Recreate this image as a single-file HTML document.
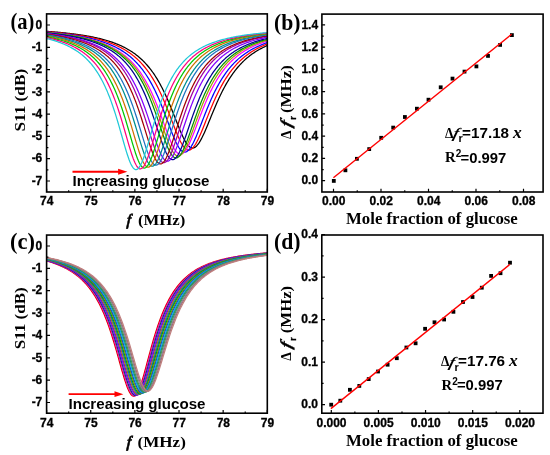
<!DOCTYPE html><html><head><meta charset="utf-8"><title>S11 glucose figure</title><style>html,body{margin:0;padding:0;background:#fff;overflow:hidden}svg{display:block}</style></head><body>
<svg width="550" height="455" viewBox="0 0 550 455">
<rect width="550" height="455" fill="#fff"/>
<clipPath id="clipa"><rect x="46.6" y="13.9" width="220.7" height="178.1"/></clipPath>
<g clip-path="url(#clipa)" fill="none" stroke-width="1.25" stroke-linejoin="round">
<path d="M46.60,31.34 L47.45,31.40 L48.30,31.46 L49.15,31.53 L50.00,31.59 L50.84,31.66 L51.69,31.72 L52.54,31.79 L53.39,31.86 L54.24,31.93 L55.09,32.00 L55.94,32.08 L56.79,32.15 L57.64,32.23 L58.48,32.30 L59.33,32.38 L60.18,32.46 L61.03,32.54 L61.88,32.63 L62.73,32.71 L63.58,32.80 L64.43,32.88 L65.27,32.97 L66.12,33.06 L66.97,33.16 L67.82,33.25 L68.67,33.35 L69.52,33.44 L70.37,33.54 L71.22,33.64 L72.07,33.75 L72.91,33.85 L73.76,33.96 L74.61,34.07 L75.46,34.18 L76.31,34.29 L77.16,34.41 L78.01,34.53 L78.86,34.65 L79.71,34.77 L80.55,34.90 L81.40,35.03 L82.25,35.16 L83.10,35.29 L83.95,35.43 L84.80,35.56 L85.65,35.71 L86.50,35.85 L87.34,36.00 L88.19,36.15 L89.04,36.31 L89.89,36.46 L90.74,36.63 L91.59,36.79 L92.44,36.96 L93.29,37.13 L94.14,37.31 L94.98,37.49 L95.83,37.67 L96.68,37.86 L97.53,38.05 L98.38,38.25 L99.23,38.45 L100.08,38.66 L100.93,38.87 L101.78,39.09 L102.62,39.31 L103.47,39.54 L104.32,39.77 L105.17,40.01 L106.02,40.25 L106.87,40.50 L107.72,40.76 L108.57,41.02 L109.41,41.29 L110.26,41.57 L111.11,41.85 L111.96,42.14 L112.81,42.44 L113.66,42.75 L114.51,43.06 L115.36,43.38 L116.21,43.71 L117.05,44.05 L117.90,44.40 L118.75,44.76 L119.60,45.13 L120.45,45.51 L121.30,45.89 L122.15,46.29 L123.00,46.70 L123.84,47.13 L124.69,47.56 L125.54,48.01 L126.39,48.46 L127.24,48.94 L128.09,49.42 L128.94,49.92 L129.79,50.44 L130.64,50.97 L131.48,51.51 L132.33,52.07 L133.18,52.65 L134.03,53.25 L134.88,53.86 L135.73,54.49 L136.58,55.15 L137.43,55.82 L138.28,56.51 L139.12,57.23 L139.97,57.96 L140.82,58.72 L141.67,59.50 L142.52,60.31 L143.37,61.15 L144.22,62.00 L145.07,62.89 L145.92,63.81 L146.76,64.75 L147.61,65.72 L148.46,66.73 L149.31,67.76 L150.16,68.83 L151.01,69.94 L151.86,71.08 L152.71,72.25 L153.55,73.46 L154.40,74.71 L155.25,76.00 L156.10,77.33 L156.95,78.70 L157.80,80.11 L158.65,81.56 L159.50,83.06 L160.35,84.59 L161.19,86.18 L162.04,87.81 L162.89,89.48 L163.74,91.20 L164.59,92.96 L165.44,94.77 L166.29,96.62 L167.14,98.51 L167.99,100.44 L168.83,102.42 L169.68,104.43 L170.53,106.47 L171.38,108.55 L172.23,110.65 L173.08,112.78 L173.93,114.93 L174.78,117.09 L175.62,119.25 L176.47,121.42 L177.32,123.57 L178.17,125.71 L179.02,127.82 L179.87,129.89 L180.72,131.91 L181.57,133.87 L182.42,135.76 L183.26,137.55 L184.11,139.25 L184.96,140.83 L185.81,142.29 L186.66,143.61 L187.51,144.77 L188.36,145.77 L189.21,146.60 L190.06,147.25 L190.90,147.71 L191.75,147.97 L192.60,148.04 L193.45,147.92 L194.30,147.62 L195.15,147.14 L196.00,146.49 L196.85,145.68 L197.69,144.70 L198.54,143.57 L199.39,142.30 L200.24,140.91 L201.09,139.39 L201.94,137.77 L202.79,136.06 L203.64,134.26 L204.49,132.39 L205.33,130.46 L206.18,128.48 L207.03,126.47 L207.88,124.42 L208.73,122.35 L209.58,120.27 L210.43,118.19 L211.28,116.11 L212.13,114.04 L212.97,111.98 L213.82,109.94 L214.67,107.93 L215.52,105.94 L216.37,103.98 L217.22,102.05 L218.07,100.16 L218.92,98.31 L219.76,96.49 L220.61,94.71 L221.46,92.98 L222.31,91.28 L223.16,89.63 L224.01,88.01 L224.86,86.44 L225.71,84.91 L226.56,83.42 L227.40,81.97 L228.25,80.56 L229.10,79.19 L229.95,77.86 L230.80,76.57 L231.65,75.31 L232.50,74.09 L233.35,72.91 L234.19,71.76 L235.04,70.65 L235.89,69.56 L236.74,68.51 L237.59,67.49 L238.44,66.50 L239.29,65.54 L240.14,64.61 L240.99,63.71 L241.83,62.83 L242.68,61.98 L243.53,61.15 L244.38,60.35 L245.23,59.57 L246.08,58.82 L246.93,58.08 L247.78,57.37 L248.63,56.68 L249.47,56.01 L250.32,55.36 L251.17,54.72 L252.02,54.11 L252.87,53.51 L253.72,52.93 L254.57,52.37 L255.42,51.82 L256.27,51.28 L257.11,50.77 L257.96,50.26 L258.81,49.77 L259.66,49.30 L260.51,48.83 L261.36,48.38 L262.21,47.94 L263.06,47.51 L263.90,47.10 L264.75,46.69 L265.60,46.30 L266.45,45.91 L267.30,45.54" stroke="#000000"/>
<path d="M46.60,31.67 L47.45,31.74 L48.30,31.80 L49.15,31.87 L50.00,31.94 L50.84,32.02 L51.69,32.09 L52.54,32.16 L53.39,32.24 L54.24,32.31 L55.09,32.39 L55.94,32.47 L56.79,32.55 L57.64,32.63 L58.48,32.72 L59.33,32.80 L60.18,32.89 L61.03,32.98 L61.88,33.07 L62.73,33.16 L63.58,33.25 L64.43,33.35 L65.27,33.44 L66.12,33.54 L66.97,33.64 L67.82,33.74 L68.67,33.85 L69.52,33.95 L70.37,34.06 L71.22,34.17 L72.07,34.29 L72.91,34.40 L73.76,34.52 L74.61,34.64 L75.46,34.76 L76.31,34.88 L77.16,35.01 L78.01,35.14 L78.86,35.27 L79.71,35.41 L80.55,35.55 L81.40,35.69 L82.25,35.83 L83.10,35.98 L83.95,36.13 L84.80,36.28 L85.65,36.44 L86.50,36.60 L87.34,36.76 L88.19,36.93 L89.04,37.10 L89.89,37.27 L90.74,37.45 L91.59,37.64 L92.44,37.82 L93.29,38.01 L94.14,38.21 L94.98,38.41 L95.83,38.61 L96.68,38.82 L97.53,39.04 L98.38,39.26 L99.23,39.48 L100.08,39.71 L100.93,39.95 L101.78,40.19 L102.62,40.44 L103.47,40.69 L104.32,40.96 L105.17,41.22 L106.02,41.50 L106.87,41.78 L107.72,42.07 L108.57,42.36 L109.41,42.66 L110.26,42.98 L111.11,43.29 L111.96,43.62 L112.81,43.96 L113.66,44.30 L114.51,44.66 L115.36,45.02 L116.21,45.40 L117.05,45.78 L117.90,46.18 L118.75,46.59 L119.60,47.01 L120.45,47.44 L121.30,47.88 L122.15,48.33 L123.00,48.80 L123.84,49.28 L124.69,49.78 L125.54,50.29 L126.39,50.81 L127.24,51.36 L128.09,51.91 L128.94,52.49 L129.79,53.08 L130.64,53.69 L131.48,54.32 L132.33,54.96 L133.18,55.63 L134.03,56.32 L134.88,57.03 L135.73,57.76 L136.58,58.51 L137.43,59.29 L138.28,60.09 L139.12,60.92 L139.97,61.78 L140.82,62.66 L141.67,63.57 L142.52,64.51 L143.37,65.48 L144.22,66.48 L145.07,67.51 L145.92,68.57 L146.76,69.67 L147.61,70.81 L148.46,71.98 L149.31,73.19 L150.16,74.43 L151.01,75.72 L151.86,77.05 L152.71,78.41 L153.55,79.82 L154.40,81.28 L155.25,82.78 L156.10,84.32 L156.95,85.91 L157.80,87.54 L158.65,89.22 L159.50,90.94 L160.35,92.72 L161.19,94.54 L162.04,96.40 L162.89,98.31 L163.74,100.26 L164.59,102.26 L165.44,104.30 L166.29,106.37 L167.14,108.48 L167.99,110.62 L168.83,112.79 L169.68,114.99 L170.53,117.20 L171.38,119.42 L172.23,121.64 L173.08,123.86 L173.93,126.07 L174.78,128.26 L175.62,130.41 L176.47,132.52 L177.32,134.57 L178.17,136.56 L179.02,138.46 L179.87,140.26 L180.72,141.95 L181.57,143.52 L182.42,144.95 L183.26,146.23 L184.11,147.34 L184.96,148.28 L185.81,149.04 L186.66,149.60 L187.51,149.96 L188.36,150.12 L189.21,150.08 L190.06,149.85 L190.90,149.43 L191.75,148.83 L192.60,148.05 L193.45,147.10 L194.30,145.99 L195.15,144.73 L196.00,143.34 L196.85,141.81 L197.69,140.18 L198.54,138.44 L199.39,136.61 L200.24,134.70 L201.09,132.73 L201.94,130.70 L202.79,128.64 L203.64,126.54 L204.49,124.41 L205.33,122.28 L206.18,120.13 L207.03,117.99 L207.88,115.86 L208.73,113.74 L209.58,111.64 L210.43,109.56 L211.28,107.52 L212.13,105.50 L212.97,103.51 L213.82,101.57 L214.67,99.66 L215.52,97.79 L216.37,95.96 L217.22,94.17 L218.07,92.43 L218.92,90.73 L219.76,89.07 L220.61,87.46 L221.46,85.89 L222.31,84.36 L223.16,82.87 L224.01,81.42 L224.86,80.02 L225.71,78.66 L226.56,77.33 L227.40,76.04 L228.25,74.80 L229.10,73.58 L229.95,72.41 L230.80,71.27 L231.65,70.16 L232.50,69.08 L233.35,68.04 L234.19,67.03 L235.04,66.05 L235.89,65.10 L236.74,64.18 L237.59,63.28 L238.44,62.42 L239.29,61.57 L240.14,60.76 L240.99,59.96 L241.83,59.19 L242.68,58.45 L243.53,57.72 L244.38,57.02 L245.23,56.33 L246.08,55.67 L246.93,55.03 L247.78,54.40 L248.63,53.79 L249.47,53.20 L250.32,52.63 L251.17,52.07 L252.02,51.53 L252.87,51.01 L253.72,50.49 L254.57,50.00 L255.42,49.51 L256.27,49.04 L257.11,48.59 L257.96,48.14 L258.81,47.71 L259.66,47.29 L260.51,46.87 L261.36,46.48 L262.21,46.09 L263.06,45.71 L263.90,45.34 L264.75,44.98 L265.60,44.63 L266.45,44.29 L267.30,43.95" stroke="#ff0000"/>
<path d="M46.60,32.08 L47.45,32.15 L48.30,32.22 L49.15,32.30 L50.00,32.37 L50.84,32.45 L51.69,32.53 L52.54,32.61 L53.39,32.69 L54.24,32.78 L55.09,32.86 L55.94,32.95 L56.79,33.04 L57.64,33.13 L58.48,33.22 L59.33,33.31 L60.18,33.41 L61.03,33.50 L61.88,33.60 L62.73,33.70 L63.58,33.80 L64.43,33.91 L65.27,34.01 L66.12,34.12 L66.97,34.23 L67.82,34.35 L68.67,34.46 L69.52,34.58 L70.37,34.70 L71.22,34.82 L72.07,34.94 L72.91,35.07 L73.76,35.20 L74.61,35.33 L75.46,35.47 L76.31,35.61 L77.16,35.75 L78.01,35.89 L78.86,36.04 L79.71,36.19 L80.55,36.34 L81.40,36.50 L82.25,36.66 L83.10,36.82 L83.95,36.99 L84.80,37.16 L85.65,37.33 L86.50,37.51 L87.34,37.69 L88.19,37.88 L89.04,38.07 L89.89,38.27 L90.74,38.47 L91.59,38.67 L92.44,38.88 L93.29,39.10 L94.14,39.32 L94.98,39.54 L95.83,39.77 L96.68,40.01 L97.53,40.25 L98.38,40.50 L99.23,40.75 L100.08,41.01 L100.93,41.28 L101.78,41.55 L102.62,41.83 L103.47,42.12 L104.32,42.42 L105.17,42.72 L106.02,43.03 L106.87,43.35 L107.72,43.68 L108.57,44.01 L109.41,44.36 L110.26,44.71 L111.11,45.08 L111.96,45.45 L112.81,45.84 L113.66,46.23 L114.51,46.64 L115.36,47.06 L116.21,47.49 L117.05,47.93 L117.90,48.38 L118.75,48.85 L119.60,49.33 L120.45,49.83 L121.30,50.34 L122.15,50.86 L123.00,51.40 L123.84,51.96 L124.69,52.53 L125.54,53.12 L126.39,53.73 L127.24,54.36 L128.09,55.01 L128.94,55.67 L129.79,56.36 L130.64,57.07 L131.48,57.80 L132.33,58.56 L133.18,59.33 L134.03,60.14 L134.88,60.96 L135.73,61.82 L136.58,62.70 L137.43,63.61 L138.28,64.55 L139.12,65.52 L139.97,66.52 L140.82,67.56 L141.67,68.62 L142.52,69.72 L143.37,70.86 L144.22,72.03 L145.07,73.24 L145.92,74.49 L146.76,75.78 L147.61,77.11 L148.46,78.49 L149.31,79.90 L150.16,81.36 L151.01,82.87 L151.86,84.42 L152.71,86.01 L153.55,87.65 L154.40,89.34 L155.25,91.08 L156.10,92.87 L156.95,94.70 L157.80,96.58 L158.65,98.51 L159.50,100.48 L160.35,102.50 L161.19,104.56 L162.04,106.67 L162.89,108.81 L163.74,110.98 L164.59,113.19 L165.44,115.42 L166.29,117.67 L167.14,119.94 L167.99,122.21 L168.83,124.49 L169.68,126.75 L170.53,129.00 L171.38,131.22 L172.23,133.40 L173.08,135.53 L173.93,137.59 L174.78,139.57 L175.62,141.46 L176.47,143.23 L177.32,144.89 L178.17,146.41 L179.02,147.78 L179.87,148.98 L180.72,150.00 L181.57,150.84 L182.42,151.48 L183.26,151.92 L184.11,152.15 L184.96,152.17 L185.81,151.99 L186.66,151.62 L187.51,151.05 L188.36,150.30 L189.21,149.38 L190.06,148.28 L190.90,147.03 L191.75,145.63 L192.60,144.10 L193.45,142.44 L194.30,140.68 L195.15,138.82 L196.00,136.88 L196.85,134.87 L197.69,132.80 L198.54,130.69 L199.39,128.54 L200.24,126.37 L201.09,124.18 L201.94,121.99 L202.79,119.79 L203.64,117.61 L204.49,115.43 L205.33,113.28 L206.18,111.15 L207.03,109.05 L207.88,106.98 L208.73,104.95 L209.58,102.95 L210.43,101.00 L211.28,99.08 L212.13,97.21 L212.97,95.38 L213.82,93.59 L214.67,91.85 L215.52,90.15 L216.37,88.50 L217.22,86.89 L218.07,85.33 L218.92,83.81 L219.76,82.33 L220.61,80.89 L221.46,79.50 L222.31,78.14 L223.16,76.83 L224.01,75.55 L224.86,74.32 L225.71,73.12 L226.56,71.95 L227.40,70.82 L228.25,69.73 L229.10,68.66 L229.95,67.63 L230.80,66.63 L231.65,65.66 L232.50,64.72 L233.35,63.81 L234.19,62.93 L235.04,62.07 L235.89,61.24 L236.74,60.43 L237.59,59.65 L238.44,58.89 L239.29,58.15 L240.14,57.43 L240.99,56.74 L241.83,56.06 L242.68,55.41 L243.53,54.77 L244.38,54.16 L245.23,53.56 L246.08,52.97 L246.93,52.41 L247.78,51.86 L248.63,51.32 L249.47,50.80 L250.32,50.30 L251.17,49.81 L252.02,49.33 L252.87,48.87 L253.72,48.41 L254.57,47.97 L255.42,47.55 L256.27,47.13 L257.11,46.72 L257.96,46.33 L258.81,45.95 L259.66,45.57 L260.51,45.21 L261.36,44.85 L262.21,44.51 L263.06,44.17 L263.90,43.84 L264.75,43.52 L265.60,43.21 L266.45,42.90 L267.30,42.61" stroke="#0000ff"/>
<path d="M46.60,32.43 L47.45,32.51 L48.30,32.59 L49.15,32.67 L50.00,32.75 L50.84,32.84 L51.69,32.92 L52.54,33.01 L53.39,33.10 L54.24,33.19 L55.09,33.28 L55.94,33.38 L56.79,33.47 L57.64,33.57 L58.48,33.67 L59.33,33.77 L60.18,33.88 L61.03,33.98 L61.88,34.09 L62.73,34.20 L63.58,34.31 L64.43,34.42 L65.27,34.54 L66.12,34.66 L66.97,34.78 L67.82,34.90 L68.67,35.03 L69.52,35.16 L70.37,35.29 L71.22,35.42 L72.07,35.56 L72.91,35.70 L73.76,35.84 L74.61,35.99 L75.46,36.14 L76.31,36.29 L77.16,36.44 L78.01,36.60 L78.86,36.76 L79.71,36.93 L80.55,37.10 L81.40,37.27 L82.25,37.45 L83.10,37.63 L83.95,37.82 L84.80,38.01 L85.65,38.20 L86.50,38.40 L87.34,38.60 L88.19,38.81 L89.04,39.02 L89.89,39.24 L90.74,39.47 L91.59,39.70 L92.44,39.93 L93.29,40.17 L94.14,40.42 L94.98,40.67 L95.83,40.93 L96.68,41.19 L97.53,41.47 L98.38,41.75 L99.23,42.03 L100.08,42.33 L100.93,42.63 L101.78,42.94 L102.62,43.25 L103.47,43.58 L104.32,43.92 L105.17,44.26 L106.02,44.61 L106.87,44.98 L107.72,45.35 L108.57,45.73 L109.41,46.13 L110.26,46.53 L111.11,46.95 L111.96,47.38 L112.81,47.82 L113.66,48.27 L114.51,48.74 L115.36,49.22 L116.21,49.71 L117.05,50.22 L117.90,50.75 L118.75,51.29 L119.60,51.84 L120.45,52.42 L121.30,53.01 L122.15,53.62 L123.00,54.24 L123.84,54.89 L124.69,55.56 L125.54,56.25 L126.39,56.96 L127.24,57.69 L128.09,58.44 L128.94,59.22 L129.79,60.03 L130.64,60.86 L131.48,61.72 L132.33,62.60 L133.18,63.52 L134.03,64.46 L134.88,65.43 L135.73,66.44 L136.58,67.48 L137.43,68.55 L138.28,69.66 L139.12,70.81 L139.97,71.99 L140.82,73.21 L141.67,74.47 L142.52,75.77 L143.37,77.12 L144.22,78.50 L145.07,79.93 L145.92,81.41 L146.76,82.93 L147.61,84.50 L148.46,86.12 L149.31,87.79 L150.16,89.50 L151.01,91.27 L151.86,93.08 L152.71,94.95 L153.55,96.86 L154.40,98.83 L155.25,100.84 L156.10,102.90 L156.95,105.01 L157.80,107.16 L158.65,109.35 L159.50,111.57 L160.35,113.84 L161.19,116.13 L162.04,118.44 L162.89,120.78 L163.74,123.12 L164.59,125.47 L165.44,127.81 L166.29,130.13 L167.14,132.43 L167.99,134.68 L168.83,136.89 L169.68,139.02 L170.53,141.08 L171.38,143.04 L172.23,144.89 L173.08,146.62 L173.93,148.20 L174.78,149.62 L175.62,150.87 L176.47,151.94 L177.32,152.81 L178.17,153.48 L179.02,153.93 L179.87,154.16 L180.72,154.17 L181.57,153.98 L182.42,153.58 L183.26,152.97 L184.11,152.18 L184.96,151.20 L185.81,150.04 L186.66,148.72 L187.51,147.25 L188.36,145.64 L189.21,143.91 L190.06,142.06 L190.90,140.12 L191.75,138.09 L192.60,136.00 L193.45,133.85 L194.30,131.66 L195.15,129.43 L196.00,127.18 L196.85,124.92 L197.69,122.65 L198.54,120.39 L199.39,118.14 L200.24,115.90 L201.09,113.69 L201.94,111.51 L202.79,109.36 L203.64,107.24 L204.49,105.16 L205.33,103.12 L206.18,101.13 L207.03,99.17 L207.88,97.27 L208.73,95.41 L209.58,93.59 L210.43,91.82 L211.28,90.10 L212.13,88.43 L212.97,86.80 L213.82,85.22 L214.67,83.68 L215.52,82.19 L216.37,80.74 L217.22,79.33 L218.07,77.97 L218.92,76.64 L219.76,75.36 L220.61,74.11 L221.46,72.90 L222.31,71.73 L223.16,70.60 L224.01,69.50 L224.86,68.43 L225.71,67.40 L226.56,66.40 L227.40,65.43 L228.25,64.48 L229.10,63.57 L229.95,62.69 L230.80,61.83 L231.65,61.00 L232.50,60.19 L233.35,59.41 L234.19,58.65 L235.04,57.91 L235.89,57.20 L236.74,56.50 L237.59,55.83 L238.44,55.18 L239.29,54.54 L240.14,53.93 L240.99,53.33 L241.83,52.75 L242.68,52.19 L243.53,51.64 L244.38,51.11 L245.23,50.59 L246.08,50.09 L246.93,49.60 L247.78,49.12 L248.63,48.66 L249.47,48.21 L250.32,47.78 L251.17,47.35 L252.02,46.94 L252.87,46.54 L253.72,46.14 L254.57,45.76 L255.42,45.39 L256.27,45.03 L257.11,44.68 L257.96,44.33 L258.81,44.00 L259.66,43.67 L260.51,43.36 L261.36,43.05 L262.21,42.75 L263.06,42.45 L263.90,42.16 L264.75,41.88 L265.60,41.61 L266.45,41.34 L267.30,41.08" stroke="#ff00ff"/>
<path d="M46.60,32.50 L47.45,32.58 L48.30,32.66 L49.15,32.75 L50.00,32.83 L50.84,32.92 L51.69,33.01 L52.54,33.10 L53.39,33.19 L54.24,33.28 L55.09,33.37 L55.94,33.47 L56.79,33.57 L57.64,33.67 L58.48,33.77 L59.33,33.87 L60.18,33.98 L61.03,34.09 L61.88,34.20 L62.73,34.31 L63.58,34.42 L64.43,34.54 L65.27,34.66 L66.12,34.78 L66.97,34.91 L67.82,35.03 L68.67,35.16 L69.52,35.30 L70.37,35.43 L71.22,35.57 L72.07,35.71 L72.91,35.85 L73.76,36.00 L74.61,36.15 L75.46,36.31 L76.31,36.46 L77.16,36.62 L78.01,36.79 L78.86,36.96 L79.71,37.13 L80.55,37.30 L81.40,37.48 L82.25,37.67 L83.10,37.85 L83.95,38.05 L84.80,38.24 L85.65,38.45 L86.50,38.65 L87.34,38.86 L88.19,39.08 L89.04,39.30 L89.89,39.53 L90.74,39.76 L91.59,40.00 L92.44,40.25 L93.29,40.50 L94.14,40.75 L94.98,41.02 L95.83,41.29 L96.68,41.57 L97.53,41.85 L98.38,42.14 L99.23,42.44 L100.08,42.75 L100.93,43.07 L101.78,43.39 L102.62,43.73 L103.47,44.07 L104.32,44.42 L105.17,44.79 L106.02,45.16 L106.87,45.54 L107.72,45.94 L108.57,46.34 L109.41,46.76 L110.26,47.19 L111.11,47.63 L111.96,48.08 L112.81,48.55 L113.66,49.03 L114.51,49.53 L115.36,50.04 L116.21,50.56 L117.05,51.10 L117.90,51.66 L118.75,52.24 L119.60,52.83 L120.45,53.45 L121.30,54.08 L122.15,54.73 L123.00,55.40 L123.84,56.09 L124.69,56.81 L125.54,57.55 L126.39,58.31 L127.24,59.10 L128.09,59.91 L128.94,60.75 L129.79,61.62 L130.64,62.52 L131.48,63.44 L132.33,64.40 L133.18,65.39 L134.03,66.41 L134.88,67.47 L135.73,68.56 L136.58,69.69 L137.43,70.85 L138.28,72.06 L139.12,73.30 L139.97,74.59 L140.82,75.92 L141.67,77.29 L142.52,78.71 L143.37,80.17 L144.22,81.69 L145.07,83.25 L145.92,84.86 L146.76,86.52 L147.61,88.24 L148.46,90.00 L149.31,91.82 L150.16,93.69 L151.01,95.61 L151.86,97.59 L152.71,99.62 L153.55,101.70 L154.40,103.84 L155.25,106.02 L156.10,108.24 L156.95,110.52 L157.80,112.83 L158.65,115.18 L159.50,117.56 L160.35,119.96 L161.19,122.38 L162.04,124.82 L162.89,127.25 L163.74,129.68 L164.59,132.09 L165.44,134.47 L166.29,136.80 L167.14,139.08 L167.99,141.28 L168.83,143.39 L169.68,145.40 L170.53,147.28 L171.38,149.02 L172.23,150.61 L173.08,152.02 L173.93,153.24 L174.78,154.26 L175.62,155.07 L176.47,155.65 L177.32,156.00 L178.17,156.12 L179.02,156.01 L179.87,155.68 L180.72,155.13 L181.57,154.37 L182.42,153.41 L183.26,152.26 L184.11,150.93 L184.96,149.44 L185.81,147.79 L186.66,146.01 L187.51,144.11 L188.36,142.10 L189.21,140.00 L190.06,137.83 L190.90,135.60 L191.75,133.31 L192.60,131.00 L193.45,128.66 L194.30,126.30 L195.15,123.95 L196.00,121.59 L196.85,119.25 L197.69,116.93 L198.54,114.64 L199.39,112.37 L200.24,110.14 L201.09,107.95 L201.94,105.80 L202.79,103.70 L203.64,101.64 L204.49,99.62 L205.33,97.66 L206.18,95.74 L207.03,93.88 L207.88,92.06 L208.73,90.29 L209.58,88.58 L210.43,86.91 L211.28,85.29 L212.13,83.72 L212.97,82.19 L213.82,80.71 L214.67,79.28 L215.52,77.89 L216.37,76.54 L217.22,75.23 L218.07,73.97 L218.92,72.74 L219.76,71.55 L220.61,70.40 L221.46,69.29 L222.31,68.21 L223.16,67.16 L224.01,66.15 L224.86,65.17 L225.71,64.22 L226.56,63.30 L227.40,62.41 L228.25,61.54 L229.10,60.71 L229.95,59.89 L230.80,59.11 L231.65,58.34 L232.50,57.61 L233.35,56.89 L234.19,56.19 L235.04,55.52 L235.89,54.86 L236.74,54.23 L237.59,53.61 L238.44,53.02 L239.29,52.44 L240.14,51.87 L240.99,51.33 L241.83,50.79 L242.68,50.28 L243.53,49.78 L244.38,49.29 L245.23,48.82 L246.08,48.36 L246.93,47.91 L247.78,47.48 L248.63,47.05 L249.47,46.64 L250.32,46.24 L251.17,45.85 L252.02,45.47 L252.87,45.10 L253.72,44.75 L254.57,44.40 L255.42,44.06 L256.27,43.72 L257.11,43.40 L257.96,43.09 L258.81,42.78 L259.66,42.48 L260.51,42.19 L261.36,41.90 L262.21,41.63 L263.06,41.36 L263.90,41.09 L264.75,40.84 L265.60,40.58 L266.45,40.34 L267.30,40.10" stroke="#a0a000"/>
<path d="M46.60,32.65 L47.45,32.73 L48.30,32.81 L49.15,32.90 L50.00,32.99 L50.84,33.07 L51.69,33.17 L52.54,33.26 L53.39,33.35 L54.24,33.45 L55.09,33.55 L55.94,33.64 L56.79,33.75 L57.64,33.85 L58.48,33.96 L59.33,34.06 L60.18,34.17 L61.03,34.29 L61.88,34.40 L62.73,34.52 L63.58,34.64 L64.43,34.76 L65.27,34.88 L66.12,35.01 L66.97,35.14 L67.82,35.27 L68.67,35.40 L69.52,35.54 L70.37,35.68 L71.22,35.83 L72.07,35.97 L72.91,36.12 L73.76,36.28 L74.61,36.43 L75.46,36.59 L76.31,36.76 L77.16,36.93 L78.01,37.10 L78.86,37.27 L79.71,37.45 L80.55,37.64 L81.40,37.82 L82.25,38.02 L83.10,38.21 L83.95,38.42 L84.80,38.62 L85.65,38.84 L86.50,39.05 L87.34,39.27 L88.19,39.50 L89.04,39.74 L89.89,39.98 L90.74,40.22 L91.59,40.47 L92.44,40.73 L93.29,41.00 L94.14,41.27 L94.98,41.55 L95.83,41.83 L96.68,42.13 L97.53,42.43 L98.38,42.74 L99.23,43.06 L100.08,43.38 L100.93,43.72 L101.78,44.06 L102.62,44.42 L103.47,44.78 L104.32,45.16 L105.17,45.54 L106.02,45.94 L106.87,46.35 L107.72,46.77 L108.57,47.20 L109.41,47.65 L110.26,48.10 L111.11,48.58 L111.96,49.06 L112.81,49.56 L113.66,50.08 L114.51,50.61 L115.36,51.16 L116.21,51.73 L117.05,52.31 L117.90,52.91 L118.75,53.53 L119.60,54.17 L120.45,54.83 L121.30,55.51 L122.15,56.22 L123.00,56.94 L123.84,57.69 L124.69,58.47 L125.54,59.27 L126.39,60.10 L127.24,60.95 L128.09,61.84 L128.94,62.75 L129.79,63.69 L130.64,64.67 L131.48,65.68 L132.33,66.72 L133.18,67.80 L134.03,68.91 L134.88,70.07 L135.73,71.26 L136.58,72.49 L137.43,73.77 L138.28,75.09 L139.12,76.45 L139.97,77.86 L140.82,79.31 L141.67,80.82 L142.52,82.37 L143.37,83.98 L144.22,85.64 L145.07,87.35 L145.92,89.11 L146.76,90.93 L147.61,92.81 L148.46,94.74 L149.31,96.72 L150.16,98.76 L151.01,100.86 L151.86,103.01 L152.71,105.22 L153.55,107.47 L154.40,109.78 L155.25,112.12 L156.10,114.52 L156.95,116.94 L157.80,119.40 L158.65,121.89 L159.50,124.39 L160.35,126.90 L161.19,129.42 L162.04,131.92 L162.89,134.39 L163.74,136.83 L164.59,139.22 L165.44,141.54 L166.29,143.78 L167.14,145.92 L167.99,147.94 L168.83,149.81 L169.68,151.54 L170.53,153.09 L171.38,154.45 L172.23,155.60 L173.08,156.54 L173.93,157.24 L174.78,157.71 L175.62,157.92 L176.47,157.90 L177.32,157.63 L178.17,157.14 L179.02,156.43 L179.87,155.50 L180.72,154.36 L181.57,153.03 L182.42,151.53 L183.26,149.86 L184.11,148.04 L184.96,146.09 L185.81,144.04 L186.66,141.88 L187.51,139.64 L188.36,137.34 L189.21,134.98 L190.06,132.59 L190.90,130.17 L191.75,127.74 L192.60,125.31 L193.45,122.88 L194.30,120.46 L195.15,118.06 L196.00,115.70 L196.85,113.36 L197.69,111.06 L198.54,108.80 L199.39,106.59 L200.24,104.42 L201.09,102.31 L201.94,100.24 L202.79,98.22 L203.64,96.25 L204.49,94.34 L205.33,92.48 L206.18,90.67 L207.03,88.92 L207.88,87.21 L208.73,85.56 L209.58,83.95 L210.43,82.40 L211.28,80.89 L212.13,79.43 L212.97,78.01 L213.82,76.64 L214.67,75.31 L215.52,74.03 L216.37,72.78 L217.22,71.58 L218.07,70.41 L218.92,69.28 L219.76,68.19 L220.61,67.13 L221.46,66.11 L222.31,65.12 L223.16,64.16 L224.01,63.23 L224.86,62.33 L225.71,61.45 L226.56,60.61 L227.40,59.79 L228.25,59.00 L229.10,58.23 L229.95,57.49 L230.80,56.77 L231.65,56.07 L232.50,55.39 L233.35,54.73 L234.19,54.09 L235.04,53.48 L235.89,52.88 L236.74,52.29 L237.59,51.73 L238.44,51.18 L239.29,50.65 L240.14,50.13 L240.99,49.63 L241.83,49.14 L242.68,48.67 L243.53,48.21 L244.38,47.76 L245.23,47.33 L246.08,46.90 L246.93,46.49 L247.78,46.09 L248.63,45.71 L249.47,45.33 L250.32,44.96 L251.17,44.60 L252.02,44.25 L252.87,43.91 L253.72,43.58 L254.57,43.26 L255.42,42.95 L256.27,42.64 L257.11,42.34 L257.96,42.05 L258.81,41.77 L259.66,41.49 L260.51,41.22 L261.36,40.96 L262.21,40.71 L263.06,40.46 L263.90,40.21 L264.75,39.98 L265.60,39.74 L266.45,39.52 L267.30,39.30" stroke="#009000"/>
<path d="M46.60,32.98 L47.45,33.07 L48.30,33.16 L49.15,33.25 L50.00,33.34 L50.84,33.44 L51.69,33.53 L52.54,33.63 L53.39,33.73 L54.24,33.84 L55.09,33.94 L55.94,34.05 L56.79,34.16 L57.64,34.27 L58.48,34.38 L59.33,34.50 L60.18,34.62 L61.03,34.74 L61.88,34.86 L62.73,34.98 L63.58,35.11 L64.43,35.24 L65.27,35.38 L66.12,35.52 L66.97,35.66 L67.82,35.80 L68.67,35.94 L69.52,36.09 L70.37,36.25 L71.22,36.40 L72.07,36.56 L72.91,36.72 L73.76,36.89 L74.61,37.06 L75.46,37.24 L76.31,37.41 L77.16,37.60 L78.01,37.78 L78.86,37.97 L79.71,38.17 L80.55,38.37 L81.40,38.58 L82.25,38.79 L83.10,39.00 L83.95,39.22 L84.80,39.45 L85.65,39.68 L86.50,39.92 L87.34,40.17 L88.19,40.42 L89.04,40.67 L89.89,40.94 L90.74,41.21 L91.59,41.48 L92.44,41.77 L93.29,42.06 L94.14,42.36 L94.98,42.67 L95.83,42.99 L96.68,43.31 L97.53,43.65 L98.38,43.99 L99.23,44.34 L100.08,44.71 L100.93,45.08 L101.78,45.46 L102.62,45.86 L103.47,46.26 L104.32,46.68 L105.17,47.11 L106.02,47.56 L106.87,48.01 L107.72,48.49 L108.57,48.97 L109.41,49.47 L110.26,49.98 L111.11,50.51 L111.96,51.06 L112.81,51.63 L113.66,52.21 L114.51,52.81 L115.36,53.43 L116.21,54.07 L117.05,54.73 L117.90,55.41 L118.75,56.11 L119.60,56.84 L120.45,57.59 L121.30,58.36 L122.15,59.16 L123.00,59.99 L123.84,60.85 L124.69,61.73 L125.54,62.64 L126.39,63.59 L127.24,64.57 L128.09,65.58 L128.94,66.62 L129.79,67.70 L130.64,68.82 L131.48,69.98 L132.33,71.18 L133.18,72.41 L134.03,73.70 L134.88,75.02 L135.73,76.39 L136.58,77.81 L137.43,79.27 L138.28,80.79 L139.12,82.35 L139.97,83.97 L140.82,85.64 L141.67,87.37 L142.52,89.15 L143.37,90.99 L144.22,92.88 L145.07,94.83 L145.92,96.84 L146.76,98.91 L147.61,101.04 L148.46,103.22 L149.31,105.46 L150.16,107.75 L151.01,110.09 L151.86,112.48 L152.71,114.92 L153.55,117.39 L154.40,119.90 L155.25,122.44 L156.10,125.00 L156.95,127.57 L157.80,130.15 L158.65,132.71 L159.50,135.26 L160.35,137.77 L161.19,140.23 L162.04,142.62 L162.89,144.93 L163.74,147.14 L164.59,149.23 L165.44,151.17 L166.29,152.96 L167.14,154.57 L167.99,155.99 L168.83,157.19 L169.68,158.17 L170.53,158.90 L171.38,159.39 L172.23,159.63 L173.08,159.60 L173.93,159.34 L174.78,158.83 L175.62,158.09 L176.47,157.13 L177.32,155.95 L178.17,154.57 L179.02,153.01 L179.87,151.28 L180.72,149.40 L181.57,147.39 L182.42,145.26 L183.26,143.04 L184.11,140.73 L184.96,138.35 L185.81,135.93 L186.66,133.46 L187.51,130.98 L188.36,128.48 L189.21,125.98 L190.06,123.49 L190.90,121.02 L191.75,118.57 L192.60,116.15 L193.45,113.77 L194.30,111.42 L195.15,109.12 L196.00,106.87 L196.85,104.66 L197.69,102.51 L198.54,100.41 L199.39,98.36 L200.24,96.37 L201.09,94.43 L201.94,92.54 L202.79,90.71 L203.64,88.94 L204.49,87.22 L205.33,85.54 L206.18,83.92 L207.03,82.35 L207.88,80.83 L208.73,79.36 L209.58,77.94 L210.43,76.56 L211.28,75.22 L212.13,73.93 L212.97,72.68 L213.82,71.47 L214.67,70.29 L215.52,69.16 L216.37,68.06 L217.22,67.00 L218.07,65.97 L218.92,64.98 L219.76,64.02 L220.61,63.09 L221.46,62.18 L222.31,61.31 L223.16,60.47 L224.01,59.65 L224.86,58.85 L225.71,58.09 L226.56,57.34 L227.40,56.62 L228.25,55.92 L229.10,55.25 L229.95,54.59 L230.80,53.95 L231.65,53.34 L232.50,52.74 L233.35,52.16 L234.19,51.59 L235.04,51.05 L235.89,50.52 L236.74,50.00 L237.59,49.50 L238.44,49.01 L239.29,48.54 L240.14,48.08 L240.99,47.64 L241.83,47.21 L242.68,46.78 L243.53,46.38 L244.38,45.98 L245.23,45.59 L246.08,45.21 L246.93,44.85 L247.78,44.49 L248.63,44.14 L249.47,43.81 L250.32,43.48 L251.17,43.16 L252.02,42.85 L252.87,42.54 L253.72,42.25 L254.57,41.96 L255.42,41.68 L256.27,41.40 L257.11,41.13 L257.96,40.87 L258.81,40.62 L259.66,40.37 L260.51,40.13 L261.36,39.89 L262.21,39.66 L263.06,39.44 L263.90,39.22 L264.75,39.00 L265.60,38.79 L266.45,38.59 L267.30,38.39" stroke="#000090"/>
<path d="M46.60,33.55 L47.45,33.65 L48.30,33.75 L49.15,33.85 L50.00,33.96 L50.84,34.07 L51.69,34.17 L52.54,34.29 L53.39,34.40 L54.24,34.51 L55.09,34.63 L55.94,34.75 L56.79,34.88 L57.64,35.00 L58.48,35.13 L59.33,35.26 L60.18,35.39 L61.03,35.53 L61.88,35.67 L62.73,35.81 L63.58,35.96 L64.43,36.11 L65.27,36.26 L66.12,36.42 L66.97,36.58 L67.82,36.74 L68.67,36.90 L69.52,37.08 L70.37,37.25 L71.22,37.43 L72.07,37.61 L72.91,37.80 L73.76,37.99 L74.61,38.19 L75.46,38.39 L76.31,38.59 L77.16,38.80 L78.01,39.02 L78.86,39.24 L79.71,39.47 L80.55,39.70 L81.40,39.94 L82.25,40.18 L83.10,40.43 L83.95,40.69 L84.80,40.95 L85.65,41.22 L86.50,41.50 L87.34,41.79 L88.19,42.08 L89.04,42.38 L89.89,42.69 L90.74,43.01 L91.59,43.33 L92.44,43.67 L93.29,44.01 L94.14,44.37 L94.98,44.73 L95.83,45.10 L96.68,45.49 L97.53,45.89 L98.38,46.29 L99.23,46.71 L100.08,47.15 L100.93,47.59 L101.78,48.05 L102.62,48.52 L103.47,49.01 L104.32,49.51 L105.17,50.03 L106.02,50.56 L106.87,51.11 L107.72,51.68 L108.57,52.26 L109.41,52.87 L110.26,53.49 L111.11,54.13 L111.96,54.80 L112.81,55.48 L113.66,56.19 L114.51,56.92 L115.36,57.68 L116.21,58.46 L117.05,59.27 L117.90,60.10 L118.75,60.96 L119.60,61.85 L120.45,62.78 L121.30,63.73 L122.15,64.72 L123.00,65.74 L123.84,66.79 L124.69,67.89 L125.54,69.02 L126.39,70.19 L127.24,71.40 L128.09,72.65 L128.94,73.95 L129.79,75.29 L130.64,76.68 L131.48,78.11 L132.33,79.60 L133.18,81.13 L134.03,82.72 L134.88,84.36 L135.73,86.06 L136.58,87.81 L137.43,89.62 L138.28,91.49 L139.12,93.42 L139.97,95.40 L140.82,97.45 L141.67,99.55 L142.52,101.72 L143.37,103.94 L144.22,106.22 L145.07,108.56 L145.92,110.95 L146.76,113.39 L147.61,115.87 L148.46,118.40 L149.31,120.97 L150.16,123.56 L151.01,126.18 L151.86,128.80 L152.71,131.44 L153.55,134.06 L154.40,136.66 L155.25,139.22 L156.10,141.73 L156.95,144.18 L157.80,146.53 L158.65,148.78 L159.50,150.90 L160.35,152.88 L161.19,154.68 L162.04,156.31 L162.89,157.72 L163.74,158.92 L164.59,159.87 L165.44,160.58 L166.29,161.03 L167.14,161.22 L167.99,161.14 L168.83,160.81 L169.68,160.23 L170.53,159.41 L171.38,158.36 L172.23,157.10 L173.08,155.63 L173.93,153.98 L174.78,152.15 L175.62,150.18 L176.47,148.07 L177.32,145.86 L178.17,143.54 L179.02,141.15 L179.87,138.69 L180.72,136.19 L181.57,133.66 L182.42,131.11 L183.26,128.55 L184.11,126.00 L184.96,123.45 L185.81,120.93 L186.66,118.44 L187.51,115.98 L188.36,113.56 L189.21,111.18 L190.06,108.86 L190.90,106.58 L191.75,104.35 L192.60,102.18 L193.45,100.06 L194.30,98.00 L195.15,96.00 L196.00,94.05 L196.85,92.15 L197.69,90.32 L198.54,88.54 L199.39,86.81 L200.24,85.14 L201.09,83.52 L201.94,81.95 L202.79,80.43 L203.64,78.95 L204.49,77.53 L205.33,76.15 L206.18,74.82 L207.03,73.53 L207.88,72.28 L208.73,71.08 L209.58,69.91 L210.43,68.78 L211.28,67.69 L212.13,66.63 L212.97,65.61 L213.82,64.62 L214.67,63.67 L215.52,62.74 L216.37,61.85 L217.22,60.98 L218.07,60.14 L218.92,59.33 L219.76,58.54 L220.61,57.78 L221.46,57.04 L222.31,56.33 L223.16,55.63 L224.01,54.96 L224.86,54.31 L225.71,53.68 L226.56,53.07 L227.40,52.47 L228.25,51.90 L229.10,51.34 L229.95,50.80 L230.80,50.27 L231.65,49.76 L232.50,49.27 L233.35,48.79 L234.19,48.32 L235.04,47.87 L235.89,47.43 L236.74,47.00 L237.59,46.58 L238.44,46.18 L239.29,45.78 L240.14,45.40 L240.99,45.03 L241.83,44.67 L242.68,44.31 L243.53,43.97 L244.38,43.64 L245.23,43.31 L246.08,42.99 L246.93,42.69 L247.78,42.39 L248.63,42.09 L249.47,41.81 L250.32,41.53 L251.17,41.26 L252.02,41.00 L252.87,40.74 L253.72,40.49 L254.57,40.24 L255.42,40.00 L256.27,39.77 L257.11,39.54 L257.96,39.32 L258.81,39.10 L259.66,38.89 L260.51,38.68 L261.36,38.48 L262.21,38.28 L263.06,38.09 L263.90,37.90 L264.75,37.72 L265.60,37.54 L266.45,37.36 L267.30,37.19" stroke="#8000ff"/>
<path d="M46.60,33.77 L47.45,33.88 L48.30,33.98 L49.15,34.09 L50.00,34.20 L50.84,34.31 L51.69,34.43 L52.54,34.55 L53.39,34.67 L54.24,34.79 L55.09,34.91 L55.94,35.04 L56.79,35.17 L57.64,35.30 L58.48,35.44 L59.33,35.58 L60.18,35.72 L61.03,35.87 L61.88,36.02 L62.73,36.17 L63.58,36.32 L64.43,36.48 L65.27,36.64 L66.12,36.81 L66.97,36.98 L67.82,37.15 L68.67,37.33 L69.52,37.52 L70.37,37.70 L71.22,37.89 L72.07,38.09 L72.91,38.29 L73.76,38.50 L74.61,38.71 L75.46,38.92 L76.31,39.15 L77.16,39.37 L78.01,39.61 L78.86,39.84 L79.71,40.09 L80.55,40.34 L81.40,40.60 L82.25,40.86 L83.10,41.14 L83.95,41.42 L84.80,41.70 L85.65,42.00 L86.50,42.30 L87.34,42.61 L88.19,42.93 L89.04,43.26 L89.89,43.60 L90.74,43.94 L91.59,44.30 L92.44,44.67 L93.29,45.05 L94.14,45.44 L94.98,45.84 L95.83,46.25 L96.68,46.68 L97.53,47.11 L98.38,47.57 L99.23,48.03 L100.08,48.51 L100.93,49.00 L101.78,49.51 L102.62,50.04 L103.47,50.58 L104.32,51.14 L105.17,51.72 L106.02,52.31 L106.87,52.93 L107.72,53.56 L108.57,54.22 L109.41,54.90 L110.26,55.60 L111.11,56.32 L111.96,57.07 L112.81,57.85 L113.66,58.65 L114.51,59.47 L115.36,60.33 L116.21,61.22 L117.05,62.13 L117.90,63.08 L118.75,64.06 L119.60,65.08 L120.45,66.13 L121.30,67.22 L122.15,68.35 L123.00,69.52 L123.84,70.73 L124.69,71.98 L125.54,73.28 L126.39,74.62 L127.24,76.01 L128.09,77.45 L128.94,78.94 L129.79,80.49 L130.64,82.09 L131.48,83.74 L132.33,85.45 L133.18,87.22 L134.03,89.05 L134.88,90.94 L135.73,92.89 L136.58,94.90 L137.43,96.98 L138.28,99.12 L139.12,101.32 L139.97,103.59 L140.82,105.92 L141.67,108.30 L142.52,110.75 L143.37,113.25 L144.22,115.80 L145.07,118.40 L145.92,121.03 L146.76,123.71 L147.61,126.41 L148.46,129.12 L149.31,131.84 L150.16,134.56 L151.01,137.26 L151.86,139.92 L152.71,142.53 L153.55,145.07 L154.40,147.52 L155.25,149.86 L156.10,152.07 L156.95,154.12 L157.80,156.00 L158.65,157.69 L159.50,159.15 L160.35,160.38 L161.19,161.36 L162.04,162.07 L162.89,162.51 L163.74,162.66 L164.59,162.54 L165.44,162.15 L166.29,161.50 L167.14,160.59 L167.99,159.44 L168.83,158.07 L169.68,156.49 L170.53,154.71 L171.38,152.76 L172.23,150.66 L173.08,148.42 L173.93,146.08 L174.78,143.64 L175.62,141.12 L176.47,138.55 L177.32,135.94 L178.17,133.30 L179.02,130.65 L179.87,128.00 L180.72,125.37 L181.57,122.75 L182.42,120.15 L183.26,117.60 L184.11,115.08 L184.96,112.61 L185.81,110.19 L186.66,107.82 L187.51,105.50 L188.36,103.25 L189.21,101.05 L190.06,98.91 L190.90,96.83 L191.75,94.81 L192.60,92.86 L193.45,90.96 L194.30,89.11 L195.15,87.33 L196.00,85.60 L196.85,83.93 L197.69,82.32 L198.54,80.75 L199.39,79.24 L200.24,77.77 L201.09,76.36 L201.94,74.99 L202.79,73.67 L203.64,72.39 L204.49,71.16 L205.33,69.97 L206.18,68.81 L207.03,67.70 L207.88,66.62 L208.73,65.58 L209.58,64.57 L210.43,63.60 L211.28,62.66 L212.13,61.75 L212.97,60.87 L213.82,60.02 L214.67,59.19 L215.52,58.40 L216.37,57.63 L217.22,56.88 L218.07,56.16 L218.92,55.46 L219.76,54.78 L220.61,54.12 L221.46,53.48 L222.31,52.87 L223.16,52.27 L224.01,51.69 L224.86,51.13 L225.71,50.59 L226.56,50.06 L227.40,49.54 L228.25,49.05 L229.10,48.56 L229.95,48.10 L230.80,47.64 L231.65,47.20 L232.50,46.77 L233.35,46.35 L234.19,45.95 L235.04,45.56 L235.89,45.17 L236.74,44.80 L237.59,44.44 L238.44,44.09 L239.29,43.74 L240.14,43.41 L240.99,43.09 L241.83,42.77 L242.68,42.46 L243.53,42.17 L244.38,41.87 L245.23,41.59 L246.08,41.31 L246.93,41.04 L247.78,40.78 L248.63,40.53 L249.47,40.28 L250.32,40.03 L251.17,39.80 L252.02,39.56 L252.87,39.34 L253.72,39.12 L254.57,38.90 L255.42,38.69 L256.27,38.49 L257.11,38.29 L257.96,38.09 L258.81,37.90 L259.66,37.71 L260.51,37.53 L261.36,37.35 L262.21,37.18 L263.06,37.01 L263.90,36.84 L264.75,36.68 L265.60,36.52 L266.45,36.37 L267.30,36.21" stroke="#a000a0"/>
<path d="M46.60,34.32 L47.45,34.43 L48.30,34.55 L49.15,34.67 L50.00,34.79 L50.84,34.91 L51.69,35.04 L52.54,35.16 L53.39,35.30 L54.24,35.43 L55.09,35.57 L55.94,35.71 L56.79,35.85 L57.64,36.00 L58.48,36.15 L59.33,36.30 L60.18,36.46 L61.03,36.62 L61.88,36.78 L62.73,36.95 L63.58,37.12 L64.43,37.29 L65.27,37.47 L66.12,37.66 L66.97,37.85 L67.82,38.04 L68.67,38.24 L69.52,38.44 L70.37,38.64 L71.22,38.86 L72.07,39.07 L72.91,39.30 L73.76,39.53 L74.61,39.76 L75.46,40.00 L76.31,40.25 L77.16,40.50 L78.01,40.76 L78.86,41.03 L79.71,41.30 L80.55,41.58 L81.40,41.87 L82.25,42.17 L83.10,42.47 L83.95,42.79 L84.80,43.11 L85.65,43.44 L86.50,43.78 L87.34,44.13 L88.19,44.49 L89.04,44.86 L89.89,45.24 L90.74,45.63 L91.59,46.04 L92.44,46.45 L93.29,46.88 L94.14,47.32 L94.98,47.77 L95.83,48.24 L96.68,48.72 L97.53,49.22 L98.38,49.73 L99.23,50.26 L100.08,50.81 L100.93,51.37 L101.78,51.95 L102.62,52.55 L103.47,53.17 L104.32,53.81 L105.17,54.47 L106.02,55.15 L106.87,55.86 L107.72,56.58 L108.57,57.34 L109.41,58.11 L110.26,58.92 L111.11,59.75 L111.96,60.61 L112.81,61.50 L113.66,62.43 L114.51,63.38 L115.36,64.37 L116.21,65.39 L117.05,66.45 L117.90,67.54 L118.75,68.68 L119.60,69.85 L120.45,71.07 L121.30,72.33 L122.15,73.63 L123.00,74.98 L123.84,76.38 L124.69,77.83 L125.54,79.33 L126.39,80.88 L127.24,82.49 L128.09,84.15 L128.94,85.87 L129.79,87.65 L130.64,89.49 L131.48,91.39 L132.33,93.35 L133.18,95.38 L134.03,97.47 L134.88,99.62 L135.73,101.84 L136.58,104.12 L137.43,106.46 L138.28,108.86 L139.12,111.32 L139.97,113.84 L140.82,116.41 L141.67,119.03 L142.52,121.69 L143.37,124.38 L144.22,127.11 L145.07,129.85 L145.92,132.60 L146.76,135.34 L147.61,138.07 L148.46,140.76 L149.31,143.40 L150.16,145.97 L151.01,148.46 L151.86,150.83 L152.71,153.08 L153.55,155.17 L154.40,157.08 L155.25,158.80 L156.10,160.30 L156.95,161.57 L157.80,162.58 L158.65,163.32 L159.50,163.78 L160.35,163.96 L161.19,163.86 L162.04,163.49 L162.89,162.85 L163.74,161.95 L164.59,160.80 L165.44,159.43 L166.29,157.84 L167.14,156.05 L167.99,154.08 L168.83,151.96 L169.68,149.71 L170.53,147.34 L171.38,144.88 L172.23,142.34 L173.08,139.74 L173.93,137.10 L174.78,134.43 L175.62,131.75 L176.47,129.07 L177.32,126.40 L178.17,123.75 L179.02,121.13 L179.87,118.55 L180.72,116.00 L181.57,113.50 L182.42,111.05 L183.26,108.66 L184.11,106.32 L184.96,104.04 L185.81,101.81 L186.66,99.65 L187.51,97.55 L188.36,95.51 L189.21,93.53 L190.06,91.61 L190.90,89.75 L191.75,87.94 L192.60,86.20 L193.45,84.51 L194.30,82.88 L195.15,81.29 L196.00,79.77 L196.85,78.29 L197.69,76.86 L198.54,75.48 L199.39,74.14 L200.24,72.85 L201.09,71.61 L201.94,70.40 L202.79,69.24 L203.64,68.11 L204.49,67.02 L205.33,65.97 L206.18,64.95 L207.03,63.97 L207.88,63.02 L208.73,62.10 L209.58,61.21 L210.43,60.35 L211.28,59.52 L212.13,58.72 L212.97,57.94 L213.82,57.19 L214.67,56.46 L215.52,55.75 L216.37,55.07 L217.22,54.40 L218.07,53.76 L218.92,53.14 L219.76,52.54 L220.61,51.95 L221.46,51.38 L222.31,50.83 L223.16,50.30 L224.01,49.78 L224.86,49.28 L225.71,48.80 L226.56,48.32 L227.40,47.86 L228.25,47.42 L229.10,46.99 L229.95,46.57 L230.80,46.16 L231.65,45.76 L232.50,45.37 L233.35,45.00 L234.19,44.63 L235.04,44.28 L235.89,43.93 L236.74,43.60 L237.59,43.27 L238.44,42.95 L239.29,42.64 L240.14,42.34 L240.99,42.05 L241.83,41.76 L242.68,41.48 L243.53,41.21 L244.38,40.94 L245.23,40.69 L246.08,40.44 L246.93,40.19 L247.78,39.95 L248.63,39.72 L249.47,39.49 L250.32,39.27 L251.17,39.05 L252.02,38.84 L252.87,38.63 L253.72,38.43 L254.57,38.23 L255.42,38.04 L256.27,37.85 L257.11,37.67 L257.96,37.49 L258.81,37.31 L259.66,37.14 L260.51,36.97 L261.36,36.81 L262.21,36.65 L263.06,36.49 L263.90,36.34 L264.75,36.19 L265.60,36.04 L266.45,35.90 L267.30,35.76" stroke="#a00000"/>
<path d="M46.60,34.89 L47.45,35.01 L48.30,35.14 L49.15,35.27 L50.00,35.40 L50.84,35.54 L51.69,35.68 L52.54,35.82 L53.39,35.97 L54.24,36.12 L55.09,36.27 L55.94,36.43 L56.79,36.58 L57.64,36.75 L58.48,36.91 L59.33,37.09 L60.18,37.26 L61.03,37.44 L61.88,37.62 L62.73,37.81 L63.58,38.00 L64.43,38.20 L65.27,38.40 L66.12,38.61 L66.97,38.82 L67.82,39.04 L68.67,39.26 L69.52,39.49 L70.37,39.72 L71.22,39.96 L72.07,40.21 L72.91,40.46 L73.76,40.72 L74.61,40.99 L75.46,41.26 L76.31,41.54 L77.16,41.83 L78.01,42.13 L78.86,42.43 L79.71,42.74 L80.55,43.06 L81.40,43.40 L82.25,43.74 L83.10,44.09 L83.95,44.45 L84.80,44.82 L85.65,45.20 L86.50,45.59 L87.34,45.99 L88.19,46.41 L89.04,46.84 L89.89,47.28 L90.74,47.73 L91.59,48.20 L92.44,48.69 L93.29,49.18 L94.14,49.70 L94.98,50.23 L95.83,50.78 L96.68,51.34 L97.53,51.92 L98.38,52.53 L99.23,53.15 L100.08,53.79 L100.93,54.45 L101.78,55.14 L102.62,55.85 L103.47,56.58 L104.32,57.34 L105.17,58.12 L106.02,58.93 L106.87,59.77 L107.72,60.64 L108.57,61.53 L109.41,62.46 L110.26,63.43 L111.11,64.42 L111.96,65.45 L112.81,66.52 L113.66,67.63 L114.51,68.77 L115.36,69.96 L116.21,71.19 L117.05,72.46 L117.90,73.78 L118.75,75.15 L119.60,76.57 L120.45,78.04 L121.30,79.56 L122.15,81.13 L123.00,82.76 L123.84,84.45 L124.69,86.20 L125.54,88.00 L126.39,89.87 L127.24,91.80 L128.09,93.80 L128.94,95.86 L129.79,97.99 L130.64,100.18 L131.48,102.44 L132.33,104.76 L133.18,107.15 L134.03,109.60 L134.88,112.12 L135.73,114.69 L136.58,117.31 L137.43,119.98 L138.28,122.70 L139.12,125.45 L139.97,128.23 L140.82,131.03 L141.67,133.83 L142.52,136.63 L143.37,139.41 L144.22,142.15 L145.07,144.84 L145.92,147.45 L146.76,149.97 L147.61,152.37 L148.46,154.63 L149.31,156.72 L150.16,158.64 L151.01,160.34 L151.86,161.81 L152.71,163.03 L153.55,163.98 L154.40,164.66 L155.25,165.04 L156.10,165.13 L156.95,164.94 L157.80,164.46 L158.65,163.70 L159.50,162.69 L160.35,161.42 L161.19,159.92 L162.04,158.21 L162.89,156.30 L163.74,154.21 L164.59,151.98 L165.44,149.61 L166.29,147.14 L167.14,144.58 L167.99,141.95 L168.83,139.27 L169.68,136.55 L170.53,133.82 L171.38,131.08 L172.23,128.34 L173.08,125.63 L173.93,122.94 L174.78,120.28 L175.62,117.66 L176.47,115.09 L177.32,112.57 L178.17,110.11 L179.02,107.70 L179.87,105.35 L180.72,103.06 L181.57,100.84 L182.42,98.68 L183.26,96.58 L184.11,94.54 L184.96,92.57 L185.81,90.66 L186.66,88.80 L187.51,87.01 L188.36,85.28 L189.21,83.60 L190.06,81.98 L190.90,80.41 L191.75,78.90 L192.60,77.43 L193.45,76.02 L194.30,74.65 L195.15,73.33 L196.00,72.06 L196.85,70.83 L197.69,69.64 L198.54,68.49 L199.39,67.38 L200.24,66.30 L201.09,65.27 L201.94,64.27 L202.79,63.30 L203.64,62.36 L204.49,61.46 L205.33,60.58 L206.18,59.74 L207.03,58.92 L207.88,58.13 L208.73,57.36 L209.58,56.62 L210.43,55.90 L211.28,55.21 L212.13,54.54 L212.97,53.89 L213.82,53.25 L214.67,52.64 L215.52,52.05 L216.37,51.48 L217.22,50.92 L218.07,50.38 L218.92,49.86 L219.76,49.35 L220.61,48.86 L221.46,48.38 L222.31,47.92 L223.16,47.47 L224.01,47.03 L224.86,46.61 L225.71,46.19 L226.56,45.79 L227.40,45.41 L228.25,45.03 L229.10,44.66 L229.95,44.30 L230.80,43.95 L231.65,43.62 L232.50,43.29 L233.35,42.97 L234.19,42.65 L235.04,42.35 L235.89,42.05 L236.74,41.77 L237.59,41.49 L238.44,41.21 L239.29,40.95 L240.14,40.69 L240.99,40.44 L241.83,40.19 L242.68,39.95 L243.53,39.71 L244.38,39.49 L245.23,39.26 L246.08,39.04 L246.93,38.83 L247.78,38.63 L248.63,38.42 L249.47,38.23 L250.32,38.03 L251.17,37.84 L252.02,37.66 L252.87,37.48 L253.72,37.30 L254.57,37.13 L255.42,36.96 L256.27,36.80 L257.11,36.64 L257.96,36.48 L258.81,36.33 L259.66,36.18 L260.51,36.03 L261.36,35.89 L262.21,35.75 L263.06,35.61 L263.90,35.47 L264.75,35.34 L265.60,35.21 L266.45,35.09 L267.30,34.96" stroke="#2070c0"/>
<path d="M46.60,35.46 L47.45,35.60 L48.30,35.74 L49.15,35.88 L50.00,36.03 L50.84,36.18 L51.69,36.33 L52.54,36.49 L53.39,36.65 L54.24,36.81 L55.09,36.98 L55.94,37.15 L56.79,37.33 L57.64,37.51 L58.48,37.69 L59.33,37.88 L60.18,38.07 L61.03,38.27 L61.88,38.47 L62.73,38.68 L63.58,38.89 L64.43,39.11 L65.27,39.34 L66.12,39.57 L66.97,39.80 L67.82,40.04 L68.67,40.29 L69.52,40.55 L70.37,40.81 L71.22,41.07 L72.07,41.35 L72.91,41.63 L73.76,41.92 L74.61,42.22 L75.46,42.53 L76.31,42.84 L77.16,43.17 L78.01,43.50 L78.86,43.84 L79.71,44.19 L80.55,44.56 L81.40,44.93 L82.25,45.31 L83.10,45.71 L83.95,46.12 L84.80,46.54 L85.65,46.97 L86.50,47.41 L87.34,47.87 L88.19,48.35 L89.04,48.83 L89.89,49.34 L90.74,49.86 L91.59,50.39 L92.44,50.94 L93.29,51.51 L94.14,52.10 L94.98,52.71 L95.83,53.34 L96.68,53.99 L97.53,54.66 L98.38,55.35 L99.23,56.07 L100.08,56.81 L100.93,57.57 L101.78,58.37 L102.62,59.19 L103.47,60.03 L104.32,60.91 L105.17,61.82 L106.02,62.76 L106.87,63.74 L107.72,64.74 L108.57,65.79 L109.41,66.87 L110.26,67.99 L111.11,69.15 L111.96,70.36 L112.81,71.60 L113.66,72.90 L114.51,74.24 L115.36,75.62 L116.21,77.06 L117.05,78.55 L117.90,80.10 L118.75,81.69 L119.60,83.35 L120.45,85.07 L121.30,86.84 L122.15,88.68 L123.00,90.58 L123.84,92.54 L124.69,94.57 L125.54,96.67 L126.39,98.83 L127.24,101.06 L128.09,103.36 L128.94,105.72 L129.79,108.15 L130.64,110.65 L131.48,113.20 L132.33,115.82 L133.18,118.48 L134.03,121.20 L134.88,123.96 L135.73,126.76 L136.58,129.58 L137.43,132.42 L138.28,135.26 L139.12,138.10 L139.97,140.91 L140.82,143.67 L141.67,146.38 L142.52,149.01 L143.37,151.54 L144.22,153.94 L145.07,156.19 L145.92,158.27 L146.76,160.15 L147.61,161.81 L148.46,163.23 L149.31,164.39 L150.16,165.27 L151.01,165.87 L151.86,166.16 L152.71,166.16 L153.55,165.86 L154.40,165.27 L155.25,164.41 L156.10,163.29 L156.95,161.91 L157.80,160.30 L158.65,158.48 L159.50,156.46 L160.35,154.28 L161.19,151.95 L162.04,149.50 L162.89,146.95 L163.74,144.32 L164.59,141.62 L165.44,138.88 L166.29,136.11 L167.14,133.33 L167.99,130.55 L168.83,127.78 L169.68,125.03 L170.53,122.31 L171.38,119.64 L172.23,117.00 L173.08,114.42 L173.93,111.89 L174.78,109.42 L175.62,107.01 L176.47,104.66 L177.32,102.38 L178.17,100.16 L179.02,98.00 L179.87,95.91 L180.72,93.88 L181.57,91.91 L182.42,90.01 L183.26,88.17 L184.11,86.38 L184.96,84.66 L185.81,83.00 L186.66,81.39 L187.51,79.83 L188.36,78.33 L189.21,76.88 L190.06,75.48 L190.90,74.12 L191.75,72.82 L192.60,71.55 L193.45,70.33 L194.30,69.16 L195.15,68.02 L196.00,66.92 L196.85,65.86 L197.69,64.83 L198.54,63.84 L199.39,62.89 L200.24,61.96 L201.09,61.07 L201.94,60.20 L202.79,59.37 L203.64,58.56 L204.49,57.78 L205.33,57.02 L206.18,56.29 L207.03,55.58 L207.88,54.89 L208.73,54.23 L209.58,53.59 L210.43,52.96 L211.28,52.36 L212.13,51.78 L212.97,51.21 L213.82,50.66 L214.67,50.13 L215.52,49.61 L216.37,49.11 L217.22,48.63 L218.07,48.15 L218.92,47.70 L219.76,47.25 L220.61,46.82 L221.46,46.40 L222.31,46.00 L223.16,45.60 L224.01,45.22 L224.86,44.84 L225.71,44.48 L226.56,44.13 L227.40,43.78 L228.25,43.45 L229.10,43.13 L229.95,42.81 L230.80,42.50 L231.65,42.20 L232.50,41.91 L233.35,41.63 L234.19,41.35 L235.04,41.08 L235.89,40.82 L236.74,40.56 L237.59,40.31 L238.44,40.07 L239.29,39.83 L240.14,39.60 L240.99,39.38 L241.83,39.16 L242.68,38.94 L243.53,38.73 L244.38,38.53 L245.23,38.33 L246.08,38.13 L246.93,37.94 L247.78,37.76 L248.63,37.57 L249.47,37.40 L250.32,37.22 L251.17,37.05 L252.02,36.89 L252.87,36.73 L253.72,36.57 L254.57,36.41 L255.42,36.26 L256.27,36.11 L257.11,35.97 L257.96,35.83 L258.81,35.69 L259.66,35.55 L260.51,35.42 L261.36,35.29 L262.21,35.16 L263.06,35.04 L263.90,34.91 L264.75,34.79 L265.60,34.68 L266.45,34.56 L267.30,34.45" stroke="#009090"/>
<path d="M46.60,36.09 L47.45,36.24 L48.30,36.40 L49.15,36.55 L50.00,36.72 L50.84,36.88 L51.69,37.05 L52.54,37.22 L53.39,37.40 L54.24,37.58 L55.09,37.77 L55.94,37.96 L56.79,38.15 L57.64,38.35 L58.48,38.56 L59.33,38.77 L60.18,38.98 L61.03,39.21 L61.88,39.43 L62.73,39.66 L63.58,39.90 L64.43,40.15 L65.27,40.40 L66.12,40.66 L66.97,40.92 L67.82,41.19 L68.67,41.47 L69.52,41.76 L70.37,42.05 L71.22,42.35 L72.07,42.67 L72.91,42.99 L73.76,43.31 L74.61,43.65 L75.46,44.00 L76.31,44.36 L77.16,44.73 L78.01,45.11 L78.86,45.50 L79.71,45.90 L80.55,46.31 L81.40,46.74 L82.25,47.18 L83.10,47.63 L83.95,48.10 L84.80,48.58 L85.65,49.08 L86.50,49.59 L87.34,50.12 L88.19,50.67 L89.04,51.23 L89.89,51.82 L90.74,52.42 L91.59,53.04 L92.44,53.68 L93.29,54.34 L94.14,55.03 L94.98,55.74 L95.83,56.47 L96.68,57.23 L97.53,58.02 L98.38,58.83 L99.23,59.67 L100.08,60.54 L100.93,61.44 L101.78,62.37 L102.62,63.34 L103.47,64.34 L104.32,65.38 L105.17,66.45 L106.02,67.56 L106.87,68.72 L107.72,69.91 L108.57,71.15 L109.41,72.44 L110.26,73.77 L111.11,75.15 L111.96,76.58 L112.81,78.06 L113.66,79.60 L114.51,81.19 L115.36,82.84 L116.21,84.56 L117.05,86.33 L117.90,88.16 L118.75,90.06 L119.60,92.02 L120.45,94.05 L121.30,96.15 L122.15,98.32 L123.00,100.55 L123.84,102.86 L124.69,105.23 L125.54,107.67 L126.39,110.18 L127.24,112.75 L128.09,115.39 L128.94,118.08 L129.79,120.82 L130.64,123.61 L131.48,126.44 L132.33,129.31 L133.18,132.19 L134.03,135.08 L134.88,137.97 L135.73,140.84 L136.58,143.67 L137.43,146.44 L138.28,149.14 L139.12,151.74 L139.97,154.22 L140.82,156.55 L141.67,158.71 L142.52,160.67 L143.37,162.41 L144.22,163.90 L145.07,165.14 L145.92,166.09 L146.76,166.74 L147.61,167.09 L148.46,167.13 L149.31,166.86 L150.16,166.30 L151.01,165.46 L151.86,164.33 L152.71,162.95 L153.55,161.32 L154.40,159.48 L155.25,157.43 L156.10,155.22 L156.95,152.85 L157.80,150.35 L158.65,147.75 L159.50,145.06 L160.35,142.31 L161.19,139.52 L162.04,136.69 L162.89,133.86 L163.74,131.03 L164.59,128.21 L165.44,125.41 L166.29,122.65 L167.14,119.93 L167.99,117.25 L168.83,114.63 L169.68,112.06 L170.53,109.56 L171.38,107.12 L172.23,104.74 L173.08,102.42 L173.93,100.17 L174.78,97.99 L175.62,95.88 L176.47,93.83 L177.32,91.84 L178.17,89.92 L179.02,88.07 L179.87,86.27 L180.72,84.54 L181.57,82.86 L182.42,81.24 L183.26,79.68 L184.11,78.17 L184.96,76.71 L185.81,75.30 L186.66,73.94 L187.51,72.63 L188.36,71.36 L189.21,70.14 L190.06,68.96 L190.90,67.82 L191.75,66.72 L192.60,65.66 L193.45,64.63 L194.30,63.64 L195.15,62.68 L196.00,61.75 L196.85,60.86 L197.69,60.00 L198.54,59.16 L199.39,58.35 L200.24,57.57 L201.09,56.82 L201.94,56.09 L202.79,55.38 L203.64,54.70 L204.49,54.04 L205.33,53.39 L206.18,52.77 L207.03,52.17 L207.88,51.59 L208.73,51.03 L209.58,50.48 L210.43,49.95 L211.28,49.44 L212.13,48.94 L212.97,48.45 L213.82,47.99 L214.67,47.53 L215.52,47.09 L216.37,46.66 L217.22,46.24 L218.07,45.84 L218.92,45.45 L219.76,45.06 L220.61,44.69 L221.46,44.33 L222.31,43.98 L223.16,43.64 L224.01,43.31 L224.86,42.99 L225.71,42.67 L226.56,42.37 L227.40,42.07 L228.25,41.78 L229.10,41.50 L229.95,41.23 L230.80,40.96 L231.65,40.70 L232.50,40.45 L233.35,40.20 L234.19,39.96 L235.04,39.72 L235.89,39.49 L236.74,39.27 L237.59,39.05 L238.44,38.84 L239.29,38.63 L240.14,38.43 L240.99,38.23 L241.83,38.04 L242.68,37.85 L243.53,37.66 L244.38,37.48 L245.23,37.31 L246.08,37.14 L246.93,36.97 L247.78,36.80 L248.63,36.64 L249.47,36.49 L250.32,36.33 L251.17,36.18 L252.02,36.04 L252.87,35.89 L253.72,35.75 L254.57,35.62 L255.42,35.48 L256.27,35.35 L257.11,35.22 L257.96,35.09 L258.81,34.97 L259.66,34.85 L260.51,34.73 L261.36,34.62 L262.21,34.50 L263.06,34.39 L263.90,34.28 L264.75,34.17 L265.60,34.07 L266.45,33.97 L267.30,33.87" stroke="#d07000"/>
<path d="M46.60,36.77 L47.45,36.94 L48.30,37.11 L49.15,37.28 L50.00,37.46 L50.84,37.64 L51.69,37.83 L52.54,38.02 L53.39,38.22 L54.24,38.42 L55.09,38.62 L55.94,38.83 L56.79,39.05 L57.64,39.27 L58.48,39.50 L59.33,39.74 L60.18,39.98 L61.03,40.22 L61.88,40.48 L62.73,40.74 L63.58,41.00 L64.43,41.28 L65.27,41.56 L66.12,41.85 L66.97,42.14 L67.82,42.45 L68.67,42.76 L69.52,43.09 L70.37,43.42 L71.22,43.76 L72.07,44.11 L72.91,44.47 L73.76,44.85 L74.61,45.23 L75.46,45.62 L76.31,46.03 L77.16,46.45 L78.01,46.88 L78.86,47.33 L79.71,47.79 L80.55,48.26 L81.40,48.75 L82.25,49.25 L83.10,49.77 L83.95,50.31 L84.80,50.86 L85.65,51.43 L86.50,52.02 L87.34,52.63 L88.19,53.26 L89.04,53.91 L89.89,54.59 L90.74,55.28 L91.59,56.00 L92.44,56.75 L93.29,57.52 L94.14,58.32 L94.98,59.14 L95.83,60.00 L96.68,60.88 L97.53,61.80 L98.38,62.75 L99.23,63.73 L100.08,64.75 L100.93,65.81 L101.78,66.90 L102.62,68.03 L103.47,69.21 L104.32,70.43 L105.17,71.69 L106.02,73.01 L106.87,74.36 L107.72,75.77 L108.57,77.24 L109.41,78.75 L110.26,80.32 L111.11,81.95 L111.96,83.64 L112.81,85.39 L113.66,87.20 L114.51,89.08 L115.36,91.02 L116.21,93.03 L117.05,95.11 L117.90,97.25 L118.75,99.47 L119.60,101.76 L120.45,104.12 L121.30,106.55 L122.15,109.05 L123.00,111.61 L123.84,114.24 L124.69,116.93 L125.54,119.68 L126.39,122.49 L127.24,125.33 L128.09,128.22 L128.94,131.13 L129.79,134.06 L130.64,136.99 L131.48,139.91 L132.33,142.81 L133.18,145.66 L134.03,148.44 L134.88,151.13 L135.73,153.72 L136.58,156.16 L137.43,158.44 L138.28,160.54 L139.12,162.42 L139.97,164.06 L140.82,165.45 L141.67,166.55 L142.52,167.35 L143.37,167.85 L144.22,168.03 L145.07,167.89 L145.92,167.45 L146.76,166.70 L147.61,165.67 L148.46,164.37 L149.31,162.81 L150.16,161.01 L151.01,159.00 L151.86,156.81 L152.71,154.45 L153.55,151.95 L154.40,149.34 L155.25,146.63 L156.10,143.85 L156.95,141.02 L157.80,138.16 L158.65,135.29 L159.50,132.41 L160.35,129.54 L161.19,126.69 L162.04,123.88 L162.89,121.10 L163.74,118.37 L164.59,115.70 L165.44,113.08 L166.29,110.53 L167.14,108.03 L167.99,105.61 L168.83,103.25 L169.68,100.95 L170.53,98.73 L171.38,96.57 L172.23,94.48 L173.08,92.46 L173.93,90.51 L174.78,88.62 L175.62,86.79 L176.47,85.02 L177.32,83.32 L178.17,81.67 L179.02,80.08 L179.87,78.54 L180.72,77.06 L181.57,75.63 L182.42,74.25 L183.26,72.92 L184.11,71.64 L184.96,70.40 L185.81,69.20 L186.66,68.04 L187.51,66.93 L188.36,65.85 L189.21,64.81 L190.06,63.81 L190.90,62.84 L191.75,61.91 L192.60,61.00 L193.45,60.13 L194.30,59.28 L195.15,58.47 L196.00,57.68 L196.85,56.92 L197.69,56.18 L198.54,55.47 L199.39,54.78 L200.24,54.11 L201.09,53.46 L201.94,52.84 L202.79,52.23 L203.64,51.64 L204.49,51.08 L205.33,50.53 L206.18,49.99 L207.03,49.48 L207.88,48.97 L208.73,48.49 L209.58,48.02 L210.43,47.56 L211.28,47.11 L212.13,46.68 L212.97,46.26 L213.82,45.86 L214.67,45.46 L215.52,45.08 L216.37,44.71 L217.22,44.35 L218.07,43.99 L218.92,43.65 L219.76,43.32 L220.61,43.00 L221.46,42.68 L222.31,42.37 L223.16,42.08 L224.01,41.79 L224.86,41.50 L225.71,41.23 L226.56,40.96 L227.40,40.70 L228.25,40.45 L229.10,40.20 L229.95,39.96 L230.80,39.72 L231.65,39.49 L232.50,39.27 L233.35,39.05 L234.19,38.84 L235.04,38.63 L235.89,38.43 L236.74,38.23 L237.59,38.03 L238.44,37.85 L239.29,37.66 L240.14,37.48 L240.99,37.31 L241.83,37.13 L242.68,36.97 L243.53,36.80 L244.38,36.64 L245.23,36.49 L246.08,36.33 L246.93,36.18 L247.78,36.04 L248.63,35.89 L249.47,35.75 L250.32,35.62 L251.17,35.48 L252.02,35.35 L252.87,35.22 L253.72,35.10 L254.57,34.97 L255.42,34.85 L256.27,34.73 L257.11,34.62 L257.96,34.50 L258.81,34.39 L259.66,34.28 L260.51,34.18 L261.36,34.07 L262.21,33.97 L263.06,33.87 L263.90,33.77 L264.75,33.67 L265.60,33.58 L266.45,33.49 L267.30,33.40" stroke="#00c800"/>
<path d="M46.60,37.60 L47.45,37.79 L48.30,37.98 L49.15,38.17 L50.00,38.37 L50.84,38.58 L51.69,38.79 L52.54,39.00 L53.39,39.22 L54.24,39.45 L55.09,39.68 L55.94,39.92 L56.79,40.16 L57.64,40.41 L58.48,40.67 L59.33,40.93 L60.18,41.20 L61.03,41.48 L61.88,41.77 L62.73,42.06 L63.58,42.36 L64.43,42.68 L65.27,42.99 L66.12,43.32 L66.97,43.66 L67.82,44.01 L68.67,44.37 L69.52,44.74 L70.37,45.12 L71.22,45.51 L72.07,45.91 L72.91,46.32 L73.76,46.75 L74.61,47.19 L75.46,47.64 L76.31,48.11 L77.16,48.60 L78.01,49.09 L78.86,49.61 L79.71,50.14 L80.55,50.69 L81.40,51.25 L82.25,51.84 L83.10,52.44 L83.95,53.06 L84.80,53.71 L85.65,54.37 L86.50,55.06 L87.34,55.77 L88.19,56.51 L89.04,57.27 L89.89,58.06 L90.74,58.88 L91.59,59.73 L92.44,60.60 L93.29,61.51 L94.14,62.45 L94.98,63.42 L95.83,64.43 L96.68,65.47 L97.53,66.56 L98.38,67.68 L99.23,68.84 L100.08,70.05 L100.93,71.30 L101.78,72.60 L102.62,73.95 L103.47,75.34 L104.32,76.79 L105.17,78.29 L106.02,79.85 L106.87,81.47 L107.72,83.14 L108.57,84.88 L109.41,86.67 L110.26,88.54 L111.11,90.46 L111.96,92.46 L112.81,94.53 L113.66,96.66 L114.51,98.87 L115.36,101.15 L116.21,103.50 L117.05,105.92 L117.90,108.41 L118.75,110.97 L119.60,113.60 L120.45,116.29 L121.30,119.04 L122.15,121.85 L123.00,124.70 L123.84,127.60 L124.69,130.53 L125.54,133.49 L126.39,136.45 L127.24,139.41 L128.09,142.35 L128.94,145.25 L129.79,148.09 L130.64,150.84 L131.48,153.50 L132.33,156.02 L133.18,158.40 L134.03,160.58 L134.88,162.57 L135.73,164.31 L136.58,165.80 L137.43,167.02 L138.28,167.93 L139.12,168.54 L139.97,168.82 L140.82,168.78 L141.67,168.43 L142.52,167.77 L143.37,166.81 L144.22,165.57 L145.07,164.06 L145.92,162.31 L146.76,160.33 L147.61,158.16 L148.46,155.81 L149.31,153.31 L150.16,150.69 L151.01,147.98 L151.86,145.18 L152.71,142.33 L153.55,139.44 L154.40,136.53 L155.25,133.61 L156.10,130.70 L156.95,127.82 L157.80,124.96 L158.65,122.15 L159.50,119.38 L160.35,116.66 L161.19,114.01 L162.04,111.41 L162.89,108.88 L163.74,106.41 L164.59,104.02 L165.44,101.69 L166.29,99.43 L167.14,97.24 L167.99,95.12 L168.83,93.07 L169.68,91.09 L170.53,89.17 L171.38,87.31 L172.23,85.52 L173.08,83.79 L173.93,82.12 L174.78,80.51 L175.62,78.95 L176.47,77.45 L177.32,76.01 L178.17,74.61 L179.02,73.26 L179.87,71.96 L180.72,70.70 L181.57,69.49 L182.42,68.32 L183.26,67.20 L184.11,66.11 L184.96,65.06 L185.81,64.04 L186.66,63.06 L187.51,62.12 L188.36,61.20 L189.21,60.32 L190.06,59.47 L190.90,58.65 L191.75,57.85 L192.60,57.08 L193.45,56.34 L194.30,55.62 L195.15,54.92 L196.00,54.25 L196.85,53.60 L197.69,52.97 L198.54,52.36 L199.39,51.76 L200.24,51.19 L201.09,50.64 L201.94,50.10 L202.79,49.58 L203.64,49.07 L204.49,48.58 L205.33,48.11 L206.18,47.65 L207.03,47.20 L207.88,46.77 L208.73,46.35 L209.58,45.94 L210.43,45.54 L211.28,45.16 L212.13,44.78 L212.97,44.42 L213.82,44.06 L214.67,43.72 L215.52,43.39 L216.37,43.06 L217.22,42.74 L218.07,42.44 L218.92,42.14 L219.76,41.85 L220.61,41.56 L221.46,41.29 L222.31,41.02 L223.16,40.75 L224.01,40.50 L224.86,40.25 L225.71,40.01 L226.56,39.77 L227.40,39.54 L228.25,39.32 L229.10,39.10 L229.95,38.88 L230.80,38.68 L231.65,38.47 L232.50,38.27 L233.35,38.08 L234.19,37.89 L235.04,37.71 L235.89,37.53 L236.74,37.35 L237.59,37.18 L238.44,37.01 L239.29,36.85 L240.14,36.68 L240.99,36.53 L241.83,36.37 L242.68,36.22 L243.53,36.08 L244.38,35.93 L245.23,35.79 L246.08,35.66 L246.93,35.52 L247.78,35.39 L248.63,35.26 L249.47,35.13 L250.32,35.01 L251.17,34.89 L252.02,34.77 L252.87,34.66 L253.72,34.54 L254.57,34.43 L255.42,34.32 L256.27,34.22 L257.11,34.11 L257.96,34.01 L258.81,33.91 L259.66,33.81 L260.51,33.71 L261.36,33.62 L262.21,33.52 L263.06,33.43 L263.90,33.34 L264.75,33.26 L265.60,33.17 L266.45,33.08 L267.30,33.00" stroke="#ff0080"/>
<path d="M46.60,38.58 L47.45,38.79 L48.30,39.01 L49.15,39.23 L50.00,39.45 L50.84,39.68 L51.69,39.92 L52.54,40.16 L53.39,40.41 L54.24,40.67 L55.09,40.94 L55.94,41.21 L56.79,41.48 L57.64,41.77 L58.48,42.06 L59.33,42.37 L60.18,42.68 L61.03,42.99 L61.88,43.32 L62.73,43.66 L63.58,44.01 L64.43,44.37 L65.27,44.73 L66.12,45.11 L66.97,45.50 L67.82,45.91 L68.67,46.32 L69.52,46.75 L70.37,47.19 L71.22,47.64 L72.07,48.11 L72.91,48.59 L73.76,49.09 L74.61,49.61 L75.46,50.14 L76.31,50.68 L77.16,51.25 L78.01,51.83 L78.86,52.44 L79.71,53.06 L80.55,53.71 L81.40,54.37 L82.25,55.06 L83.10,55.78 L83.95,56.52 L84.80,57.28 L85.65,58.07 L86.50,58.89 L87.34,59.73 L88.19,60.61 L89.04,61.52 L89.89,62.46 L90.74,63.44 L91.59,64.45 L92.44,65.50 L93.29,66.58 L94.14,67.71 L94.98,68.88 L95.83,70.09 L96.68,71.35 L97.53,72.65 L98.38,74.00 L99.23,75.41 L100.08,76.86 L100.93,78.37 L101.78,79.94 L102.62,81.56 L103.47,83.24 L104.32,84.99 L105.17,86.80 L106.02,88.67 L106.87,90.61 L107.72,92.62 L108.57,94.70 L109.41,96.85 L110.26,99.08 L111.11,101.37 L111.96,103.74 L112.81,106.18 L113.66,108.70 L114.51,111.28 L115.36,113.93 L116.21,116.65 L117.05,119.43 L117.90,122.27 L118.75,125.16 L119.60,128.09 L120.45,131.05 L121.30,134.03 L122.15,137.03 L123.00,140.02 L123.84,142.99 L124.69,145.93 L125.54,148.80 L126.39,151.59 L127.24,154.27 L128.09,156.82 L128.94,159.21 L129.79,161.42 L130.64,163.42 L131.48,165.17 L132.33,166.66 L133.18,167.87 L134.03,168.77 L134.88,169.36 L135.73,169.62 L136.58,169.55 L137.43,169.17 L138.28,168.46 L139.12,167.46 L139.97,166.16 L140.82,164.60 L141.67,162.79 L142.52,160.75 L143.37,158.52 L144.22,156.11 L145.07,153.56 L145.92,150.88 L146.76,148.11 L147.61,145.26 L148.46,142.36 L149.31,139.43 L150.16,136.48 L151.01,133.53 L151.86,130.59 L152.71,127.67 L153.55,124.79 L154.40,121.95 L155.25,119.16 L156.10,116.42 L156.95,113.75 L157.80,111.14 L158.65,108.59 L159.50,106.12 L160.35,103.71 L161.19,101.38 L162.04,99.11 L162.89,96.92 L163.74,94.80 L164.59,92.74 L165.44,90.76 L166.29,88.84 L167.14,86.99 L167.99,85.20 L168.83,83.47 L169.68,81.80 L170.53,80.19 L171.38,78.64 L172.23,77.14 L173.08,75.70 L173.93,74.30 L174.78,72.96 L175.62,71.66 L176.47,70.41 L177.32,69.21 L178.17,68.04 L179.02,66.92 L179.87,65.84 L180.72,64.79 L181.57,63.78 L182.42,62.81 L183.26,61.87 L184.11,60.96 L184.96,60.08 L185.81,59.24 L186.66,58.42 L187.51,57.63 L188.36,56.86 L189.21,56.12 L190.06,55.41 L190.90,54.72 L191.75,54.05 L192.60,53.40 L193.45,52.78 L194.30,52.17 L195.15,51.58 L196.00,51.02 L196.85,50.46 L197.69,49.93 L198.54,49.41 L199.39,48.91 L200.24,48.43 L201.09,47.96 L201.94,47.50 L202.79,47.06 L203.64,46.63 L204.49,46.21 L205.33,45.80 L206.18,45.41 L207.03,45.03 L207.88,44.66 L208.73,44.30 L209.58,43.94 L210.43,43.60 L211.28,43.27 L212.13,42.95 L212.97,42.64 L213.82,42.33 L214.67,42.04 L215.52,41.75 L216.37,41.47 L217.22,41.19 L218.07,40.93 L218.92,40.67 L219.76,40.41 L220.61,40.17 L221.46,39.93 L222.31,39.69 L223.16,39.46 L224.01,39.24 L224.86,39.02 L225.71,38.81 L226.56,38.61 L227.40,38.40 L228.25,38.21 L229.10,38.02 L229.95,37.83 L230.80,37.65 L231.65,37.47 L232.50,37.29 L233.35,37.12 L234.19,36.96 L235.04,36.79 L235.89,36.63 L236.74,36.48 L237.59,36.33 L238.44,36.18 L239.29,36.03 L240.14,35.89 L240.99,35.75 L241.83,35.61 L242.68,35.48 L243.53,35.35 L244.38,35.22 L245.23,35.10 L246.08,34.98 L246.93,34.86 L247.78,34.74 L248.63,34.62 L249.47,34.51 L250.32,34.40 L251.17,34.29 L252.02,34.19 L252.87,34.08 L253.72,33.98 L254.57,33.88 L255.42,33.79 L256.27,33.69 L257.11,33.60 L257.96,33.50 L258.81,33.41 L259.66,33.33 L260.51,33.24 L261.36,33.15 L262.21,33.07 L263.06,32.99 L263.90,32.91 L264.75,32.83 L265.60,32.75 L266.45,32.67 L267.30,32.60" stroke="#20c8d8"/>
</g>
<rect x="46.6" y="13.9" width="220.7" height="178.1" fill="none" stroke="#000" stroke-width="1.6"/>
<text x="42.3" y="28.7" font-family="'Liberation Sans', Arial, sans-serif" font-size="12.0" font-weight="bold" text-anchor="end" stroke="#000" stroke-width="0.3">0</text>
<text x="42.3" y="50.99" font-family="'Liberation Sans', Arial, sans-serif" font-size="12.0" font-weight="bold" text-anchor="end" stroke="#000" stroke-width="0.3">-1</text>
<text x="42.3" y="73.27" font-family="'Liberation Sans', Arial, sans-serif" font-size="12.0" font-weight="bold" text-anchor="end" stroke="#000" stroke-width="0.3">-2</text>
<text x="42.3" y="95.56" font-family="'Liberation Sans', Arial, sans-serif" font-size="12.0" font-weight="bold" text-anchor="end" stroke="#000" stroke-width="0.3">-3</text>
<text x="42.3" y="117.84" font-family="'Liberation Sans', Arial, sans-serif" font-size="12.0" font-weight="bold" text-anchor="end" stroke="#000" stroke-width="0.3">-4</text>
<text x="42.3" y="140.13" font-family="'Liberation Sans', Arial, sans-serif" font-size="12.0" font-weight="bold" text-anchor="end" stroke="#000" stroke-width="0.3">-5</text>
<text x="42.3" y="162.42" font-family="'Liberation Sans', Arial, sans-serif" font-size="12.0" font-weight="bold" text-anchor="end" stroke="#000" stroke-width="0.3">-6</text>
<text x="42.3" y="184.7" font-family="'Liberation Sans', Arial, sans-serif" font-size="12.0" font-weight="bold" text-anchor="end" stroke="#000" stroke-width="0.3">-7</text>
<text x="46.8" y="205.4" font-family="'Liberation Sans', Arial, sans-serif" font-size="12.0" font-weight="bold" text-anchor="middle" stroke="#000" stroke-width="0.3">74</text>
<text x="90.94" y="205.4" font-family="'Liberation Sans', Arial, sans-serif" font-size="12.0" font-weight="bold" text-anchor="middle" stroke="#000" stroke-width="0.3">75</text>
<text x="135.08" y="205.4" font-family="'Liberation Sans', Arial, sans-serif" font-size="12.0" font-weight="bold" text-anchor="middle" stroke="#000" stroke-width="0.3">76</text>
<text x="179.22" y="205.4" font-family="'Liberation Sans', Arial, sans-serif" font-size="12.0" font-weight="bold" text-anchor="middle" stroke="#000" stroke-width="0.3">77</text>
<text x="223.36" y="205.4" font-family="'Liberation Sans', Arial, sans-serif" font-size="12.0" font-weight="bold" text-anchor="middle" stroke="#000" stroke-width="0.3">78</text>
<text x="267.5" y="205.4" font-family="'Liberation Sans', Arial, sans-serif" font-size="12.0" font-weight="bold" text-anchor="middle" stroke="#000" stroke-width="0.3">79</text>
<path d="M46.6,25h3.4 M46.6,47.29h3.4 M46.6,69.57h3.4 M46.6,91.86h3.4 M46.6,114.14h3.4 M46.6,136.43h3.4 M46.6,158.72h3.4 M46.6,181h3.4 M46.6,36.14h1.8 M46.6,58.43h1.8 M46.6,80.72h1.8 M46.6,103h1.8 M46.6,125.29h1.8 M46.6,147.57h1.8 M46.6,169.86h1.8 M46.6,192v-3.2 M90.74,192v-3.2 M134.88,192v-3.2 M179.02,192v-3.2 M223.16,192v-3.2 M267.3,192v-3.2 M68.67,192v-1.8 M112.81,192v-1.8 M156.95,192v-1.8 M201.09,192v-1.8 M245.23,192v-1.8" stroke="#000" stroke-width="1.2" fill="none"/>
<path d="M72.5,171.75H119.1" stroke="#f00" stroke-width="1.9"/>
<path d="M118.1,168.85L127.4,171.75L118.1,174.65Z" fill="#f00"/>
<g transform="translate(72.50,186.40) scale(1.0022,1)"><text font-family="'Liberation Sans', Arial, sans-serif" font-size="15.1" font-weight="bold">Increasing glucose</text></g>
<g transform="translate(126.51,224.60) scale(0.8111,1)"><g transform="skewX(-6)"><text font-family="'Liberation Serif', 'Times New Roman', serif" font-size="16" font-weight="bold" font-style="italic" stroke="#000" stroke-width="0.6">f</text></g></g>
<g transform="translate(137.92,224.60) scale(1.0786,1)"><text font-family="'Liberation Serif', 'Times New Roman', serif" font-size="15.5" font-weight="bold">(MHz)</text></g>
<g transform="translate(24.50,131.53) rotate(-90) scale(1.1333,1)"><text font-family="'Liberation Serif', 'Times New Roman', serif" font-size="15.2" font-weight="bold">S11 (dB)</text></g>
<g transform="translate(10.49,29.30) scale(0.9125,1)"><text font-family="'Liberation Serif', 'Times New Roman', serif" font-size="22.5" font-weight="bold">(a)</text></g>
<g fill="#000">
<rect x="331.9" y="179" width="3.8" height="3.8"/>
<rect x="343.5" y="168.4" width="3.8" height="3.8"/>
<rect x="355" y="156.9" width="3.8" height="3.8"/>
<rect x="367.3" y="147.2" width="3.8" height="3.8"/>
<rect x="379.3" y="135.9" width="3.8" height="3.8"/>
<rect x="391.3" y="125.7" width="3.8" height="3.8"/>
<rect x="403" y="115.1" width="3.8" height="3.8"/>
<rect x="415" y="106.8" width="3.8" height="3.8"/>
<rect x="426.6" y="97.8" width="3.8" height="3.8"/>
<rect x="438.8" y="85.4" width="3.8" height="3.8"/>
<rect x="450.6" y="76.7" width="3.8" height="3.8"/>
<rect x="462.6" y="69.7" width="3.8" height="3.8"/>
<rect x="474.5" y="64.5" width="3.8" height="3.8"/>
<rect x="486.1" y="54" width="3.8" height="3.8"/>
<rect x="498.2" y="43" width="3.8" height="3.8"/>
<rect x="510" y="33.2" width="3.8" height="3.8"/>
</g>
<path d="M333.4,177.7L511.6,34.3" stroke="#f00" stroke-width="1.4"/>
<rect x="321.9" y="14.1" width="221.2" height="177.9" fill="none" stroke="#000" stroke-width="1.6"/>
<text x="318.1" y="184.4" font-family="'Liberation Sans', Arial, sans-serif" font-size="12.0" font-weight="bold" text-anchor="end" stroke="#000" stroke-width="0.3">0.0</text>
<text x="318.1" y="162.14" font-family="'Liberation Sans', Arial, sans-serif" font-size="12.0" font-weight="bold" text-anchor="end" stroke="#000" stroke-width="0.3">0.2</text>
<text x="318.1" y="139.89" font-family="'Liberation Sans', Arial, sans-serif" font-size="12.0" font-weight="bold" text-anchor="end" stroke="#000" stroke-width="0.3">0.4</text>
<text x="318.1" y="117.63" font-family="'Liberation Sans', Arial, sans-serif" font-size="12.0" font-weight="bold" text-anchor="end" stroke="#000" stroke-width="0.3">0.6</text>
<text x="318.1" y="95.37" font-family="'Liberation Sans', Arial, sans-serif" font-size="12.0" font-weight="bold" text-anchor="end" stroke="#000" stroke-width="0.3">0.8</text>
<text x="318.1" y="73.11" font-family="'Liberation Sans', Arial, sans-serif" font-size="12.0" font-weight="bold" text-anchor="end" stroke="#000" stroke-width="0.3">1.0</text>
<text x="318.1" y="50.86" font-family="'Liberation Sans', Arial, sans-serif" font-size="12.0" font-weight="bold" text-anchor="end" stroke="#000" stroke-width="0.3">1.2</text>
<text x="318.1" y="28.6" font-family="'Liberation Sans', Arial, sans-serif" font-size="12.0" font-weight="bold" text-anchor="end" stroke="#000" stroke-width="0.3">1.4</text>
<text x="333.7" y="205.4" font-family="'Liberation Sans', Arial, sans-serif" font-size="12.0" font-weight="bold" text-anchor="middle" stroke="#000" stroke-width="0.3">0.00</text>
<text x="381.2" y="205.4" font-family="'Liberation Sans', Arial, sans-serif" font-size="12.0" font-weight="bold" text-anchor="middle" stroke="#000" stroke-width="0.3">0.02</text>
<text x="428.7" y="205.4" font-family="'Liberation Sans', Arial, sans-serif" font-size="12.0" font-weight="bold" text-anchor="middle" stroke="#000" stroke-width="0.3">0.04</text>
<text x="476.2" y="205.4" font-family="'Liberation Sans', Arial, sans-serif" font-size="12.0" font-weight="bold" text-anchor="middle" stroke="#000" stroke-width="0.3">0.06</text>
<text x="523.7" y="205.4" font-family="'Liberation Sans', Arial, sans-serif" font-size="12.0" font-weight="bold" text-anchor="middle" stroke="#000" stroke-width="0.3">0.08</text>
<path d="M321.9,180.7h3.2 M321.9,158.44h3.2 M321.9,136.19h3.2 M321.9,113.93h3.2 M321.9,91.67h3.2 M321.9,69.41h3.2 M321.9,47.16h3.2 M321.9,24.9h3.2 M321.9,169.57h1.8 M321.9,147.31h1.8 M321.9,125.06h1.8 M321.9,102.8h1.8 M321.9,80.54h1.8 M321.9,58.29h1.8 M321.9,36.03h1.8 M333.5,192v-3.2 M381,192v-3.2 M428.5,192v-3.2 M476,192v-3.2 M523.5,192v-3.2 M357.25,192v-1.8 M404.75,192v-1.8 M452.25,192v-1.8 M499.75,192v-1.8" stroke="#000" stroke-width="1.2" fill="none"/>
<g transform="translate(444.90,137.70) scale(0.9222,1)"><text font-family="'Liberation Serif', 'Times New Roman', serif" font-size="14.5" font-weight="bold">Δ</text></g>
<g transform="translate(452.32,137.90) scale(1.1222,1)"><g transform="skewX(-14)"><text font-family="'Liberation Serif', 'Times New Roman', serif" font-size="14.6" font-weight="bold" font-style="italic">f</text></g></g>
<g transform="translate(458.57,142.20) scale(1.0333,1)"><text font-family="'Liberation Sans', Arial, sans-serif" font-size="10.6" font-weight="bold">r</text></g>
<g transform="translate(462.08,137.70) scale(1.0156,1)"><text font-family="'Liberation Sans', Arial, sans-serif" font-size="15" font-weight="bold">=17.18</text></g>
<g transform="translate(512.90,137.70) scale(1.0750,1)"><text font-family="'Liberation Serif', 'Times New Roman', serif" font-size="16.3" font-weight="bold" font-style="italic">x</text></g>
<g transform="translate(445.10,162.20) scale(1.0100,1)"><text font-family="'Liberation Serif', 'Times New Roman', serif" font-size="14.6" font-weight="bold">R</text></g>
<g transform="translate(455.80,157.20) scale(0.9800,1)"><text font-family="'Liberation Sans', Arial, sans-serif" font-size="10.2" font-weight="bold">2</text></g>
<g transform="translate(460.51,162.50) scale(0.9911,1)"><text font-family="'Liberation Sans', Arial, sans-serif" font-size="15" font-weight="bold">=0.997</text></g>
<g transform="translate(346.05,224.40) scale(1.0485,1)"><text font-family="'Liberation Serif', 'Times New Roman', serif" font-size="16" font-weight="bold">Mole fraction of glucose</text></g>
<g transform="translate(291.20,139.10) rotate(-90) scale(0.8800,1)"><text font-family="'Liberation Serif', 'Times New Roman', serif" font-size="15.4" font-weight="bold">Δ</text></g>
<g transform="translate(291.20,127.86) rotate(-90) scale(1.1400,1)"><g transform="skewX(-14)"><text font-family="'Liberation Serif', 'Times New Roman', serif" font-size="15.4" font-weight="bold" font-style="italic" stroke="#000" stroke-width="0.4">f</text></g></g>
<g transform="translate(295.90,119.80) rotate(-90) scale(0.9750,1)"><text font-family="'Liberation Sans', Arial, sans-serif" font-size="9.3" font-weight="bold" stroke="#000" stroke-width="0.3">r</text></g>
<g transform="translate(291.20,113.00) rotate(-90) scale(1.0976,1)"><text font-family="'Liberation Serif', 'Times New Roman', serif" font-size="15.4" font-weight="bold">(MHz)</text></g>
<g transform="translate(273.93,29.60) scale(0.9654,1)"><text font-family="'Liberation Serif', 'Times New Roman', serif" font-size="22.5" font-weight="bold">(b)</text></g>
<clipPath id="clipc"><rect x="46.6" y="235.05" width="220.7" height="178.15"/></clipPath>
<g clip-path="url(#clipc)" fill="none" stroke-width="1.25" stroke-linejoin="round">
<path d="M46.60,260.93 L47.45,261.18 L48.30,261.42 L49.15,261.68 L50.00,261.94 L50.84,262.21 L51.69,262.49 L52.54,262.77 L53.39,263.06 L54.24,263.36 L55.09,263.66 L55.94,263.98 L56.79,264.30 L57.64,264.63 L58.48,264.98 L59.33,265.33 L60.18,265.69 L61.03,266.06 L61.88,266.44 L62.73,266.84 L63.58,267.24 L64.43,267.66 L65.27,268.09 L66.12,268.53 L66.97,268.98 L67.82,269.45 L68.67,269.94 L69.52,270.44 L70.37,270.95 L71.22,271.48 L72.07,272.03 L72.91,272.59 L73.76,273.17 L74.61,273.77 L75.46,274.39 L76.31,275.03 L77.16,275.69 L78.01,276.38 L78.86,277.08 L79.71,277.81 L80.55,278.56 L81.40,279.34 L82.25,280.15 L83.10,280.98 L83.95,281.84 L84.80,282.74 L85.65,283.66 L86.50,284.61 L87.34,285.60 L88.19,286.63 L89.04,287.69 L89.89,288.79 L90.74,289.92 L91.59,291.10 L92.44,292.32 L93.29,293.59 L94.14,294.90 L94.98,296.26 L95.83,297.67 L96.68,299.12 L97.53,300.64 L98.38,302.20 L99.23,303.82 L100.08,305.51 L100.93,307.25 L101.78,309.05 L102.62,310.92 L103.47,312.85 L104.32,314.85 L105.17,316.92 L106.02,319.06 L106.87,321.27 L107.72,323.55 L108.57,325.90 L109.41,328.33 L110.26,330.82 L111.11,333.39 L111.96,336.03 L112.81,338.73 L113.66,341.50 L114.51,344.33 L115.36,347.22 L116.21,350.16 L117.05,353.13 L117.90,356.15 L118.75,359.18 L119.60,362.22 L120.45,365.27 L121.30,368.29 L122.15,371.27 L123.00,374.20 L123.84,377.05 L124.69,379.80 L125.54,382.42 L126.39,384.88 L127.24,387.17 L128.09,389.25 L128.94,391.10 L129.79,392.69 L130.64,394.00 L131.48,395.02 L132.33,395.72 L133.18,396.10 L134.03,396.15 L134.88,395.84 L135.73,395.17 L136.58,394.16 L137.43,392.82 L138.28,391.17 L139.12,389.24 L139.97,387.06 L140.82,384.65 L141.67,382.04 L142.52,379.28 L143.37,376.38 L144.22,373.37 L145.07,370.28 L145.92,367.14 L146.76,363.96 L147.61,360.78 L148.46,357.59 L149.31,354.43 L150.16,351.29 L151.01,348.20 L151.86,345.16 L152.71,342.18 L153.55,339.27 L154.40,336.42 L155.25,333.65 L156.10,330.96 L156.95,328.34 L157.80,325.80 L158.65,323.34 L159.50,320.96 L160.35,318.66 L161.19,316.44 L162.04,314.29 L162.89,312.22 L163.74,310.22 L164.59,308.29 L165.44,306.43 L166.29,304.64 L167.14,302.91 L167.99,301.24 L168.83,299.64 L169.68,298.09 L170.53,296.61 L171.38,295.17 L172.23,293.79 L173.08,292.46 L173.93,291.18 L174.78,289.94 L175.62,288.75 L176.47,287.60 L177.32,286.50 L178.17,285.43 L179.02,284.40 L179.87,283.41 L180.72,282.45 L181.57,281.53 L182.42,280.64 L183.26,279.78 L184.11,278.95 L184.96,278.15 L185.81,277.37 L186.66,276.62 L187.51,275.90 L188.36,275.20 L189.21,274.53 L190.06,273.87 L190.90,273.24 L191.75,272.63 L192.60,272.04 L193.45,271.47 L194.30,270.91 L195.15,270.38 L196.00,269.86 L196.85,269.35 L197.69,268.87 L198.54,268.39 L199.39,267.93 L200.24,267.49 L201.09,267.06 L201.94,266.64 L202.79,266.23 L203.64,265.84 L204.49,265.46 L205.33,265.09 L206.18,264.73 L207.03,264.37 L207.88,264.03 L208.73,263.70 L209.58,263.38 L210.43,263.07 L211.28,262.76 L212.13,262.47 L212.97,262.18 L213.82,261.90 L214.67,261.63 L215.52,261.36 L216.37,261.10 L217.22,260.85 L218.07,260.61 L218.92,260.37 L219.76,260.13 L220.61,259.91 L221.46,259.69 L222.31,259.47 L223.16,259.26 L224.01,259.06 L224.86,258.86 L225.71,258.66 L226.56,258.47 L227.40,258.28 L228.25,258.10 L229.10,257.92 L229.95,257.75 L230.80,257.58 L231.65,257.42 L232.50,257.26 L233.35,257.10 L234.19,256.94 L235.04,256.79 L235.89,256.65 L236.74,256.50 L237.59,256.36 L238.44,256.22 L239.29,256.09 L240.14,255.96 L240.99,255.83 L241.83,255.70 L242.68,255.58 L243.53,255.46 L244.38,255.34 L245.23,255.22 L246.08,255.11 L246.93,255.00 L247.78,254.89 L248.63,254.78 L249.47,254.68 L250.32,254.58 L251.17,254.48 L252.02,254.38 L252.87,254.28 L253.72,254.19 L254.57,254.09 L255.42,254.00 L256.27,253.91 L257.11,253.83 L257.96,253.74 L258.81,253.66 L259.66,253.57 L260.51,253.49 L261.36,253.41 L262.21,253.34 L263.06,253.26 L263.90,253.18 L264.75,253.11 L265.60,253.04 L266.45,252.97 L267.30,252.90" stroke="#e00000"/>
<path d="M46.60,260.66 L47.45,260.89 L48.30,261.13 L49.15,261.38 L50.00,261.63 L50.84,261.89 L51.69,262.16 L52.54,262.44 L53.39,262.72 L54.24,263.01 L55.09,263.30 L55.94,263.61 L56.79,263.92 L57.64,264.24 L58.48,264.57 L59.33,264.91 L60.18,265.26 L61.03,265.62 L61.88,265.99 L62.73,266.37 L63.58,266.76 L64.43,267.17 L65.27,267.58 L66.12,268.01 L66.97,268.45 L67.82,268.90 L68.67,269.37 L69.52,269.85 L70.37,270.34 L71.22,270.85 L72.07,271.38 L72.91,271.92 L73.76,272.48 L74.61,273.06 L75.46,273.66 L76.31,274.28 L77.16,274.91 L78.01,275.57 L78.86,276.25 L79.71,276.95 L80.55,277.68 L81.40,278.42 L82.25,279.20 L83.10,280.00 L83.95,280.83 L84.80,281.69 L85.65,282.57 L86.50,283.49 L87.34,284.44 L88.19,285.42 L89.04,286.44 L89.89,287.49 L90.74,288.59 L91.59,289.72 L92.44,290.89 L93.29,292.10 L94.14,293.36 L94.98,294.66 L95.83,296.01 L96.68,297.41 L97.53,298.86 L98.38,300.36 L99.23,301.92 L100.08,303.53 L100.93,305.20 L101.78,306.94 L102.62,308.73 L103.47,310.58 L104.32,312.51 L105.17,314.49 L106.02,316.55 L106.87,318.68 L107.72,320.87 L108.57,323.14 L109.41,325.48 L110.26,327.89 L111.11,330.37 L111.96,332.93 L112.81,335.55 L113.66,338.24 L114.51,341.00 L115.36,343.82 L116.21,346.69 L117.05,349.61 L117.90,352.58 L118.75,355.58 L119.60,358.61 L120.45,361.64 L121.30,364.68 L122.15,367.69 L123.00,370.68 L123.84,373.60 L124.69,376.45 L125.54,379.21 L126.39,381.83 L127.24,384.31 L128.09,386.61 L128.94,388.71 L129.79,390.58 L130.64,392.20 L131.48,393.54 L132.33,394.59 L133.18,395.32 L134.03,395.74 L134.88,395.82 L135.73,395.56 L136.58,394.94 L137.43,393.98 L138.28,392.69 L139.12,391.10 L139.97,389.23 L140.82,387.10 L141.67,384.74 L142.52,382.19 L143.37,379.47 L144.22,376.61 L145.07,373.65 L145.92,370.60 L146.76,367.49 L147.61,364.35 L148.46,361.19 L149.31,358.02 L150.16,354.88 L151.01,351.76 L151.86,348.69 L152.71,345.66 L153.55,342.69 L154.40,339.78 L155.25,336.94 L156.10,334.17 L156.95,331.48 L157.80,328.86 L158.65,326.32 L159.50,323.86 L160.35,321.48 L161.19,319.17 L162.04,316.94 L162.89,314.79 L163.74,312.71 L164.59,310.70 L165.44,308.77 L166.29,306.90 L167.14,305.10 L167.99,303.37 L168.83,301.69 L169.68,300.08 L170.53,298.53 L171.38,297.03 L172.23,295.59 L173.08,294.20 L173.93,292.86 L174.78,291.57 L175.62,290.33 L176.47,289.13 L177.32,287.97 L178.17,286.86 L179.02,285.78 L179.87,284.75 L180.72,283.75 L181.57,282.79 L182.42,281.86 L183.26,280.96 L184.11,280.09 L184.96,279.25 L185.81,278.45 L186.66,277.67 L187.51,276.91 L188.36,276.18 L189.21,275.48 L190.06,274.80 L190.90,274.14 L191.75,273.50 L192.60,272.89 L193.45,272.29 L194.30,271.71 L195.15,271.15 L196.00,270.61 L196.85,270.09 L197.69,269.58 L198.54,269.09 L199.39,268.61 L200.24,268.15 L201.09,267.70 L201.94,267.27 L202.79,266.84 L203.64,266.43 L204.49,266.04 L205.33,265.65 L206.18,265.27 L207.03,264.91 L207.88,264.56 L208.73,264.21 L209.58,263.88 L210.43,263.55 L211.28,263.24 L212.13,262.93 L212.97,262.63 L213.82,262.34 L214.67,262.06 L215.52,261.78 L216.37,261.52 L217.22,261.26 L218.07,261.00 L218.92,260.75 L219.76,260.51 L220.61,260.28 L221.46,260.05 L222.31,259.82 L223.16,259.61 L224.01,259.39 L224.86,259.19 L225.71,258.99 L226.56,258.79 L227.40,258.60 L228.25,258.41 L229.10,258.22 L229.95,258.05 L230.80,257.87 L231.65,257.70 L232.50,257.53 L233.35,257.37 L234.19,257.21 L235.04,257.06 L235.89,256.90 L236.74,256.75 L237.59,256.61 L238.44,256.47 L239.29,256.33 L240.14,256.19 L240.99,256.06 L241.83,255.93 L242.68,255.80 L243.53,255.68 L244.38,255.55 L245.23,255.44 L246.08,255.32 L246.93,255.20 L247.78,255.09 L248.63,254.98 L249.47,254.87 L250.32,254.77 L251.17,254.66 L252.02,254.56 L252.87,254.46 L253.72,254.37 L254.57,254.27 L255.42,254.18 L256.27,254.09 L257.11,254.00 L257.96,253.91 L258.81,253.82 L259.66,253.74 L260.51,253.65 L261.36,253.57 L262.21,253.49 L263.06,253.41 L263.90,253.33 L264.75,253.26 L265.60,253.18 L266.45,253.11 L267.30,253.04" stroke="#f000c0"/>
<path d="M46.60,260.39 L47.45,260.62 L48.30,260.85 L49.15,261.09 L50.00,261.34 L50.84,261.59 L51.69,261.85 L52.54,262.11 L53.39,262.39 L54.24,262.67 L55.09,262.95 L55.94,263.25 L56.79,263.55 L57.64,263.86 L58.48,264.18 L59.33,264.51 L60.18,264.85 L61.03,265.20 L61.88,265.56 L62.73,265.92 L63.58,266.30 L64.43,266.69 L65.27,267.09 L66.12,267.50 L66.97,267.93 L67.82,268.37 L68.67,268.82 L69.52,269.28 L70.37,269.76 L71.22,270.25 L72.07,270.76 L72.91,271.28 L73.76,271.82 L74.61,272.38 L75.46,272.96 L76.31,273.55 L77.16,274.16 L78.01,274.79 L78.86,275.45 L79.71,276.12 L80.55,276.82 L81.40,277.54 L82.25,278.29 L83.10,279.06 L83.95,279.85 L84.80,280.68 L85.65,281.53 L86.50,282.41 L87.34,283.32 L88.19,284.26 L89.04,285.24 L89.89,286.25 L90.74,287.30 L91.59,288.39 L92.44,289.51 L93.29,290.67 L94.14,291.88 L94.98,293.13 L95.83,294.43 L96.68,295.77 L97.53,297.16 L98.38,298.60 L99.23,300.09 L100.08,301.64 L100.93,303.24 L101.78,304.90 L102.62,306.62 L103.47,308.41 L104.32,310.25 L105.17,312.16 L106.02,314.14 L106.87,316.18 L107.72,318.30 L108.57,320.48 L109.41,322.73 L110.26,325.06 L111.11,327.46 L111.96,329.93 L112.81,332.47 L113.66,335.08 L114.51,337.76 L115.36,340.50 L116.21,343.30 L117.05,346.16 L117.90,349.07 L118.75,352.03 L119.60,355.02 L120.45,358.03 L121.30,361.06 L122.15,364.09 L123.00,367.10 L123.84,370.08 L124.69,373.01 L125.54,375.86 L126.39,378.61 L127.24,381.25 L128.09,383.74 L128.94,386.05 L129.79,388.17 L130.64,390.06 L131.48,391.70 L132.33,393.07 L133.18,394.15 L134.03,394.92 L134.88,395.37 L135.73,395.49 L136.58,395.27 L137.43,394.70 L138.28,393.79 L139.12,392.56 L139.97,391.02 L140.82,389.20 L141.67,387.12 L142.52,384.82 L143.37,382.32 L144.22,379.65 L145.07,376.84 L145.92,373.91 L146.76,370.90 L147.61,367.83 L148.46,364.72 L149.31,361.58 L150.16,358.45 L151.01,355.32 L151.86,352.22 L152.71,349.16 L153.55,346.15 L154.40,343.18 L155.25,340.28 L156.10,337.45 L156.95,334.69 L157.80,331.99 L158.65,329.38 L159.50,326.84 L160.35,324.37 L161.19,321.99 L162.04,319.68 L162.89,317.44 L163.74,315.29 L164.59,313.20 L165.44,311.19 L166.29,309.25 L167.14,307.37 L167.99,305.56 L168.83,303.82 L169.68,302.14 L170.53,300.52 L171.38,298.96 L172.23,297.46 L173.08,296.01 L173.93,294.61 L174.78,293.26 L175.62,291.96 L176.47,290.71 L177.32,289.51 L178.17,288.34 L179.02,287.22 L179.87,286.14 L180.72,285.10 L181.57,284.09 L182.42,283.12 L183.26,282.18 L184.11,281.28 L184.96,280.40 L185.81,279.56 L186.66,278.75 L187.51,277.96 L188.36,277.20 L189.21,276.47 L190.06,275.76 L190.90,275.07 L191.75,274.41 L192.60,273.76 L193.45,273.14 L194.30,272.54 L195.15,271.96 L196.00,271.39 L196.85,270.85 L197.69,270.32 L198.54,269.81 L199.39,269.31 L200.24,268.83 L201.09,268.36 L201.94,267.91 L202.79,267.47 L203.64,267.05 L204.49,266.63 L205.33,266.23 L206.18,265.84 L207.03,265.46 L207.88,265.10 L208.73,264.74 L209.58,264.39 L210.43,264.06 L211.28,263.73 L212.13,263.41 L212.97,263.10 L213.82,262.80 L214.67,262.50 L215.52,262.22 L216.37,261.94 L217.22,261.67 L218.07,261.41 L218.92,261.15 L219.76,260.90 L220.61,260.66 L221.46,260.42 L222.31,260.19 L223.16,259.96 L224.01,259.74 L224.86,259.53 L225.71,259.32 L226.56,259.12 L227.40,258.92 L228.25,258.72 L229.10,258.53 L229.95,258.35 L230.80,258.17 L231.65,257.99 L232.50,257.82 L233.35,257.65 L234.19,257.49 L235.04,257.32 L235.89,257.17 L236.74,257.01 L237.59,256.86 L238.44,256.72 L239.29,256.57 L240.14,256.43 L240.99,256.30 L241.83,256.16 L242.68,256.03 L243.53,255.90 L244.38,255.78 L245.23,255.65 L246.08,255.53 L246.93,255.41 L247.78,255.30 L248.63,255.18 L249.47,255.07 L250.32,254.96 L251.17,254.86 L252.02,254.75 L252.87,254.65 L253.72,254.55 L254.57,254.45 L255.42,254.36 L256.27,254.26 L257.11,254.17 L257.96,254.08 L258.81,253.99 L259.66,253.90 L260.51,253.82 L261.36,253.73 L262.21,253.65 L263.06,253.57 L263.90,253.49 L264.75,253.41 L265.60,253.33 L266.45,253.26 L267.30,253.18" stroke="#005060"/>
<path d="M46.60,260.13 L47.45,260.35 L48.30,260.58 L49.15,260.81 L50.00,261.05 L50.84,261.29 L51.69,261.54 L52.54,261.80 L53.39,262.07 L54.24,262.34 L55.09,262.61 L55.94,262.90 L56.79,263.19 L57.64,263.50 L58.48,263.81 L59.33,264.12 L60.18,264.45 L61.03,264.79 L61.88,265.13 L62.73,265.49 L63.58,265.85 L64.43,266.23 L65.27,266.62 L66.12,267.02 L66.97,267.43 L67.82,267.85 L68.67,268.28 L69.52,268.73 L70.37,269.19 L71.22,269.67 L72.07,270.16 L72.91,270.66 L73.76,271.18 L74.61,271.72 L75.46,272.28 L76.31,272.85 L77.16,273.44 L78.01,274.05 L78.86,274.68 L79.71,275.33 L80.55,276.00 L81.40,276.69 L82.25,277.41 L83.10,278.15 L83.95,278.91 L84.80,279.70 L85.65,280.52 L86.50,281.37 L87.34,282.25 L88.19,283.15 L89.04,284.09 L89.89,285.06 L90.74,286.07 L91.59,287.11 L92.44,288.19 L93.29,289.31 L94.14,290.46 L94.98,291.66 L95.83,292.90 L96.68,294.19 L97.53,295.52 L98.38,296.91 L99.23,298.34 L100.08,299.82 L100.93,301.36 L101.78,302.95 L102.62,304.60 L103.47,306.31 L104.32,308.09 L105.17,309.92 L106.02,311.82 L106.87,313.78 L107.72,315.82 L108.57,317.92 L109.41,320.09 L110.26,322.33 L111.11,324.64 L111.96,327.03 L112.81,329.48 L113.66,332.01 L114.51,334.61 L115.36,337.27 L116.21,340.00 L117.05,342.79 L117.90,345.64 L118.75,348.54 L119.60,351.48 L120.45,354.46 L121.30,357.46 L122.15,360.48 L123.00,363.50 L123.84,366.51 L124.69,369.49 L125.54,372.41 L126.39,375.26 L127.24,378.02 L128.09,380.67 L128.94,383.16 L129.79,385.49 L130.64,387.63 L131.48,389.54 L132.33,391.20 L133.18,392.60 L134.03,393.71 L134.88,394.51 L135.73,395.00 L136.58,395.15 L137.43,394.98 L138.28,394.45 L139.12,393.59 L139.97,392.41 L140.82,390.93 L141.67,389.16 L142.52,387.14 L143.37,384.89 L144.22,382.44 L145.07,379.82 L145.92,377.05 L146.76,374.17 L147.61,371.20 L148.46,368.16 L149.31,365.08 L150.16,361.97 L151.01,358.86 L151.86,355.76 L152.71,352.68 L153.55,349.63 L154.40,346.63 L155.25,343.68 L156.10,340.78 L156.95,337.95 L157.80,335.19 L158.65,332.50 L159.50,329.89 L160.35,327.35 L161.19,324.88 L162.04,322.49 L162.89,320.18 L163.74,317.94 L164.59,315.78 L165.44,313.69 L166.29,311.67 L167.14,309.72 L167.99,307.84 L168.83,306.02 L169.68,304.27 L170.53,302.59 L171.38,300.96 L172.23,299.39 L173.08,297.88 L173.93,296.42 L174.78,295.02 L175.62,293.66 L176.47,292.35 L177.32,291.10 L178.17,289.88 L179.02,288.71 L179.87,287.58 L180.72,286.49 L181.57,285.44 L182.42,284.43 L183.26,283.45 L184.11,282.51 L184.96,281.60 L185.81,280.72 L186.66,279.87 L187.51,279.05 L188.36,278.26 L189.21,277.49 L190.06,276.75 L190.90,276.03 L191.75,275.34 L192.60,274.67 L193.45,274.03 L194.30,273.40 L195.15,272.79 L196.00,272.21 L196.85,271.64 L197.69,271.09 L198.54,270.55 L199.39,270.04 L200.24,269.54 L201.09,269.05 L201.94,268.58 L202.79,268.12 L203.64,267.68 L204.49,267.25 L205.33,266.83 L206.18,266.43 L207.03,266.04 L207.88,265.65 L208.73,265.28 L209.58,264.92 L210.43,264.57 L211.28,264.23 L212.13,263.90 L212.97,263.58 L213.82,263.27 L214.67,262.96 L215.52,262.67 L216.37,262.38 L217.22,262.10 L218.07,261.83 L218.92,261.56 L219.76,261.30 L220.61,261.05 L221.46,260.80 L222.31,260.56 L223.16,260.33 L224.01,260.10 L224.86,259.88 L225.71,259.66 L226.56,259.45 L227.40,259.25 L228.25,259.05 L229.10,258.85 L229.95,258.66 L230.80,258.47 L231.65,258.29 L232.50,258.11 L233.35,257.94 L234.19,257.77 L235.04,257.60 L235.89,257.44 L236.74,257.28 L237.59,257.12 L238.44,256.97 L239.29,256.82 L240.14,256.68 L240.99,256.54 L241.83,256.40 L242.68,256.26 L243.53,256.13 L244.38,256.00 L245.23,255.87 L246.08,255.75 L246.93,255.63 L247.78,255.51 L248.63,255.39 L249.47,255.28 L250.32,255.16 L251.17,255.05 L252.02,254.95 L252.87,254.84 L253.72,254.74 L254.57,254.64 L255.42,254.54 L256.27,254.44 L257.11,254.35 L257.96,254.25 L258.81,254.16 L259.66,254.07 L260.51,253.98 L261.36,253.89 L262.21,253.81 L263.06,253.73 L263.90,253.64 L264.75,253.56 L265.60,253.48 L266.45,253.41 L267.30,253.33" stroke="#8000ff"/>
<path d="M46.60,259.87 L47.45,260.09 L48.30,260.31 L49.15,260.54 L50.00,260.77 L50.84,261.00 L51.69,261.25 L52.54,261.50 L53.39,261.75 L54.24,262.02 L55.09,262.29 L55.94,262.56 L56.79,262.85 L57.64,263.14 L58.48,263.44 L59.33,263.75 L60.18,264.07 L61.03,264.39 L61.88,264.73 L62.73,265.07 L63.58,265.42 L64.43,265.79 L65.27,266.16 L66.12,266.55 L66.97,266.94 L67.82,267.35 L68.67,267.77 L69.52,268.20 L70.37,268.65 L71.22,269.11 L72.07,269.58 L72.91,270.07 L73.76,270.57 L74.61,271.09 L75.46,271.62 L76.31,272.17 L77.16,272.74 L78.01,273.33 L78.86,273.93 L79.71,274.56 L80.55,275.21 L81.40,275.87 L82.25,276.56 L83.10,277.27 L83.95,278.01 L84.80,278.77 L85.65,279.56 L86.50,280.37 L87.34,281.21 L88.19,282.08 L89.04,282.99 L89.89,283.92 L90.74,284.88 L91.59,285.88 L92.44,286.92 L93.29,287.99 L94.14,289.10 L94.98,290.25 L95.83,291.44 L96.68,292.68 L97.53,293.96 L98.38,295.28 L99.23,296.66 L100.08,298.08 L100.93,299.55 L101.78,301.08 L102.62,302.67 L103.47,304.31 L104.32,306.01 L105.17,307.77 L106.02,309.59 L106.87,311.48 L107.72,313.43 L108.57,315.45 L109.41,317.54 L110.26,319.70 L111.11,321.93 L111.96,324.23 L112.81,326.60 L113.66,329.04 L114.51,331.55 L115.36,334.14 L116.21,336.79 L117.05,339.50 L117.90,342.28 L118.75,345.11 L119.60,348.00 L120.45,350.93 L121.30,353.90 L122.15,356.90 L123.00,359.91 L123.84,362.92 L124.69,365.92 L125.54,368.89 L126.39,371.82 L127.24,374.67 L128.09,377.43 L128.94,380.08 L129.79,382.59 L130.64,384.93 L131.48,387.08 L132.33,389.02 L133.18,390.70 L134.03,392.13 L134.88,393.27 L135.73,394.10 L136.58,394.62 L137.43,394.81 L138.28,394.68 L139.12,394.20 L139.97,393.39 L140.82,392.26 L141.67,390.83 L142.52,389.11 L143.37,387.15 L144.22,384.95 L145.07,382.55 L145.92,379.97 L146.76,377.25 L147.61,374.41 L148.46,371.48 L149.31,368.48 L150.16,365.43 L151.01,362.35 L151.86,359.26 L152.71,356.18 L153.55,353.12 L154.40,350.09 L155.25,347.10 L156.10,344.16 L156.95,341.27 L157.80,338.45 L158.65,335.70 L159.50,333.01 L160.35,330.40 L161.19,327.85 L162.04,325.39 L162.89,323.00 L163.74,320.68 L164.59,318.44 L165.44,316.27 L166.29,314.17 L167.14,312.15 L167.99,310.19 L168.83,308.31 L169.68,306.48 L170.53,304.73 L171.38,303.03 L172.23,301.40 L173.08,299.82 L173.93,298.30 L174.78,296.84 L175.62,295.42 L176.47,294.06 L177.32,292.75 L178.17,291.48 L179.02,290.26 L179.87,289.08 L180.72,287.94 L181.57,286.85 L182.42,285.79 L183.26,284.77 L184.11,283.79 L184.96,282.84 L185.81,281.92 L186.66,281.03 L187.51,280.18 L188.36,279.35 L189.21,278.55 L190.06,277.78 L190.90,277.03 L191.75,276.31 L192.60,275.61 L193.45,274.94 L194.30,274.29 L195.15,273.66 L196.00,273.04 L196.85,272.45 L197.69,271.88 L198.54,271.32 L199.39,270.79 L200.24,270.26 L201.09,269.76 L201.94,269.27 L202.79,268.80 L203.64,268.33 L204.49,267.89 L205.33,267.45 L206.18,267.03 L207.03,266.63 L207.88,266.23 L208.73,265.84 L209.58,265.47 L210.43,265.11 L211.28,264.75 L212.13,264.41 L212.97,264.08 L213.82,263.75 L214.67,263.44 L215.52,263.13 L216.37,262.83 L217.22,262.54 L218.07,262.26 L218.92,261.98 L219.76,261.71 L220.61,261.45 L221.46,261.20 L222.31,260.95 L223.16,260.71 L224.01,260.47 L224.86,260.24 L225.71,260.02 L226.56,259.80 L227.40,259.59 L228.25,259.38 L229.10,259.17 L229.95,258.98 L230.80,258.78 L231.65,258.59 L232.50,258.41 L233.35,258.23 L234.19,258.05 L235.04,257.88 L235.89,257.72 L236.74,257.55 L237.59,257.39 L238.44,257.24 L239.29,257.08 L240.14,256.93 L240.99,256.79 L241.83,256.64 L242.68,256.50 L243.53,256.37 L244.38,256.23 L245.23,256.10 L246.08,255.97 L246.93,255.85 L247.78,255.72 L248.63,255.60 L249.47,255.49 L250.32,255.37 L251.17,255.26 L252.02,255.15 L252.87,255.04 L253.72,254.93 L254.57,254.83 L255.42,254.72 L256.27,254.62 L257.11,254.53 L257.96,254.43 L258.81,254.33 L259.66,254.24 L260.51,254.15 L261.36,254.06 L262.21,253.97 L263.06,253.89 L263.90,253.80 L264.75,253.72 L265.60,253.64 L266.45,253.56 L267.30,253.48" stroke="#6020c0"/>
<path d="M46.60,259.63 L47.45,259.84 L48.30,260.05 L49.15,260.27 L50.00,260.50 L50.84,260.73 L51.69,260.96 L52.54,261.20 L53.39,261.45 L54.24,261.71 L55.09,261.97 L55.94,262.24 L56.79,262.51 L57.64,262.80 L58.48,263.09 L59.33,263.39 L60.18,263.69 L61.03,264.01 L61.88,264.33 L62.73,264.66 L63.58,265.01 L64.43,265.36 L65.27,265.72 L66.12,266.09 L66.97,266.47 L67.82,266.87 L68.67,267.27 L69.52,267.69 L70.37,268.12 L71.22,268.56 L72.07,269.02 L72.91,269.49 L73.76,269.98 L74.61,270.48 L75.46,270.99 L76.31,271.52 L77.16,272.07 L78.01,272.64 L78.86,273.22 L79.71,273.82 L80.55,274.44 L81.40,275.09 L82.25,275.75 L83.10,276.43 L83.95,277.14 L84.80,277.87 L85.65,278.63 L86.50,279.41 L87.34,280.22 L88.19,281.06 L89.04,281.92 L89.89,282.82 L90.74,283.75 L91.59,284.71 L92.44,285.70 L93.29,286.73 L94.14,287.79 L94.98,288.90 L95.83,290.04 L96.68,291.22 L97.53,292.45 L98.38,293.72 L99.23,295.04 L100.08,296.41 L100.93,297.82 L101.78,299.29 L102.62,300.81 L103.47,302.38 L104.32,304.01 L105.17,305.70 L106.02,307.45 L106.87,309.26 L107.72,311.14 L108.57,313.08 L109.41,315.09 L110.26,317.16 L111.11,319.31 L111.96,321.53 L112.81,323.81 L113.66,326.17 L114.51,328.60 L115.36,331.10 L116.21,333.67 L117.05,336.31 L117.90,339.01 L118.75,341.77 L119.60,344.59 L120.45,347.47 L121.30,350.39 L122.15,353.34 L123.00,356.33 L123.84,359.33 L124.69,362.34 L125.54,365.33 L126.39,368.30 L127.24,371.22 L128.09,374.08 L128.94,376.84 L129.79,379.50 L130.64,382.02 L131.48,384.37 L132.33,386.54 L133.18,388.49 L134.03,390.20 L134.88,391.65 L135.73,392.82 L136.58,393.69 L137.43,394.24 L138.28,394.47 L139.12,394.37 L139.97,393.94 L140.82,393.18 L141.67,392.10 L142.52,390.72 L143.37,389.06 L144.22,387.14 L145.07,384.99 L145.92,382.64 L146.76,380.12 L147.61,377.44 L148.46,374.64 L149.31,371.75 L150.16,368.78 L151.01,365.77 L151.86,362.72 L152.71,359.66 L153.55,356.60 L154.40,353.55 L155.25,350.54 L156.10,347.56 L156.95,344.63 L157.80,341.76 L158.65,338.94 L159.50,336.19 L160.35,333.51 L161.19,330.90 L162.04,328.36 L162.89,325.89 L163.74,323.50 L164.59,321.18 L165.44,318.93 L166.29,316.76 L167.14,314.66 L167.99,312.63 L168.83,310.67 L169.68,308.77 L170.53,306.94 L171.38,305.18 L172.23,303.48 L173.08,301.83 L173.93,300.25 L174.78,298.72 L175.62,297.25 L176.47,295.83 L177.32,294.46 L178.17,293.14 L179.02,291.86 L179.87,290.64 L180.72,289.45 L181.57,288.31 L182.42,287.20 L183.26,286.14 L184.11,285.11 L184.96,284.12 L185.81,283.16 L186.66,282.24 L187.51,281.35 L188.36,280.48 L189.21,279.65 L190.06,278.85 L190.90,278.07 L191.75,277.32 L192.60,276.59 L193.45,275.89 L194.30,275.21 L195.15,274.55 L196.00,273.91 L196.85,273.30 L197.69,272.70 L198.54,272.12 L199.39,271.56 L200.24,271.02 L201.09,270.49 L201.94,269.98 L202.79,269.49 L203.64,269.01 L204.49,268.55 L205.33,268.10 L206.18,267.66 L207.03,267.24 L207.88,266.82 L208.73,266.42 L209.58,266.03 L210.43,265.66 L211.28,265.29 L212.13,264.93 L212.97,264.59 L213.82,264.25 L214.67,263.92 L215.52,263.60 L216.37,263.29 L217.22,262.99 L218.07,262.70 L218.92,262.41 L219.76,262.14 L220.61,261.87 L221.46,261.60 L222.31,261.34 L223.16,261.09 L224.01,260.85 L224.86,260.61 L225.71,260.38 L226.56,260.15 L227.40,259.93 L228.25,259.72 L229.10,259.51 L229.95,259.30 L230.80,259.10 L231.65,258.91 L232.50,258.72 L233.35,258.53 L234.19,258.35 L235.04,258.17 L235.89,258.00 L236.74,257.83 L237.59,257.67 L238.44,257.50 L239.29,257.35 L240.14,257.19 L240.99,257.04 L241.83,256.89 L242.68,256.75 L243.53,256.61 L244.38,256.47 L245.23,256.33 L246.08,256.20 L246.93,256.07 L247.78,255.94 L248.63,255.82 L249.47,255.70 L250.32,255.58 L251.17,255.46 L252.02,255.35 L252.87,255.24 L253.72,255.13 L254.57,255.02 L255.42,254.91 L256.27,254.81 L257.11,254.71 L257.96,254.61 L258.81,254.51 L259.66,254.42 L260.51,254.32 L261.36,254.23 L262.21,254.14 L263.06,254.05 L263.90,253.97 L264.75,253.88 L265.60,253.80 L266.45,253.72 L267.30,253.64" stroke="#b08000"/>
<path d="M46.60,259.39 L47.45,259.59 L48.30,259.80 L49.15,260.01 L50.00,260.23 L50.84,260.46 L51.69,260.68 L52.54,260.92 L53.39,261.16 L54.24,261.41 L55.09,261.66 L55.94,261.92 L56.79,262.19 L57.64,262.46 L58.48,262.75 L59.33,263.03 L60.18,263.33 L61.03,263.64 L61.88,263.95 L62.73,264.27 L63.58,264.60 L64.43,264.94 L65.27,265.29 L66.12,265.65 L66.97,266.02 L67.82,266.40 L68.67,266.80 L69.52,267.20 L70.37,267.61 L71.22,268.04 L72.07,268.48 L72.91,268.94 L73.76,269.40 L74.61,269.89 L75.46,270.38 L76.31,270.89 L77.16,271.42 L78.01,271.97 L78.86,272.53 L79.71,273.11 L80.55,273.71 L81.40,274.33 L82.25,274.97 L83.10,275.62 L83.95,276.31 L84.80,277.01 L85.65,277.74 L86.50,278.49 L87.34,279.27 L88.19,280.07 L89.04,280.90 L89.89,281.76 L90.74,282.65 L91.59,283.58 L92.44,284.53 L93.29,285.52 L94.14,286.54 L94.98,287.60 L95.83,288.70 L96.68,289.83 L97.53,291.01 L98.38,292.23 L99.23,293.49 L100.08,294.80 L100.93,296.16 L101.78,297.56 L102.62,299.02 L103.47,300.53 L104.32,302.10 L105.17,303.72 L106.02,305.40 L106.87,307.13 L107.72,308.94 L108.57,310.80 L109.41,312.73 L110.26,314.73 L111.11,316.79 L111.96,318.92 L112.81,321.13 L113.66,323.40 L114.51,325.74 L115.36,328.16 L116.21,330.65 L117.05,333.20 L117.90,335.83 L118.75,338.52 L119.60,341.27 L120.45,344.07 L121.30,346.94 L122.15,349.84 L123.00,352.79 L123.84,355.76 L124.69,358.76 L125.54,361.76 L126.39,364.74 L127.24,367.71 L128.09,370.63 L128.94,373.48 L129.79,376.25 L130.64,378.92 L131.48,381.44 L132.33,383.81 L133.18,385.99 L134.03,387.96 L134.88,389.70 L135.73,391.17 L136.58,392.37 L137.43,393.27 L138.28,393.86 L139.12,394.12 L139.97,394.06 L140.82,393.67 L141.67,392.96 L142.52,391.93 L143.37,390.60 L144.22,388.99 L145.07,387.13 L145.92,385.03 L146.76,382.73 L147.61,380.25 L148.46,377.62 L149.31,374.87 L150.16,372.01 L151.01,369.08 L151.86,366.10 L152.71,363.08 L153.55,360.04 L154.40,357.00 L155.25,353.98 L156.10,350.98 L156.95,348.02 L157.80,345.10 L158.65,342.24 L159.50,339.43 L160.35,336.68 L161.19,334.00 L162.04,331.39 L162.89,328.85 L163.74,326.39 L164.59,323.99 L165.44,321.67 L166.29,319.42 L167.14,317.24 L167.99,315.14 L168.83,313.10 L169.68,311.13 L170.53,309.23 L171.38,307.40 L172.23,305.63 L173.08,303.92 L173.93,302.27 L174.78,300.68 L175.62,299.14 L176.47,297.66 L177.32,296.24 L178.17,294.86 L179.02,293.53 L179.87,292.25 L180.72,291.01 L181.57,289.82 L182.42,288.67 L183.26,287.56 L184.11,286.49 L184.96,285.45 L185.81,284.45 L186.66,283.49 L187.51,282.56 L188.36,281.66 L189.21,280.79 L190.06,279.95 L190.90,279.14 L191.75,278.36 L192.60,277.60 L193.45,276.87 L194.30,276.16 L195.15,275.48 L196.00,274.81 L196.85,274.17 L197.69,273.55 L198.54,272.95 L199.39,272.36 L200.24,271.80 L201.09,271.25 L201.94,270.72 L202.79,270.21 L203.64,269.71 L204.49,269.23 L205.33,268.76 L206.18,268.31 L207.03,267.87 L207.88,267.44 L208.73,267.02 L209.58,266.62 L210.43,266.23 L211.28,265.85 L212.13,265.48 L212.97,265.12 L213.82,264.77 L214.67,264.43 L215.52,264.10 L216.37,263.77 L217.22,263.46 L218.07,263.16 L218.92,262.86 L219.76,262.57 L220.61,262.29 L221.46,262.02 L222.31,261.75 L223.16,261.49 L224.01,261.24 L224.86,260.99 L225.71,260.75 L226.56,260.52 L227.40,260.29 L228.25,260.07 L229.10,259.85 L229.95,259.64 L230.80,259.43 L231.65,259.23 L232.50,259.04 L233.35,258.84 L234.19,258.66 L235.04,258.47 L235.89,258.29 L236.74,258.12 L237.59,257.95 L238.44,257.78 L239.29,257.62 L240.14,257.46 L240.99,257.30 L241.83,257.15 L242.68,257.00 L243.53,256.85 L244.38,256.71 L245.23,256.57 L246.08,256.44 L246.93,256.30 L247.78,256.17 L248.63,256.04 L249.47,255.92 L250.32,255.79 L251.17,255.67 L252.02,255.56 L252.87,255.44 L253.72,255.33 L254.57,255.22 L255.42,255.11 L256.27,255.00 L257.11,254.90 L257.96,254.80 L258.81,254.70 L259.66,254.60 L260.51,254.50 L261.36,254.41 L262.21,254.31 L263.06,254.22 L263.90,254.13 L264.75,254.05 L265.60,253.96 L266.45,253.88 L267.30,253.79" stroke="#1060c0"/>
<path d="M46.60,259.16 L47.45,259.36 L48.30,259.56 L49.15,259.76 L50.00,259.98 L50.84,260.19 L51.69,260.42 L52.54,260.64 L53.39,260.88 L54.24,261.12 L55.09,261.36 L55.94,261.62 L56.79,261.88 L57.64,262.14 L58.48,262.41 L59.33,262.69 L60.18,262.98 L61.03,263.28 L61.88,263.58 L62.73,263.89 L63.58,264.21 L64.43,264.54 L65.27,264.88 L66.12,265.23 L66.97,265.59 L67.82,265.95 L68.67,266.33 L69.52,266.72 L70.37,267.12 L71.22,267.54 L72.07,267.96 L72.91,268.40 L73.76,268.85 L74.61,269.32 L75.46,269.80 L76.31,270.29 L77.16,270.80 L78.01,271.32 L78.86,271.87 L79.71,272.42 L80.55,273.00 L81.40,273.60 L82.25,274.21 L83.10,274.85 L83.95,275.50 L84.80,276.18 L85.65,276.88 L86.50,277.60 L87.34,278.35 L88.19,279.12 L89.04,279.92 L89.89,280.75 L90.74,281.60 L91.59,282.49 L92.44,283.41 L93.29,284.35 L94.14,285.34 L94.98,286.35 L95.83,287.40 L96.68,288.49 L97.53,289.62 L98.38,290.79 L99.23,292.01 L100.08,293.26 L100.93,294.56 L101.78,295.91 L102.62,297.31 L103.47,298.76 L104.32,300.26 L105.17,301.81 L106.02,303.42 L106.87,305.09 L107.72,306.82 L108.57,308.61 L109.41,310.46 L110.26,312.38 L111.11,314.37 L111.96,316.42 L112.81,318.54 L113.66,320.73 L114.51,322.99 L115.36,325.32 L116.21,327.72 L117.05,330.20 L117.90,332.74 L118.75,335.35 L119.60,338.02 L120.45,340.76 L121.30,343.56 L122.15,346.41 L123.00,349.30 L123.84,352.24 L124.69,355.20 L125.54,358.19 L126.39,361.18 L127.24,364.16 L128.09,367.12 L128.94,370.04 L129.79,372.89 L130.64,375.67 L131.48,378.33 L132.33,380.87 L133.18,383.25 L134.03,385.45 L134.88,387.44 L135.73,389.19 L136.58,390.69 L137.43,391.92 L138.28,392.85 L139.12,393.47 L139.97,393.77 L140.82,393.75 L141.67,393.40 L142.52,392.73 L143.37,391.75 L144.22,390.47 L145.07,388.91 L145.92,387.10 L146.76,385.06 L147.61,382.80 L148.46,380.37 L149.31,377.79 L150.16,375.08 L151.01,372.26 L151.86,369.37 L152.71,366.41 L153.55,363.42 L154.40,360.41 L155.25,357.40 L156.10,354.40 L156.95,351.42 L157.80,348.47 L158.65,345.57 L159.50,342.71 L160.35,339.91 L161.19,337.17 L162.04,334.49 L162.89,331.89 L163.74,329.35 L164.59,326.88 L165.44,324.48 L166.29,322.16 L167.14,319.91 L167.99,317.73 L168.83,315.61 L169.68,313.57 L170.53,311.60 L171.38,309.69 L172.23,307.85 L173.08,306.08 L173.93,304.36 L174.78,302.70 L175.62,301.11 L176.47,299.56 L177.32,298.08 L178.17,296.64 L179.02,295.26 L179.87,293.92 L180.72,292.63 L181.57,291.39 L182.42,290.19 L183.26,289.03 L184.11,287.91 L184.96,286.83 L185.81,285.79 L186.66,284.79 L187.51,283.82 L188.36,282.88 L189.21,281.98 L190.06,281.10 L190.90,280.26 L191.75,279.44 L192.60,278.65 L193.45,277.89 L194.30,277.15 L195.15,276.44 L196.00,275.74 L196.85,275.08 L197.69,274.43 L198.54,273.80 L199.39,273.20 L200.24,272.61 L201.09,272.04 L201.94,271.49 L202.79,270.95 L203.64,270.44 L204.49,269.93 L205.33,269.45 L206.18,268.97 L207.03,268.52 L207.88,268.07 L208.73,267.64 L209.58,267.22 L210.43,266.81 L211.28,266.42 L212.13,266.03 L212.97,265.66 L213.82,265.30 L214.67,264.94 L215.52,264.60 L216.37,264.27 L217.22,263.94 L218.07,263.63 L218.92,263.32 L219.76,263.02 L220.61,262.73 L221.46,262.45 L222.31,262.17 L223.16,261.90 L224.01,261.64 L224.86,261.39 L225.71,261.14 L226.56,260.90 L227.40,260.66 L228.25,260.43 L229.10,260.21 L229.95,259.99 L230.80,259.77 L231.65,259.56 L232.50,259.36 L233.35,259.16 L234.19,258.97 L235.04,258.78 L235.89,258.59 L236.74,258.41 L237.59,258.24 L238.44,258.06 L239.29,257.90 L240.14,257.73 L240.99,257.57 L241.83,257.41 L242.68,257.26 L243.53,257.11 L244.38,256.96 L245.23,256.82 L246.08,256.68 L246.93,256.54 L247.78,256.40 L248.63,256.27 L249.47,256.14 L250.32,256.02 L251.17,255.89 L252.02,255.77 L252.87,255.65 L253.72,255.53 L254.57,255.42 L255.42,255.31 L256.27,255.20 L257.11,255.09 L257.96,254.99 L258.81,254.88 L259.66,254.78 L260.51,254.68 L261.36,254.59 L262.21,254.49 L263.06,254.40 L263.90,254.31 L264.75,254.22 L265.60,254.13 L266.45,254.04 L267.30,253.96" stroke="#00a000"/>
<path d="M46.60,258.93 L47.45,259.13 L48.30,259.32 L49.15,259.52 L50.00,259.73 L50.84,259.94 L51.69,260.15 L52.54,260.38 L53.39,260.60 L54.24,260.84 L55.09,261.07 L55.94,261.32 L56.79,261.57 L57.64,261.83 L58.48,262.09 L59.33,262.36 L60.18,262.64 L61.03,262.93 L61.88,263.22 L62.73,263.52 L63.58,263.83 L64.43,264.15 L65.27,264.48 L66.12,264.82 L66.97,265.16 L67.82,265.52 L68.67,265.89 L69.52,266.26 L70.37,266.65 L71.22,267.05 L72.07,267.46 L72.91,267.88 L73.76,268.32 L74.61,268.77 L75.46,269.23 L76.31,269.71 L77.16,270.20 L78.01,270.70 L78.86,271.23 L79.71,271.76 L80.55,272.32 L81.40,272.89 L82.25,273.49 L83.10,274.10 L83.95,274.73 L84.80,275.38 L85.65,276.05 L86.50,276.75 L87.34,277.47 L88.19,278.21 L89.04,278.98 L89.89,279.77 L90.74,280.60 L91.59,281.45 L92.44,282.33 L93.29,283.24 L94.14,284.18 L94.98,285.15 L95.83,286.16 L96.68,287.21 L97.53,288.29 L98.38,289.42 L99.23,290.58 L100.08,291.78 L100.93,293.03 L101.78,294.33 L102.62,295.67 L103.47,297.05 L104.32,298.49 L105.17,299.98 L106.02,301.53 L106.87,303.13 L107.72,304.79 L108.57,306.51 L109.41,308.29 L110.26,310.13 L111.11,312.04 L111.96,314.01 L112.81,316.05 L113.66,318.16 L114.51,320.33 L115.36,322.58 L116.21,324.90 L117.05,327.29 L117.90,329.75 L118.75,332.28 L119.60,334.87 L120.45,337.54 L121.30,340.26 L122.15,343.04 L123.00,345.88 L123.84,348.76 L124.69,351.69 L125.54,354.64 L126.39,357.62 L127.24,360.60 L128.09,363.57 L128.94,366.53 L129.79,369.44 L130.64,372.30 L131.48,375.08 L132.33,377.75 L133.18,380.29 L134.03,382.68 L134.88,384.90 L135.73,386.91 L136.58,388.68 L137.43,390.21 L138.28,391.46 L139.12,392.42 L139.97,393.08 L140.82,393.41 L141.67,393.43 L142.52,393.12 L143.37,392.50 L144.22,391.56 L145.07,390.33 L145.92,388.83 L146.76,387.07 L147.61,385.07 L148.46,382.87 L149.31,380.49 L150.16,377.95 L151.01,375.28 L151.86,372.50 L152.71,369.64 L153.55,366.72 L154.40,363.76 L155.25,360.78 L156.10,357.79 L156.95,354.81 L157.80,351.84 L158.65,348.91 L159.50,346.02 L160.35,343.17 L161.19,340.38 L162.04,337.65 L162.89,334.98 L163.74,332.37 L164.59,329.83 L165.44,327.37 L166.29,324.97 L167.14,322.64 L167.99,320.39 L168.83,318.20 L169.68,316.09 L170.53,314.04 L171.38,312.07 L172.23,310.15 L173.08,308.31 L173.93,306.52 L174.78,304.80 L175.62,303.14 L176.47,301.53 L177.32,299.98 L178.17,298.49 L179.02,297.04 L179.87,295.65 L180.72,294.31 L181.57,293.01 L182.42,291.76 L183.26,290.56 L184.11,289.39 L184.96,288.27 L185.81,287.18 L186.66,286.13 L187.51,285.12 L188.36,284.15 L189.21,283.20 L190.06,282.29 L190.90,281.41 L191.75,280.56 L192.60,279.74 L193.45,278.94 L194.30,278.17 L195.15,277.43 L196.00,276.71 L196.85,276.01 L197.69,275.34 L198.54,274.69 L199.39,274.06 L200.24,273.44 L201.09,272.85 L201.94,272.28 L202.79,271.72 L203.64,271.18 L204.49,270.66 L205.33,270.16 L206.18,269.66 L207.03,269.19 L207.88,268.73 L208.73,268.28 L209.58,267.84 L210.43,267.42 L211.28,267.01 L212.13,266.61 L212.97,266.22 L213.82,265.85 L214.67,265.48 L215.52,265.12 L216.37,264.78 L217.22,264.44 L218.07,264.11 L218.92,263.80 L219.76,263.49 L220.61,263.19 L221.46,262.89 L222.31,262.61 L223.16,262.33 L224.01,262.06 L224.86,261.79 L225.71,261.54 L226.56,261.28 L227.40,261.04 L228.25,260.80 L229.10,260.57 L229.95,260.34 L230.80,260.12 L231.65,259.91 L232.50,259.70 L233.35,259.49 L234.19,259.29 L235.04,259.09 L235.89,258.90 L236.74,258.72 L237.59,258.53 L238.44,258.35 L239.29,258.18 L240.14,258.01 L240.99,257.84 L241.83,257.68 L242.68,257.52 L243.53,257.37 L244.38,257.22 L245.23,257.07 L246.08,256.92 L246.93,256.78 L247.78,256.64 L248.63,256.50 L249.47,256.37 L250.32,256.24 L251.17,256.11 L252.02,255.99 L252.87,255.87 L253.72,255.75 L254.57,255.63 L255.42,255.51 L256.27,255.40 L257.11,255.29 L257.96,255.18 L258.81,255.07 L259.66,254.97 L260.51,254.87 L261.36,254.77 L262.21,254.67 L263.06,254.57 L263.90,254.48 L264.75,254.39 L265.60,254.30 L266.45,254.21 L267.30,254.12" stroke="#70a000"/>
<path d="M46.60,258.72 L47.45,258.90 L48.30,259.09 L49.15,259.29 L50.00,259.49 L50.84,259.69 L51.69,259.90 L52.54,260.12 L53.39,260.34 L54.24,260.56 L55.09,260.79 L55.94,261.03 L56.79,261.28 L57.64,261.53 L58.48,261.78 L59.33,262.04 L60.18,262.31 L61.03,262.59 L61.88,262.88 L62.73,263.17 L63.58,263.47 L64.43,263.78 L65.27,264.09 L66.12,264.42 L66.97,264.75 L67.82,265.10 L68.67,265.45 L69.52,265.82 L70.37,266.19 L71.22,266.58 L72.07,266.97 L72.91,267.38 L73.76,267.80 L74.61,268.24 L75.46,268.68 L76.31,269.14 L77.16,269.62 L78.01,270.10 L78.86,270.61 L79.71,271.13 L80.55,271.66 L81.40,272.22 L82.25,272.79 L83.10,273.37 L83.95,273.98 L84.80,274.61 L85.65,275.26 L86.50,275.93 L87.34,276.62 L88.19,277.33 L89.04,278.07 L89.89,278.84 L90.74,279.63 L91.59,280.44 L92.44,281.29 L93.29,282.16 L94.14,283.07 L94.98,284.00 L95.83,284.97 L96.68,285.98 L97.53,287.02 L98.38,288.09 L99.23,289.21 L100.08,290.37 L100.93,291.56 L101.78,292.80 L102.62,294.09 L103.47,295.42 L104.32,296.80 L105.17,298.23 L106.02,299.71 L106.87,301.25 L107.72,302.84 L108.57,304.49 L109.41,306.20 L110.26,307.97 L111.11,309.80 L111.96,311.69 L112.81,313.65 L113.66,315.68 L114.51,317.78 L115.36,319.94 L116.21,322.18 L117.05,324.48 L117.90,326.86 L118.75,329.30 L119.60,331.82 L120.45,334.40 L121.30,337.05 L122.15,339.76 L123.00,342.53 L123.84,345.35 L124.69,348.23 L125.54,351.14 L126.39,354.08 L127.24,357.05 L128.09,360.02 L128.94,362.99 L129.79,365.94 L130.64,368.85 L131.48,371.71 L132.33,374.49 L133.18,377.16 L134.03,379.72 L134.88,382.12 L135.73,384.35 L136.58,386.37 L137.43,388.17 L138.28,389.72 L139.12,391.00 L139.97,391.99 L140.82,392.68 L141.67,393.05 L142.52,393.11 L143.37,392.84 L144.22,392.26 L145.07,391.37 L145.92,390.19 L146.76,388.73 L147.61,387.02 L148.46,385.08 L149.31,382.92 L150.16,380.59 L151.01,378.09 L151.86,375.46 L152.71,372.73 L153.55,369.91 L154.40,367.02 L155.25,364.09 L156.10,361.13 L156.95,358.17 L157.80,355.21 L158.65,352.26 L159.50,349.35 L160.35,346.47 L161.19,343.63 L162.04,340.85 L162.89,338.12 L163.74,335.45 L164.59,332.85 L165.44,330.32 L166.29,327.85 L167.14,325.45 L167.99,323.13 L168.83,320.87 L169.68,318.68 L170.53,316.56 L171.38,314.51 L172.23,312.53 L173.08,310.61 L173.93,308.76 L174.78,306.97 L175.62,305.24 L176.47,303.57 L177.32,301.96 L178.17,300.40 L179.02,298.90 L179.87,297.45 L180.72,296.05 L181.57,294.70 L182.42,293.40 L183.26,292.14 L184.11,290.92 L184.96,289.75 L185.81,288.62 L186.66,287.53 L187.51,286.48 L188.36,285.46 L189.21,284.47 L190.06,283.52 L190.90,282.61 L191.75,281.72 L192.60,280.86 L193.45,280.03 L194.30,279.23 L195.15,278.46 L196.00,277.71 L196.85,276.98 L197.69,276.28 L198.54,275.60 L199.39,274.95 L200.24,274.31 L201.09,273.69 L201.94,273.10 L202.79,272.52 L203.64,271.96 L204.49,271.42 L205.33,270.89 L206.18,270.38 L207.03,269.88 L207.88,269.40 L208.73,268.94 L209.58,268.48 L210.43,268.05 L211.28,267.62 L212.13,267.20 L212.97,266.80 L213.82,266.41 L214.67,266.03 L215.52,265.66 L216.37,265.30 L217.22,264.95 L218.07,264.62 L218.92,264.29 L219.76,263.96 L220.61,263.65 L221.46,263.35 L222.31,263.05 L223.16,262.76 L224.01,262.48 L224.86,262.21 L225.71,261.94 L226.56,261.68 L227.40,261.43 L228.25,261.18 L229.10,260.94 L229.95,260.71 L230.80,260.48 L231.65,260.26 L232.50,260.04 L233.35,259.83 L234.19,259.62 L235.04,259.42 L235.89,259.22 L236.74,259.03 L237.59,258.84 L238.44,258.65 L239.29,258.47 L240.14,258.30 L240.99,258.13 L241.83,257.96 L242.68,257.79 L243.53,257.63 L244.38,257.48 L245.23,257.32 L246.08,257.17 L246.93,257.03 L247.78,256.88 L248.63,256.74 L249.47,256.61 L250.32,256.47 L251.17,256.34 L252.02,256.21 L252.87,256.08 L253.72,255.96 L254.57,255.84 L255.42,255.72 L256.27,255.60 L257.11,255.49 L257.96,255.38 L258.81,255.27 L259.66,255.16 L260.51,255.06 L261.36,254.95 L262.21,254.85 L263.06,254.75 L263.90,254.66 L264.75,254.56 L265.60,254.47 L266.45,254.38 L267.30,254.29" stroke="#2040c0"/>
<path d="M46.60,258.50 L47.45,258.68 L48.30,258.87 L49.15,259.06 L50.00,259.25 L50.84,259.45 L51.69,259.66 L52.54,259.86 L53.39,260.08 L54.24,260.30 L55.09,260.52 L55.94,260.75 L56.79,260.99 L57.64,261.23 L58.48,261.48 L59.33,261.73 L60.18,262.00 L61.03,262.27 L61.88,262.54 L62.73,262.82 L63.58,263.11 L64.43,263.41 L65.27,263.72 L66.12,264.04 L66.97,264.36 L67.82,264.69 L68.67,265.03 L69.52,265.39 L70.37,265.75 L71.22,266.12 L72.07,266.50 L72.91,266.90 L73.76,267.31 L74.61,267.72 L75.46,268.15 L76.31,268.60 L77.16,269.06 L78.01,269.53 L78.86,270.01 L79.71,270.51 L80.55,271.03 L81.40,271.56 L82.25,272.11 L83.10,272.68 L83.95,273.26 L84.80,273.87 L85.65,274.49 L86.50,275.14 L87.34,275.80 L88.19,276.49 L89.04,277.20 L89.89,277.93 L90.74,278.69 L91.59,279.48 L92.44,280.29 L93.29,281.13 L94.14,282.00 L94.98,282.90 L95.83,283.83 L96.68,284.79 L97.53,285.79 L98.38,286.83 L99.23,287.90 L100.08,289.01 L100.93,290.15 L101.78,291.34 L102.62,292.58 L103.47,293.85 L104.32,295.18 L105.17,296.55 L106.02,297.97 L106.87,299.44 L107.72,300.97 L108.57,302.55 L109.41,304.19 L110.26,305.89 L111.11,307.65 L111.96,309.47 L112.81,311.35 L113.66,313.30 L114.51,315.31 L115.36,317.40 L116.21,319.55 L117.05,321.77 L117.90,324.06 L118.75,326.43 L119.60,328.86 L120.45,331.36 L121.30,333.93 L122.15,336.57 L123.00,339.26 L123.84,342.02 L124.69,344.83 L125.54,347.69 L126.39,350.59 L127.24,353.52 L128.09,356.48 L128.94,359.45 L129.79,362.41 L130.64,365.35 L131.48,368.26 L132.33,371.12 L133.18,373.90 L134.03,376.58 L134.88,379.14 L135.73,381.55 L136.58,383.80 L137.43,385.84 L138.28,387.66 L139.12,389.24 L139.97,390.54 L140.82,391.56 L141.67,392.28 L142.52,392.69 L143.37,392.78 L144.22,392.55 L145.07,392.01 L145.92,391.17 L146.76,390.04 L147.61,388.63 L148.46,386.97 L149.31,385.07 L150.16,382.97 L151.01,380.68 L151.86,378.23 L152.71,375.64 L153.55,372.94 L154.40,370.16 L155.25,367.31 L156.10,364.41 L156.95,361.48 L157.80,358.54 L158.65,355.60 L159.50,352.67 L160.35,349.77 L161.19,346.91 L162.04,344.08 L162.89,341.31 L163.74,338.59 L164.59,335.93 L165.44,333.33 L166.29,330.80 L167.14,328.33 L167.99,325.93 L168.83,323.60 L169.68,321.34 L170.53,319.15 L171.38,317.03 L172.23,314.98 L173.08,312.99 L173.93,311.06 L174.78,309.21 L175.62,307.41 L176.47,305.67 L177.32,304.00 L178.17,302.38 L179.02,300.82 L179.87,299.31 L180.72,297.85 L181.57,296.44 L182.42,295.09 L183.26,293.78 L184.11,292.51 L184.96,291.29 L185.81,290.11 L186.66,288.98 L187.51,287.88 L188.36,286.82 L189.21,285.79 L190.06,284.80 L190.90,283.85 L191.75,282.92 L192.60,282.03 L193.45,281.17 L194.30,280.33 L195.15,279.52 L196.00,278.74 L196.85,277.99 L197.69,277.26 L198.54,276.55 L199.39,275.87 L200.24,275.21 L201.09,274.56 L201.94,273.94 L202.79,273.34 L203.64,272.76 L204.49,272.19 L205.33,271.65 L206.18,271.12 L207.03,270.60 L207.88,270.10 L208.73,269.62 L209.58,269.15 L210.43,268.69 L211.28,268.25 L212.13,267.82 L212.97,267.40 L213.82,267.00 L214.67,266.60 L215.52,266.22 L216.37,265.85 L217.22,265.48 L218.07,265.13 L218.92,264.79 L219.76,264.46 L220.61,264.13 L221.46,263.82 L222.31,263.51 L223.16,263.21 L224.01,262.92 L224.86,262.64 L225.71,262.36 L226.56,262.09 L227.40,261.83 L228.25,261.58 L229.10,261.33 L229.95,261.08 L230.80,260.85 L231.65,260.62 L232.50,260.39 L233.35,260.17 L234.19,259.96 L235.04,259.75 L235.89,259.54 L236.74,259.34 L237.59,259.15 L238.44,258.96 L239.29,258.77 L240.14,258.59 L240.99,258.42 L241.83,258.24 L242.68,258.07 L243.53,257.91 L244.38,257.75 L245.23,257.59 L246.08,257.43 L246.93,257.28 L247.78,257.13 L248.63,256.99 L249.47,256.85 L250.32,256.71 L251.17,256.57 L252.02,256.44 L252.87,256.31 L253.72,256.18 L254.57,256.06 L255.42,255.93 L256.27,255.81 L257.11,255.70 L257.96,255.58 L258.81,255.47 L259.66,255.36 L260.51,255.25 L261.36,255.15 L262.21,255.04 L263.06,254.94 L263.90,254.84 L264.75,254.74 L265.60,254.65 L266.45,254.55 L267.30,254.46" stroke="#00b8e8"/>
<path d="M46.60,258.30 L47.45,258.47 L48.30,258.65 L49.15,258.84 L50.00,259.03 L50.84,259.22 L51.69,259.42 L52.54,259.62 L53.39,259.83 L54.24,260.04 L55.09,260.26 L55.94,260.48 L56.79,260.71 L57.64,260.95 L58.48,261.19 L59.33,261.44 L60.18,261.69 L61.03,261.95 L61.88,262.22 L62.73,262.49 L63.58,262.77 L64.43,263.06 L65.27,263.36 L66.12,263.66 L66.97,263.98 L67.82,264.30 L68.67,264.63 L69.52,264.97 L70.37,265.32 L71.22,265.68 L72.07,266.05 L72.91,266.43 L73.76,266.83 L74.61,267.23 L75.46,267.65 L76.31,268.07 L77.16,268.52 L78.01,268.97 L78.86,269.44 L79.71,269.92 L80.55,270.42 L81.40,270.93 L82.25,271.46 L83.10,272.01 L83.95,272.57 L84.80,273.15 L85.65,273.75 L86.50,274.37 L87.34,275.02 L88.19,275.68 L89.04,276.36 L89.89,277.07 L90.74,277.80 L91.59,278.55 L92.44,279.33 L93.29,280.14 L94.14,280.97 L94.98,281.84 L95.83,282.73 L96.68,283.66 L97.53,284.62 L98.38,285.61 L99.23,286.64 L100.08,287.70 L100.93,288.80 L101.78,289.94 L102.62,291.13 L103.47,292.35 L104.32,293.62 L105.17,294.94 L106.02,296.30 L106.87,297.71 L107.72,299.18 L108.57,300.69 L109.41,302.27 L110.26,303.89 L111.11,305.58 L111.96,307.33 L112.81,309.14 L113.66,311.01 L114.51,312.95 L115.36,314.95 L116.21,317.02 L117.05,319.16 L117.90,321.37 L118.75,323.65 L119.60,326.00 L120.45,328.42 L121.30,330.91 L122.15,333.46 L123.00,336.08 L123.84,338.77 L124.69,341.51 L125.54,344.31 L126.39,347.16 L127.24,350.05 L128.09,352.97 L128.94,355.91 L129.79,358.87 L130.64,361.83 L131.48,364.77 L132.33,367.68 L133.18,370.53 L134.03,373.31 L134.88,376.00 L135.73,378.57 L136.58,380.99 L137.43,383.24 L138.28,385.30 L139.12,387.15 L139.97,388.74 L140.82,390.08 L141.67,391.13 L142.52,391.88 L143.37,392.32 L144.22,392.45 L145.07,392.26 L145.92,391.76 L146.76,390.96 L147.61,389.88 L148.46,388.52 L149.31,386.90 L150.16,385.06 L151.01,383.00 L151.86,380.76 L152.71,378.35 L153.55,375.81 L154.40,373.15 L155.25,370.40 L156.10,367.58 L156.95,364.72 L157.80,361.82 L158.65,358.90 L159.50,355.98 L160.35,353.07 L161.19,350.19 L162.04,347.34 L162.89,344.53 L163.74,341.76 L164.59,339.05 L165.44,336.39 L166.29,333.80 L167.14,331.27 L167.99,328.80 L168.83,326.41 L169.68,324.08 L170.53,321.81 L171.38,319.62 L172.23,317.50 L173.08,315.44 L173.93,313.44 L174.78,311.52 L175.62,309.65 L176.47,307.85 L177.32,306.11 L178.17,304.43 L179.02,302.80 L179.87,301.23 L180.72,299.72 L181.57,298.25 L182.42,296.84 L183.26,295.48 L184.11,294.16 L184.96,292.89 L185.81,291.66 L186.66,290.47 L187.51,289.33 L188.36,288.22 L189.21,287.16 L190.06,286.13 L190.90,285.13 L191.75,284.17 L192.60,283.24 L193.45,282.34 L194.30,281.47 L195.15,280.63 L196.00,279.82 L196.85,279.03 L197.69,278.27 L198.54,277.53 L199.39,276.82 L200.24,276.13 L201.09,275.47 L201.94,274.82 L202.79,274.19 L203.64,273.59 L204.49,273.00 L205.33,272.43 L206.18,271.88 L207.03,271.34 L207.88,270.82 L208.73,270.32 L209.58,269.83 L210.43,269.36 L211.28,268.90 L212.13,268.45 L212.97,268.02 L213.82,267.60 L214.67,267.19 L215.52,266.79 L216.37,266.41 L217.22,266.03 L218.07,265.66 L218.92,265.31 L219.76,264.96 L220.61,264.63 L221.46,264.30 L222.31,263.98 L223.16,263.67 L224.01,263.37 L224.86,263.08 L225.71,262.79 L226.56,262.52 L227.40,262.24 L228.25,261.98 L229.10,261.72 L229.95,261.47 L230.80,261.23 L231.65,260.99 L232.50,260.75 L233.35,260.53 L234.19,260.31 L235.04,260.09 L235.89,259.88 L236.74,259.67 L237.59,259.47 L238.44,259.27 L239.29,259.08 L240.14,258.90 L240.99,258.71 L241.83,258.53 L242.68,258.36 L243.53,258.19 L244.38,258.02 L245.23,257.86 L246.08,257.70 L246.93,257.54 L247.78,257.39 L248.63,257.24 L249.47,257.09 L250.32,256.95 L251.17,256.81 L252.02,256.67 L252.87,256.54 L253.72,256.41 L254.57,256.28 L255.42,256.15 L256.27,256.03 L257.11,255.91 L257.96,255.79 L258.81,255.67 L259.66,255.56 L260.51,255.45 L261.36,255.34 L262.21,255.23 L263.06,255.13 L263.90,255.03 L264.75,254.92 L265.60,254.83 L266.45,254.73 L267.30,254.63" stroke="#208080"/>
<path d="M46.60,258.10 L47.45,258.27 L48.30,258.44 L49.15,258.62 L50.00,258.81 L50.84,258.99 L51.69,259.19 L52.54,259.38 L53.39,259.59 L54.24,259.79 L55.09,260.00 L55.94,260.22 L56.79,260.44 L57.64,260.67 L58.48,260.90 L59.33,261.14 L60.18,261.39 L61.03,261.64 L61.88,261.90 L62.73,262.17 L63.58,262.44 L64.43,262.72 L65.27,263.01 L66.12,263.30 L66.97,263.61 L67.82,263.92 L68.67,264.24 L69.52,264.57 L70.37,264.91 L71.22,265.26 L72.07,265.61 L72.91,265.98 L73.76,266.36 L74.61,266.75 L75.46,267.15 L76.31,267.57 L77.16,267.99 L78.01,268.43 L78.86,268.88 L79.71,269.35 L80.55,269.83 L81.40,270.33 L82.25,270.84 L83.10,271.36 L83.95,271.91 L84.80,272.47 L85.65,273.04 L86.50,273.64 L87.34,274.26 L88.19,274.90 L89.04,275.55 L89.89,276.23 L90.74,276.93 L91.59,277.66 L92.44,278.41 L93.29,279.19 L94.14,279.99 L94.98,280.82 L95.83,281.68 L96.68,282.57 L97.53,283.49 L98.38,284.44 L99.23,285.42 L100.08,286.45 L100.93,287.50 L101.78,288.60 L102.62,289.73 L103.47,290.91 L104.32,292.13 L105.17,293.39 L106.02,294.69 L106.87,296.05 L107.72,297.45 L108.57,298.91 L109.41,300.42 L110.26,301.98 L111.11,303.60 L111.96,305.27 L112.81,307.01 L113.66,308.81 L114.51,310.67 L115.36,312.60 L116.21,314.59 L117.05,316.65 L117.90,318.77 L118.75,320.97 L119.60,323.24 L120.45,325.57 L121.30,327.98 L122.15,330.45 L123.00,332.99 L123.84,335.60 L124.69,338.27 L125.54,341.00 L126.39,343.79 L127.24,346.63 L128.09,349.50 L128.94,352.42 L129.79,355.35 L130.64,358.30 L131.48,361.25 L132.33,364.19 L133.18,367.09 L134.03,369.94 L134.88,372.72 L135.73,375.41 L136.58,377.99 L137.43,380.42 L138.28,382.69 L139.12,384.77 L139.97,386.63 L140.82,388.25 L141.67,389.61 L142.52,390.69 L143.37,391.47 L144.22,391.95 L145.07,392.11 L145.92,391.96 L146.76,391.50 L147.61,390.75 L148.46,389.71 L149.31,388.40 L150.16,386.83 L151.01,385.03 L151.86,383.02 L152.71,380.82 L153.55,378.46 L154.40,375.96 L155.25,373.35 L156.10,370.63 L156.95,367.85 L157.80,365.01 L158.65,362.14 L159.50,359.25 L160.35,356.35 L161.19,353.47 L162.04,350.60 L162.89,347.76 L163.74,344.96 L164.59,342.21 L165.44,339.50 L166.29,336.85 L167.14,334.26 L167.99,331.74 L168.83,329.27 L169.68,326.88 L170.53,324.55 L171.38,322.28 L172.23,320.09 L173.08,317.96 L173.93,315.90 L174.78,313.90 L175.62,311.97 L176.47,310.10 L177.32,308.29 L178.17,306.54 L179.02,304.85 L179.87,303.22 L180.72,301.65 L181.57,300.12 L182.42,298.65 L183.26,297.23 L184.11,295.86 L184.96,294.54 L185.81,293.26 L186.66,292.03 L187.51,290.83 L188.36,289.68 L189.21,288.57 L190.06,287.50 L190.90,286.46 L191.75,285.46 L192.60,284.49 L193.45,283.55 L194.30,282.65 L195.15,281.77 L196.00,280.93 L196.85,280.11 L197.69,279.32 L198.54,278.55 L199.39,277.81 L200.24,277.09 L201.09,276.40 L201.94,275.73 L202.79,275.07 L203.64,274.44 L204.49,273.83 L205.33,273.24 L206.18,272.67 L207.03,272.11 L207.88,271.57 L208.73,271.05 L209.58,270.54 L210.43,270.05 L211.28,269.57 L212.13,269.11 L212.97,268.66 L213.82,268.22 L214.67,267.80 L215.52,267.38 L216.37,266.98 L217.22,266.59 L218.07,266.21 L218.92,265.85 L219.76,265.49 L220.61,265.14 L221.46,264.80 L222.31,264.47 L223.16,264.15 L224.01,263.84 L224.86,263.53 L225.71,263.24 L226.56,262.95 L227.40,262.67 L228.25,262.40 L229.10,262.13 L229.95,261.87 L230.80,261.62 L231.65,261.37 L232.50,261.13 L233.35,260.89 L234.19,260.66 L235.04,260.44 L235.89,260.22 L236.74,260.01 L237.59,259.80 L238.44,259.60 L239.29,259.40 L240.14,259.21 L240.99,259.02 L241.83,258.83 L242.68,258.65 L243.53,258.48 L244.38,258.30 L245.23,258.13 L246.08,257.97 L246.93,257.81 L247.78,257.65 L248.63,257.50 L249.47,257.35 L250.32,257.20 L251.17,257.05 L252.02,256.91 L252.87,256.77 L253.72,256.64 L254.57,256.51 L255.42,256.38 L256.27,256.25 L257.11,256.13 L257.96,256.00 L258.81,255.88 L259.66,255.77 L260.51,255.65 L261.36,255.54 L262.21,255.43 L263.06,255.32 L263.90,255.22 L264.75,255.11 L265.60,255.01 L266.45,254.91 L267.30,254.81" stroke="#40a040"/>
<path d="M46.60,257.90 L47.45,258.07 L48.30,258.24 L49.15,258.41 L50.00,258.59 L50.84,258.78 L51.69,258.96 L52.54,259.15 L53.39,259.35 L54.24,259.55 L55.09,259.76 L55.94,259.97 L56.79,260.18 L57.64,260.40 L58.48,260.63 L59.33,260.86 L60.18,261.10 L61.03,261.35 L61.88,261.60 L62.73,261.85 L63.58,262.12 L64.43,262.39 L65.27,262.67 L66.12,262.95 L66.97,263.25 L67.82,263.55 L68.67,263.86 L69.52,264.18 L70.37,264.51 L71.22,264.84 L72.07,265.19 L72.91,265.55 L73.76,265.91 L74.61,266.29 L75.46,266.68 L76.31,267.08 L77.16,267.49 L78.01,267.91 L78.86,268.35 L79.71,268.80 L80.55,269.26 L81.40,269.74 L82.25,270.23 L83.10,270.74 L83.95,271.26 L84.80,271.80 L85.65,272.36 L86.50,272.94 L87.34,273.53 L88.19,274.14 L89.04,274.78 L89.89,275.43 L90.74,276.10 L91.59,276.80 L92.44,277.52 L93.29,278.27 L94.14,279.04 L94.98,279.84 L95.83,280.66 L96.68,281.52 L97.53,282.40 L98.38,283.32 L99.23,284.26 L100.08,285.24 L100.93,286.26 L101.78,287.31 L102.62,288.40 L103.47,289.52 L104.32,290.69 L105.17,291.90 L106.02,293.16 L106.87,294.46 L107.72,295.80 L108.57,297.20 L109.41,298.64 L110.26,300.14 L111.11,301.69 L111.96,303.30 L112.81,304.97 L113.66,306.70 L114.51,308.48 L115.36,310.33 L116.21,312.25 L117.05,314.23 L117.90,316.27 L118.75,318.39 L119.60,320.57 L120.45,322.82 L121.30,325.15 L122.15,327.54 L123.00,330.00 L123.84,332.53 L124.69,335.12 L125.54,337.78 L126.39,340.50 L127.24,343.27 L128.09,346.10 L128.94,348.96 L129.79,351.86 L130.64,354.79 L131.48,357.73 L132.33,360.67 L133.18,363.60 L134.03,366.50 L134.88,369.35 L135.73,372.14 L136.58,374.83 L137.43,377.41 L138.28,379.86 L139.12,382.14 L139.97,384.23 L140.82,386.11 L141.67,387.76 L142.52,389.14 L143.37,390.25 L144.22,391.07 L145.07,391.57 L145.92,391.77 L146.76,391.65 L147.61,391.24 L148.46,390.52 L149.31,389.53 L150.16,388.27 L151.01,386.75 L151.86,385.00 L152.71,383.03 L153.55,380.88 L154.40,378.57 L155.25,376.11 L156.10,373.53 L156.95,370.86 L157.80,368.11 L158.65,365.30 L159.50,362.46 L160.35,359.59 L161.19,356.72 L162.04,353.85 L162.89,351.00 L163.74,348.18 L164.59,345.39 L165.44,342.65 L166.29,339.95 L167.14,337.31 L167.99,334.72 L168.83,332.20 L169.68,329.74 L170.53,327.34 L171.38,325.01 L172.23,322.75 L173.08,320.55 L173.93,318.42 L174.78,316.35 L175.62,314.35 L176.47,312.41 L177.32,310.54 L178.17,308.73 L179.02,306.97 L179.87,305.28 L180.72,303.64 L181.57,302.06 L182.42,300.53 L183.26,299.05 L184.11,297.63 L184.96,296.25 L185.81,294.92 L186.66,293.63 L187.51,292.39 L188.36,291.19 L189.21,290.04 L190.06,288.92 L190.90,287.84 L191.75,286.79 L192.60,285.78 L193.45,284.81 L194.30,283.87 L195.15,282.96 L196.00,282.08 L196.85,281.22 L197.69,280.40 L198.54,279.60 L199.39,278.83 L200.24,278.08 L201.09,277.36 L201.94,276.66 L202.79,275.99 L203.64,275.33 L204.49,274.69 L205.33,274.08 L206.18,273.48 L207.03,272.90 L207.88,272.34 L208.73,271.80 L209.58,271.27 L210.43,270.76 L211.28,270.26 L212.13,269.78 L212.97,269.32 L213.82,268.86 L214.67,268.42 L215.52,267.99 L216.37,267.58 L217.22,267.17 L218.07,266.78 L218.92,266.40 L219.76,266.03 L220.61,265.67 L221.46,265.31 L222.31,264.97 L223.16,264.64 L224.01,264.32 L224.86,264.00 L225.71,263.70 L226.56,263.40 L227.40,263.11 L228.25,262.82 L229.10,262.55 L229.95,262.28 L230.80,262.02 L231.65,261.76 L232.50,261.51 L233.35,261.27 L234.19,261.03 L235.04,260.80 L235.89,260.57 L236.74,260.35 L237.59,260.14 L238.44,259.93 L239.29,259.72 L240.14,259.52 L240.99,259.33 L241.83,259.14 L242.68,258.95 L243.53,258.77 L244.38,258.59 L245.23,258.42 L246.08,258.25 L246.93,258.08 L247.78,257.92 L248.63,257.76 L249.47,257.60 L250.32,257.45 L251.17,257.30 L252.02,257.16 L252.87,257.02 L253.72,256.88 L254.57,256.74 L255.42,256.61 L256.27,256.47 L257.11,256.35 L257.96,256.22 L258.81,256.10 L259.66,255.98 L260.51,255.86 L261.36,255.74 L262.21,255.63 L263.06,255.52 L263.90,255.41 L264.75,255.30 L265.60,255.20 L266.45,255.09 L267.30,254.99" stroke="#8080a0"/>
<path d="M46.60,257.72 L47.45,257.88 L48.30,258.04 L49.15,258.21 L50.00,258.39 L50.84,258.56 L51.69,258.74 L52.54,258.93 L53.39,259.12 L54.24,259.31 L55.09,259.51 L55.94,259.72 L56.79,259.93 L57.64,260.14 L58.48,260.36 L59.33,260.59 L60.18,260.82 L61.03,261.06 L61.88,261.30 L62.73,261.55 L63.58,261.81 L64.43,262.07 L65.27,262.34 L66.12,262.62 L66.97,262.90 L67.82,263.19 L68.67,263.49 L69.52,263.80 L70.37,264.12 L71.22,264.45 L72.07,264.78 L72.91,265.13 L73.76,265.48 L74.61,265.84 L75.46,266.22 L76.31,266.61 L77.16,267.00 L78.01,267.41 L78.86,267.83 L79.71,268.27 L80.55,268.71 L81.40,269.18 L82.25,269.65 L83.10,270.14 L83.95,270.64 L84.80,271.16 L85.65,271.70 L86.50,272.26 L87.34,272.83 L88.19,273.42 L89.04,274.03 L89.89,274.66 L90.74,275.31 L91.59,275.98 L92.44,276.67 L93.29,277.39 L94.14,278.13 L94.98,278.90 L95.83,279.69 L96.68,280.51 L97.53,281.36 L98.38,282.24 L99.23,283.15 L100.08,284.09 L100.93,285.06 L101.78,286.07 L102.62,287.11 L103.47,288.19 L104.32,289.32 L105.17,290.48 L106.02,291.68 L106.87,292.93 L107.72,294.22 L108.57,295.56 L109.41,296.94 L110.26,298.38 L111.11,299.87 L111.96,301.41 L112.81,303.01 L113.66,304.67 L114.51,306.38 L115.36,308.16 L116.21,310.00 L117.05,311.90 L117.90,313.87 L118.75,315.90 L119.60,318.00 L120.45,320.17 L121.30,322.41 L122.15,324.72 L123.00,327.10 L123.84,329.55 L124.69,332.07 L125.54,334.65 L126.39,337.29 L127.24,340.00 L128.09,342.76 L128.94,345.57 L129.79,348.42 L130.64,351.31 L131.48,354.23 L132.33,357.16 L133.18,360.10 L134.03,363.02 L134.88,365.92 L135.73,368.77 L136.58,371.55 L137.43,374.25 L138.28,376.84 L139.12,379.29 L139.97,381.58 L140.82,383.69 L141.67,385.59 L142.52,387.26 L143.37,388.67 L144.22,389.81 L145.07,390.65 L145.92,391.19 L146.76,391.42 L147.61,391.34 L148.46,390.97 L149.31,390.30 L150.16,389.35 L151.01,388.13 L151.86,386.66 L152.71,384.95 L153.55,383.04 L154.40,380.93 L155.25,378.66 L156.10,376.24 L156.95,373.71 L157.80,371.07 L158.65,368.35 L159.50,365.58 L160.35,362.76 L161.19,359.92 L162.04,357.07 L162.89,354.23 L163.74,351.39 L164.59,348.59 L165.44,345.81 L166.29,343.08 L167.14,340.39 L167.99,337.76 L168.83,335.18 L169.68,332.66 L170.53,330.20 L171.38,327.80 L172.23,325.47 L173.08,323.21 L173.93,321.01 L174.78,318.87 L175.62,316.80 L176.47,314.80 L177.32,312.86 L178.17,310.98 L179.02,309.16 L179.87,307.40 L180.72,305.70 L181.57,304.06 L182.42,302.47 L183.26,300.93 L184.11,299.45 L184.96,298.02 L185.81,296.63 L186.66,295.30 L187.51,294.01 L188.36,292.76 L189.21,291.55 L190.06,290.39 L190.90,289.26 L191.75,288.18 L192.60,287.13 L193.45,286.11 L194.30,285.13 L195.15,284.18 L196.00,283.27 L196.85,282.38 L197.69,281.52 L198.54,280.69 L199.39,279.89 L200.24,279.11 L201.09,278.36 L201.94,277.63 L202.79,276.93 L203.64,276.25 L204.49,275.59 L205.33,274.95 L206.18,274.33 L207.03,273.72 L207.88,273.14 L208.73,272.58 L209.58,272.03 L210.43,271.50 L211.28,270.98 L212.13,270.48 L212.97,270.00 L213.82,269.52 L214.67,269.07 L215.52,268.62 L216.37,268.19 L217.22,267.77 L218.07,267.36 L218.92,266.97 L219.76,266.58 L220.61,266.21 L221.46,265.84 L222.31,265.49 L223.16,265.15 L224.01,264.81 L224.86,264.48 L225.71,264.17 L226.56,263.86 L227.40,263.56 L228.25,263.26 L229.10,262.98 L229.95,262.70 L230.80,262.43 L231.65,262.16 L232.50,261.91 L233.35,261.65 L234.19,261.41 L235.04,261.17 L235.89,260.94 L236.74,260.71 L237.59,260.49 L238.44,260.27 L239.29,260.06 L240.14,259.85 L240.99,259.65 L241.83,259.45 L242.68,259.26 L243.53,259.07 L244.38,258.89 L245.23,258.71 L246.08,258.53 L246.93,258.36 L247.78,258.19 L248.63,258.03 L249.47,257.87 L250.32,257.71 L251.17,257.56 L252.02,257.41 L252.87,257.26 L253.72,257.12 L254.57,256.98 L255.42,256.84 L256.27,256.70 L257.11,256.57 L257.96,256.44 L258.81,256.32 L259.66,256.19 L260.51,256.07 L261.36,255.95 L262.21,255.83 L263.06,255.72 L263.90,255.61 L264.75,255.50 L265.60,255.39 L266.45,255.28 L267.30,255.18" stroke="#a07070"/>
<path d="M46.60,257.53 L47.45,257.69 L48.30,257.85 L49.15,258.01 L50.00,258.18 L50.84,258.36 L51.69,258.53 L52.54,258.71 L53.39,258.90 L54.24,259.09 L55.09,259.28 L55.94,259.48 L56.79,259.68 L57.64,259.89 L58.48,260.11 L59.33,260.32 L60.18,260.55 L61.03,260.78 L61.88,261.01 L62.73,261.26 L63.58,261.51 L64.43,261.76 L65.27,262.02 L66.12,262.29 L66.97,262.57 L67.82,262.85 L68.67,263.14 L69.52,263.44 L70.37,263.75 L71.22,264.06 L72.07,264.39 L72.91,264.72 L73.76,265.06 L74.61,265.41 L75.46,265.78 L76.31,266.15 L77.16,266.53 L78.01,266.93 L78.86,267.34 L79.71,267.75 L80.55,268.19 L81.40,268.63 L82.25,269.09 L83.10,269.56 L83.95,270.05 L84.80,270.55 L85.65,271.07 L86.50,271.60 L87.34,272.15 L88.19,272.72 L89.04,273.31 L89.89,273.91 L90.74,274.54 L91.59,275.18 L92.44,275.85 L93.29,276.54 L94.14,277.25 L94.98,277.99 L95.83,278.75 L96.68,279.54 L97.53,280.36 L98.38,281.20 L99.23,282.07 L100.08,282.98 L100.93,283.91 L101.78,284.88 L102.62,285.88 L103.47,286.92 L104.32,287.99 L105.17,289.11 L106.02,290.26 L106.87,291.46 L107.72,292.70 L108.57,293.98 L109.41,295.31 L110.26,296.69 L111.11,298.12 L111.96,299.60 L112.81,301.13 L113.66,302.72 L114.51,304.36 L115.36,306.07 L116.21,307.83 L117.05,309.66 L117.90,311.55 L118.75,313.51 L119.60,315.53 L120.45,317.62 L121.30,319.78 L122.15,322.01 L123.00,324.30 L123.84,326.67 L124.69,329.10 L125.54,331.61 L126.39,334.17 L127.24,336.81 L128.09,339.50 L128.94,342.25 L129.79,345.04 L130.64,347.89 L131.48,350.77 L132.33,353.67 L133.18,356.60 L134.03,359.52 L134.88,362.44 L135.73,365.33 L136.58,368.18 L137.43,370.97 L138.28,373.67 L139.12,376.26 L139.97,378.72 L140.82,381.03 L141.67,383.15 L142.52,385.07 L143.37,386.76 L144.22,388.20 L145.07,389.36 L145.92,390.24 L146.76,390.81 L147.61,391.08 L148.46,391.03 L149.31,390.69 L150.16,390.06 L151.01,389.16 L151.86,387.98 L152.71,386.56 L153.55,384.90 L154.40,383.03 L155.25,380.97 L156.10,378.74 L156.95,376.37 L157.80,373.87 L158.65,371.27 L159.50,368.59 L160.35,365.85 L161.19,363.06 L162.04,360.25 L162.89,357.42 L163.74,354.59 L164.59,351.78 L165.44,348.99 L166.29,346.23 L167.14,343.50 L167.99,340.83 L168.83,338.20 L169.68,335.63 L170.53,333.11 L171.38,330.65 L172.23,328.26 L173.08,325.93 L173.93,323.66 L174.78,321.46 L175.62,319.33 L176.47,317.25 L177.32,315.25 L178.17,313.30 L179.02,311.42 L179.87,309.59 L180.72,307.83 L181.57,306.12 L182.42,304.47 L183.26,302.88 L184.11,301.34 L184.96,299.85 L185.81,298.41 L186.66,297.02 L187.51,295.68 L188.36,294.38 L189.21,293.12 L190.06,291.91 L190.90,290.74 L191.75,289.61 L192.60,288.52 L193.45,287.46 L194.30,286.44 L195.15,285.45 L196.00,284.50 L196.85,283.57 L197.69,282.68 L198.54,281.82 L199.39,280.98 L200.24,280.18 L201.09,279.39 L201.94,278.64 L202.79,277.90 L203.64,277.19 L204.49,276.51 L205.33,275.84 L206.18,275.20 L207.03,274.57 L207.88,273.97 L208.73,273.38 L209.58,272.81 L210.43,272.26 L211.28,271.72 L212.13,271.20 L212.97,270.70 L213.82,270.21 L214.67,269.73 L215.52,269.27 L216.37,268.82 L217.22,268.39 L218.07,267.97 L218.92,267.56 L219.76,267.16 L220.61,266.77 L221.46,266.39 L222.31,266.02 L223.16,265.67 L224.01,265.32 L224.86,264.98 L225.71,264.65 L226.56,264.33 L227.40,264.02 L228.25,263.72 L229.10,263.42 L229.95,263.13 L230.80,262.85 L231.65,262.58 L232.50,262.31 L233.35,262.05 L234.19,261.80 L235.04,261.55 L235.89,261.31 L236.74,261.07 L237.59,260.84 L238.44,260.62 L239.29,260.40 L240.14,260.19 L240.99,259.98 L241.83,259.78 L242.68,259.58 L243.53,259.38 L244.38,259.19 L245.23,259.01 L246.08,258.83 L246.93,258.65 L247.78,258.48 L248.63,258.31 L249.47,258.14 L250.32,257.98 L251.17,257.82 L252.02,257.67 L252.87,257.52 L253.72,257.37 L254.57,257.22 L255.42,257.08 L256.27,256.94 L257.11,256.80 L257.96,256.67 L258.81,256.54 L259.66,256.41 L260.51,256.29 L261.36,256.16 L262.21,256.04 L263.06,255.93 L263.90,255.81 L264.75,255.70 L265.60,255.59 L266.45,255.48 L267.30,255.37" stroke="#c08080"/>
</g>
<rect x="46.6" y="235.05" width="220.7" height="178.15" fill="none" stroke="#000" stroke-width="1.6"/>
<text x="42.3" y="249.7" font-family="'Liberation Sans', Arial, sans-serif" font-size="12.0" font-weight="bold" text-anchor="end" stroke="#000" stroke-width="0.3">0</text>
<text x="42.3" y="272.06" font-family="'Liberation Sans', Arial, sans-serif" font-size="12.0" font-weight="bold" text-anchor="end" stroke="#000" stroke-width="0.3">-1</text>
<text x="42.3" y="294.42" font-family="'Liberation Sans', Arial, sans-serif" font-size="12.0" font-weight="bold" text-anchor="end" stroke="#000" stroke-width="0.3">-2</text>
<text x="42.3" y="316.78" font-family="'Liberation Sans', Arial, sans-serif" font-size="12.0" font-weight="bold" text-anchor="end" stroke="#000" stroke-width="0.3">-3</text>
<text x="42.3" y="339.14" font-family="'Liberation Sans', Arial, sans-serif" font-size="12.0" font-weight="bold" text-anchor="end" stroke="#000" stroke-width="0.3">-4</text>
<text x="42.3" y="361.5" font-family="'Liberation Sans', Arial, sans-serif" font-size="12.0" font-weight="bold" text-anchor="end" stroke="#000" stroke-width="0.3">-5</text>
<text x="42.3" y="383.86" font-family="'Liberation Sans', Arial, sans-serif" font-size="12.0" font-weight="bold" text-anchor="end" stroke="#000" stroke-width="0.3">-6</text>
<text x="42.3" y="406.22" font-family="'Liberation Sans', Arial, sans-serif" font-size="12.0" font-weight="bold" text-anchor="end" stroke="#000" stroke-width="0.3">-7</text>
<text x="46.8" y="427" font-family="'Liberation Sans', Arial, sans-serif" font-size="12.0" font-weight="bold" text-anchor="middle" stroke="#000" stroke-width="0.3">74</text>
<text x="90.94" y="427" font-family="'Liberation Sans', Arial, sans-serif" font-size="12.0" font-weight="bold" text-anchor="middle" stroke="#000" stroke-width="0.3">75</text>
<text x="135.08" y="427" font-family="'Liberation Sans', Arial, sans-serif" font-size="12.0" font-weight="bold" text-anchor="middle" stroke="#000" stroke-width="0.3">76</text>
<text x="179.22" y="427" font-family="'Liberation Sans', Arial, sans-serif" font-size="12.0" font-weight="bold" text-anchor="middle" stroke="#000" stroke-width="0.3">77</text>
<text x="223.36" y="427" font-family="'Liberation Sans', Arial, sans-serif" font-size="12.0" font-weight="bold" text-anchor="middle" stroke="#000" stroke-width="0.3">78</text>
<text x="267.5" y="427" font-family="'Liberation Sans', Arial, sans-serif" font-size="12.0" font-weight="bold" text-anchor="middle" stroke="#000" stroke-width="0.3">79</text>
<path d="M46.6,246h3.4 M46.6,268.36h3.4 M46.6,290.72h3.4 M46.6,313.08h3.4 M46.6,335.44h3.4 M46.6,357.8h3.4 M46.6,380.16h3.4 M46.6,402.52h3.4 M46.6,257.18h1.8 M46.6,279.54h1.8 M46.6,301.9h1.8 M46.6,324.26h1.8 M46.6,346.62h1.8 M46.6,368.98h1.8 M46.6,391.34h1.8 M46.6,413.2v-3.2 M90.74,413.2v-3.2 M134.88,413.2v-3.2 M179.02,413.2v-3.2 M223.16,413.2v-3.2 M267.3,413.2v-3.2 M68.67,413.2v-1.8 M112.81,413.2v-1.8 M156.95,413.2v-1.8 M201.09,413.2v-1.8 M245.23,413.2v-1.8" stroke="#000" stroke-width="1.2" fill="none"/>
<path d="M68.6,394.15H115.5" stroke="#f00" stroke-width="1.9"/>
<path d="M114.5,391.25L123.4,394.15L114.5,397.05Z" fill="#f00"/>
<g transform="translate(68.50,408.50) scale(1.0022,1)"><text font-family="'Liberation Sans', Arial, sans-serif" font-size="15.1" font-weight="bold">Increasing glucose</text></g>
<g transform="translate(126.53,447.00) scale(0.8333,1)"><g transform="skewX(-6)"><text font-family="'Liberation Serif', 'Times New Roman', serif" font-size="16" font-weight="bold" font-style="italic" stroke="#000" stroke-width="0.6">f</text></g></g>
<g transform="translate(137.60,447.00) scale(1.1000,1)"><text font-family="'Liberation Serif', 'Times New Roman', serif" font-size="15.5" font-weight="bold">(MHz)</text></g>
<g transform="translate(24.60,349.22) rotate(-90) scale(1.1204,1)"><text font-family="'Liberation Serif', 'Times New Roman', serif" font-size="15.2" font-weight="bold">S11 (dB)</text></g>
<g transform="translate(10.00,249.10) scale(1.0000,1)"><text font-family="'Liberation Serif', 'Times New Roman', serif" font-size="22.5" font-weight="bold">(c)</text></g>
<g fill="#000">
<rect x="329.3" y="402.8" width="3.8" height="3.8"/>
<rect x="338.4" y="398.8" width="3.8" height="3.8"/>
<rect x="348" y="387.9" width="3.8" height="3.8"/>
<rect x="357.4" y="384" width="3.8" height="3.8"/>
<rect x="366.8" y="377.2" width="3.8" height="3.8"/>
<rect x="376.1" y="369.6" width="3.8" height="3.8"/>
<rect x="385.7" y="362.8" width="3.8" height="3.8"/>
<rect x="394.9" y="356.3" width="3.8" height="3.8"/>
<rect x="404.5" y="345.6" width="3.8" height="3.8"/>
<rect x="413.7" y="341.4" width="3.8" height="3.8"/>
<rect x="423.2" y="326.9" width="3.8" height="3.8"/>
<rect x="432.6" y="320.4" width="3.8" height="3.8"/>
<rect x="442.2" y="317.6" width="3.8" height="3.8"/>
<rect x="451.5" y="309.9" width="3.8" height="3.8"/>
<rect x="461.1" y="300.1" width="3.8" height="3.8"/>
<rect x="470.6" y="295.1" width="3.8" height="3.8"/>
<rect x="479.9" y="285.8" width="3.8" height="3.8"/>
<rect x="489.2" y="274" width="3.8" height="3.8"/>
<rect x="498.6" y="271.3" width="3.8" height="3.8"/>
<rect x="508.1" y="260.8" width="3.8" height="3.8"/>
</g>
<path d="M330.9,408.6L510,264.3" stroke="#f00" stroke-width="1.4"/>
<rect x="321.8" y="235" width="221.2" height="178.2" fill="none" stroke="#000" stroke-width="1.6"/>
<text x="318" y="408.3" font-family="'Liberation Sans', Arial, sans-serif" font-size="12.0" font-weight="bold" text-anchor="end" stroke="#000" stroke-width="0.3">0.0</text>
<text x="318" y="365.83" font-family="'Liberation Sans', Arial, sans-serif" font-size="12.0" font-weight="bold" text-anchor="end" stroke="#000" stroke-width="0.3">0.1</text>
<text x="318" y="323.36" font-family="'Liberation Sans', Arial, sans-serif" font-size="12.0" font-weight="bold" text-anchor="end" stroke="#000" stroke-width="0.3">0.2</text>
<text x="318" y="280.89" font-family="'Liberation Sans', Arial, sans-serif" font-size="12.0" font-weight="bold" text-anchor="end" stroke="#000" stroke-width="0.3">0.3</text>
<text x="318" y="238.42" font-family="'Liberation Sans', Arial, sans-serif" font-size="12.0" font-weight="bold" text-anchor="end" stroke="#000" stroke-width="0.3">0.4</text>
<text x="331.5" y="426.7" font-family="'Liberation Sans', Arial, sans-serif" font-size="12.0" font-weight="bold" text-anchor="middle" stroke="#000" stroke-width="0.3">0.000</text>
<text x="378.62" y="426.7" font-family="'Liberation Sans', Arial, sans-serif" font-size="12.0" font-weight="bold" text-anchor="middle" stroke="#000" stroke-width="0.3">0.005</text>
<text x="425.75" y="426.7" font-family="'Liberation Sans', Arial, sans-serif" font-size="12.0" font-weight="bold" text-anchor="middle" stroke="#000" stroke-width="0.3">0.010</text>
<text x="472.88" y="426.7" font-family="'Liberation Sans', Arial, sans-serif" font-size="12.0" font-weight="bold" text-anchor="middle" stroke="#000" stroke-width="0.3">0.015</text>
<text x="520" y="426.7" font-family="'Liberation Sans', Arial, sans-serif" font-size="12.0" font-weight="bold" text-anchor="middle" stroke="#000" stroke-width="0.3">0.020</text>
<path d="M321.8,404.6h3.2 M321.8,362.13h3.2 M321.8,319.66h3.2 M321.8,277.19h3.2 M321.8,234.72h3.2 M321.8,383.37h1.8 M321.8,340.9h1.8 M321.8,298.43h1.8 M321.8,255.96h1.8 M331.3,413.2v-3.2 M378.43,413.2v-3.2 M425.55,413.2v-3.2 M472.68,413.2v-3.2 M519.8,413.2v-3.2 M354.86,413.2v-1.8 M401.99,413.2v-1.8 M449.11,413.2v-1.8 M496.24,413.2v-1.8" stroke="#000" stroke-width="1.2" fill="none"/>
<g transform="translate(440.90,366.30) scale(0.9222,1)"><text font-family="'Liberation Serif', 'Times New Roman', serif" font-size="14.5" font-weight="bold">Δ</text></g>
<g transform="translate(448.32,366.50) scale(1.1222,1)"><g transform="skewX(-14)"><text font-family="'Liberation Serif', 'Times New Roman', serif" font-size="14.6" font-weight="bold" font-style="italic">f</text></g></g>
<g transform="translate(454.57,370.80) scale(1.0333,1)"><text font-family="'Liberation Sans', Arial, sans-serif" font-size="10.6" font-weight="bold">r</text></g>
<g transform="translate(458.08,366.30) scale(1.0156,1)"><text font-family="'Liberation Sans', Arial, sans-serif" font-size="15" font-weight="bold">=17.76</text></g>
<g transform="translate(508.90,366.30) scale(1.0750,1)"><text font-family="'Liberation Serif', 'Times New Roman', serif" font-size="16.3" font-weight="bold" font-style="italic">x</text></g>
<g transform="translate(441.50,389.90) scale(1.0100,1)"><text font-family="'Liberation Serif', 'Times New Roman', serif" font-size="14.6" font-weight="bold">R</text></g>
<g transform="translate(452.20,384.90) scale(0.9800,1)"><text font-family="'Liberation Sans', Arial, sans-serif" font-size="10.2" font-weight="bold">2</text></g>
<g transform="translate(456.91,390.20) scale(0.9911,1)"><text font-family="'Liberation Sans', Arial, sans-serif" font-size="15" font-weight="bold">=0.997</text></g>
<g transform="translate(346.05,445.60) scale(1.0485,1)"><text font-family="'Liberation Serif', 'Times New Roman', serif" font-size="16" font-weight="bold">Mole fraction of glucose</text></g>
<g transform="translate(291.20,360.70) rotate(-90) scale(0.8800,1)"><text font-family="'Liberation Serif', 'Times New Roman', serif" font-size="15.4" font-weight="bold">Δ</text></g>
<g transform="translate(291.20,348.96) rotate(-90) scale(1.1400,1)"><g transform="skewX(-14)"><text font-family="'Liberation Serif', 'Times New Roman', serif" font-size="15.4" font-weight="bold" font-style="italic" stroke="#000" stroke-width="0.4">f</text></g></g>
<g transform="translate(295.90,341.10) rotate(-90) scale(1.0250,1)"><text font-family="'Liberation Sans', Arial, sans-serif" font-size="9.3" font-weight="bold" stroke="#000" stroke-width="0.3">r</text></g>
<g transform="translate(291.20,333.19) rotate(-90) scale(1.0857,1)"><text font-family="'Liberation Serif', 'Times New Roman', serif" font-size="15.4" font-weight="bold">(MHz)</text></g>
<g transform="translate(273.93,249.10) scale(0.9654,1)"><text font-family="'Liberation Serif', 'Times New Roman', serif" font-size="22.5" font-weight="bold">(d)</text></g>
</svg></body></html>
